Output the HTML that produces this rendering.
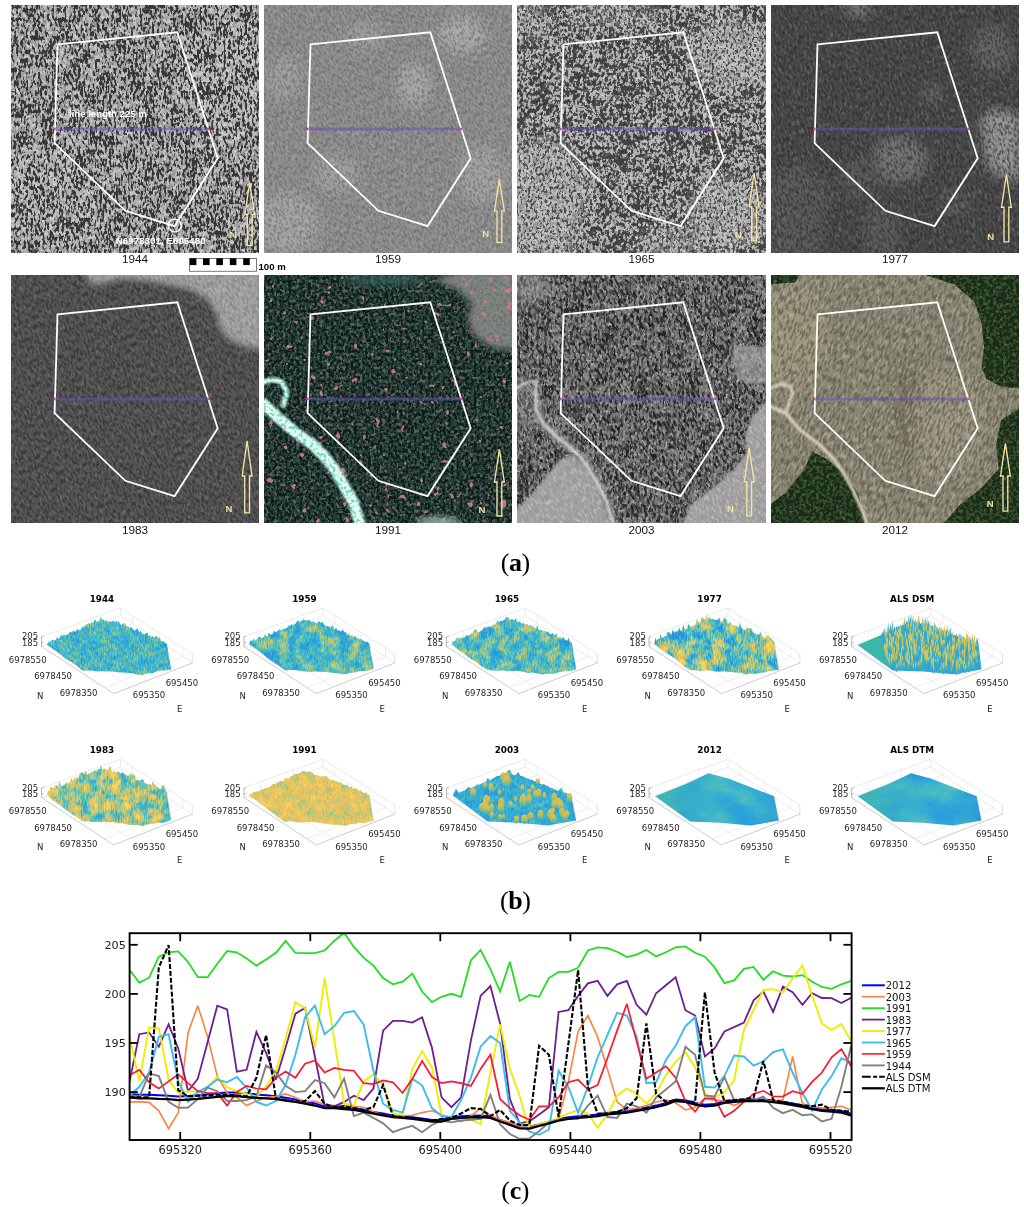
<!DOCTYPE html>
<html><head><meta charset="utf-8"><title>figure</title><style>
html,body{margin:0;padding:0;background:#fff}
body{width:1024px;height:1207px;overflow:hidden}
svg{display:block}
</style></head><body>
<svg width="1024" height="1207" viewBox="0 0 1024 1207">
<defs>
<filter id="blur3" x="-20%" y="-20%" width="140%" height="140%"><feGaussianBlur stdDeviation="3"/></filter>
<filter id="blur6" x="-30%" y="-30%" width="160%" height="160%"><feGaussianBlur stdDeviation="6"/></filter>
<filter id="blur10" x="-30%" y="-30%" width="160%" height="160%"><feGaussianBlur stdDeviation="10"/></filter>
<filter id="blur1" x="-20%" y="-20%" width="140%" height="140%"><feGaussianBlur stdDeviation="1"/></filter>
<filter id="m1944" x="0" y="0" width="1" height="1" color-interpolation-filters="sRGB">
<feTurbulence type="fractalNoise" baseFrequency="0.12 0.1" numOctaves="3" seed="2"/>
<feColorMatrix type="matrix" values="0 0 0 0 0.471 0 0 0 0 0.471 0 0 0 0 0.471 1 0 0 0 0"/>
<feComponentTransfer><feFuncA type="table" tableValues="0.450 0.450 0.450 0.450 0.450 0.450 0.450 0.450 0.450 0.450 0.450 0.450 0.450 0.450 0.450 0.450 0.405 0.349 0.292 0.236 0.180 0.124 0.067 0.011 0.000 0.000 0.000 0.000 0.000 0.000 0.000 0.000 0.000 0.000 0.000 0.000 0.000 0.000 0.000 0.000 0.000"/></feComponentTransfer><feGaussianBlur stdDeviation="0.8"/>
</filter>
<filter id="h1944" x="0" y="0" width="1" height="1" color-interpolation-filters="sRGB">
<feTurbulence type="fractalNoise" baseFrequency="0.42 0.22" numOctaves="2" seed="3" result="h0"/>
<feColorMatrix in="h0" type="matrix" values="1 0 0 0 0 1 0 0 0 0 1 0 0 0 0 0 0 0 0 1" result="h"/>
<feTurbulence type="fractalNoise" baseFrequency="0.07 0.06" numOctaves="2" seed="4" result="l0"/>
<feColorMatrix in="l0" type="matrix" values="1 0 0 0 0 1 0 0 0 0 1 0 0 0 0 0 0 0 0 1" result="l"/>
<feComposite in="h" in2="l" operator="arithmetic" k1="0" k2="0.75" k3="0.25" k4="0.000"/>
<feColorMatrix type="matrix" values="0 0 0 0 0.412 0 0 0 0 0.412 0 0 0 0 0.412 1 0 0 0 0"/>
<feComponentTransfer><feFuncA type="table" tableValues="0.500 0.500 0.500 0.500 0.500 0.500 0.500 0.500 0.500 0.500 0.500 0.500 0.500 0.500 0.500 0.500 0.500 0.500 0.500 0.406 0.250 0.094 0.000 0.000 0.000 0.000 0.000 0.000 0.000 0.000 0.000 0.000 0.000 0.000 0.000 0.000 0.000 0.000 0.000 0.000 0.000"/></feComponentTransfer><feGaussianBlur stdDeviation="0.7"/>
</filter>
<filter id="d1944" x="0" y="0" width="1" height="1" color-interpolation-filters="sRGB">
<feTurbulence type="fractalNoise" baseFrequency="0.42 0.22" numOctaves="2" seed="3" result="h0"/>
<feColorMatrix in="h0" type="matrix" values="1 0 0 0 0 1 0 0 0 0 1 0 0 0 0 0 0 0 0 1" result="h"/>
<feTurbulence type="fractalNoise" baseFrequency="0.07 0.06" numOctaves="2" seed="4" result="l0"/>
<feColorMatrix in="l0" type="matrix" values="1 0 0 0 0 1 0 0 0 0 1 0 0 0 0 0 0 0 0 1" result="l"/>
<feComposite in="h" in2="l" operator="arithmetic" k1="0" k2="0.75" k3="0.25" k4="0.000"/>
<feColorMatrix type="matrix" values="0 0 0 0 0.165 0 0 0 0 0.165 0 0 0 0 0.165 1 0 0 0 0"/>
<feComponentTransfer><feFuncA type="table" tableValues="0.880 0.880 0.880 0.880 0.880 0.880 0.880 0.880 0.880 0.880 0.880 0.880 0.880 0.880 0.880 0.880 0.880 0.880 0.629 0.314 0.000 0.000 0.000 0.000 0.000 0.000 0.000 0.000 0.000 0.000 0.000 0.000 0.000 0.000 0.000 0.000 0.000 0.000 0.000 0.000 0.000"/></feComponentTransfer><feGaussianBlur stdDeviation="0.55"/>
</filter>
<filter id="l1944" x="0" y="0" width="1" height="1" color-interpolation-filters="sRGB">
<feTurbulence type="fractalNoise" baseFrequency="0.3 0.25" numOctaves="3" seed="5"/>
<feColorMatrix type="matrix" values="0 0 0 0 0.831 0 0 0 0 0.831 0 0 0 0 0.831 1 0 0 0 0"/>
<feComponentTransfer><feFuncA type="table" tableValues="0.000 0.000 0.000 0.000 0.000 0.000 0.000 0.000 0.000 0.000 0.000 0.000 0.000 0.000 0.000 0.000 0.000 0.000 0.000 0.110 0.221 0.331 0.441 0.551 0.662 0.750 0.750 0.750 0.750 0.750 0.750 0.750 0.750 0.750 0.750 0.750 0.750 0.750 0.750 0.750 0.750"/></feComponentTransfer><feGaussianBlur stdDeviation="0.5"/>
</filter>
<clipPath id="cp0"><rect x="11" y="5" width="248" height="248"/></clipPath>
<filter id="d1959" x="0" y="0" width="1" height="1" color-interpolation-filters="sRGB">
<feTurbulence type="fractalNoise" baseFrequency="0.6 0.25" numOctaves="2" seed="5"/>
<feColorMatrix type="matrix" values="0 0 0 0 0.373 0 0 0 0 0.373 0 0 0 0 0.373 1 0 0 0 0"/>
<feComponentTransfer><feFuncA type="table" tableValues="0.550 0.550 0.550 0.550 0.550 0.550 0.550 0.550 0.550 0.550 0.550 0.550 0.550 0.550 0.550 0.550 0.471 0.373 0.275 0.177 0.079 0.000 0.000 0.000 0.000 0.000 0.000 0.000 0.000 0.000 0.000 0.000 0.000 0.000 0.000 0.000 0.000 0.000 0.000 0.000 0.000"/></feComponentTransfer><feGaussianBlur stdDeviation="0.5"/>
</filter>
<filter id="l1959" x="0" y="0" width="1" height="1" color-interpolation-filters="sRGB">
<feTurbulence type="fractalNoise" baseFrequency="0.5 0.22" numOctaves="2" seed="9"/>
<feColorMatrix type="matrix" values="0 0 0 0 0.686 0 0 0 0 0.686 0 0 0 0 0.686 1 0 0 0 0"/>
<feComponentTransfer><feFuncA type="table" tableValues="0.000 0.000 0.000 0.000 0.000 0.000 0.000 0.000 0.000 0.000 0.000 0.000 0.000 0.000 0.000 0.000 0.000 0.000 0.000 0.000 0.000 0.016 0.096 0.177 0.257 0.337 0.418 0.450 0.450 0.450 0.450 0.450 0.450 0.450 0.450 0.450 0.450 0.450 0.450 0.450 0.450"/></feComponentTransfer><feGaussianBlur stdDeviation="0.5"/>
</filter>
<clipPath id="cp1"><rect x="264" y="5" width="248" height="248"/></clipPath>
<filter id="d1965" x="0" y="0" width="1" height="1" color-interpolation-filters="sRGB">
<feTurbulence type="fractalNoise" baseFrequency="0.3 0.22" numOctaves="2" seed="11" result="h0"/>
<feColorMatrix in="h0" type="matrix" values="1 0 0 0 0 1 0 0 0 0 1 0 0 0 0 0 0 0 0 1" result="h"/>
<feTurbulence type="fractalNoise" baseFrequency="0.06 0.06" numOctaves="2" seed="12" result="l0"/>
<feColorMatrix in="l0" type="matrix" values="1 0 0 0 0 1 0 0 0 0 1 0 0 0 0 0 0 0 0 1" result="l"/>
<feComposite in="h" in2="l" operator="arithmetic" k1="0" k2="0.72" k3="0.28" k4="0.000"/>
<feColorMatrix type="matrix" values="0 0 0 0 0.188 0 0 0 0 0.188 0 0 0 0 0.188 1 0 0 0 0"/>
<feComponentTransfer><feFuncA type="table" tableValues="0.800 0.800 0.800 0.800 0.800 0.800 0.800 0.800 0.800 0.800 0.800 0.800 0.800 0.800 0.800 0.800 0.800 0.800 0.571 0.286 0.000 0.000 0.000 0.000 0.000 0.000 0.000 0.000 0.000 0.000 0.000 0.000 0.000 0.000 0.000 0.000 0.000 0.000 0.000 0.000 0.000"/></feComponentTransfer><feGaussianBlur stdDeviation="0.55"/>
</filter>
<filter id="h1965" x="0" y="0" width="1" height="1" color-interpolation-filters="sRGB">
<feTurbulence type="fractalNoise" baseFrequency="0.3 0.22" numOctaves="2" seed="11" result="h0"/>
<feColorMatrix in="h0" type="matrix" values="1 0 0 0 0 1 0 0 0 0 1 0 0 0 0 0 0 0 0 1" result="h"/>
<feTurbulence type="fractalNoise" baseFrequency="0.06 0.06" numOctaves="2" seed="12" result="l0"/>
<feColorMatrix in="l0" type="matrix" values="1 0 0 0 0 1 0 0 0 0 1 0 0 0 0 0 0 0 0 1" result="l"/>
<feComposite in="h" in2="l" operator="arithmetic" k1="0" k2="0.72" k3="0.28" k4="0.000"/>
<feColorMatrix type="matrix" values="0 0 0 0 0.392 0 0 0 0 0.392 0 0 0 0 0.392 1 0 0 0 0"/>
<feComponentTransfer><feFuncA type="table" tableValues="0.450 0.450 0.450 0.450 0.450 0.450 0.450 0.450 0.450 0.450 0.450 0.450 0.450 0.450 0.450 0.450 0.450 0.450 0.450 0.366 0.225 0.084 0.000 0.000 0.000 0.000 0.000 0.000 0.000 0.000 0.000 0.000 0.000 0.000 0.000 0.000 0.000 0.000 0.000 0.000 0.000"/></feComponentTransfer><feGaussianBlur stdDeviation="0.7"/>
</filter>
<filter id="l1965" x="0" y="0" width="1" height="1" color-interpolation-filters="sRGB">
<feTurbulence type="fractalNoise" baseFrequency="0.3 0.3" numOctaves="3" seed="13"/>
<feColorMatrix type="matrix" values="0 0 0 0 0.804 0 0 0 0 0.804 0 0 0 0 0.804 1 0 0 0 0"/>
<feComponentTransfer><feFuncA type="table" tableValues="0.000 0.000 0.000 0.000 0.000 0.000 0.000 0.000 0.000 0.000 0.000 0.000 0.000 0.000 0.000 0.000 0.000 0.000 0.000 0.100 0.200 0.300 0.400 0.500 0.600 0.700 0.800 0.800 0.800 0.800 0.800 0.800 0.800 0.800 0.800 0.800 0.800 0.800 0.800 0.800 0.800"/></feComponentTransfer><feGaussianBlur stdDeviation="0.5"/>
</filter>
<filter id="s1965" x="0" y="0" width="1" height="1" color-interpolation-filters="sRGB">
<feTurbulence type="fractalNoise" baseFrequency="0.42 0.3" numOctaves="2" seed="12"/>
<feColorMatrix type="matrix" values="0 0 0 0 0.216 0 0 0 0 0.216 0 0 0 0 0.216 1 0 0 0 0"/>
<feComponentTransfer><feFuncA type="table" tableValues="0.800 0.800 0.800 0.800 0.800 0.800 0.800 0.800 0.800 0.800 0.800 0.800 0.800 0.800 0.800 0.800 0.600 0.350 0.100 0.000 0.000 0.000 0.000 0.000 0.000 0.000 0.000 0.000 0.000 0.000 0.000 0.000 0.000 0.000 0.000 0.000 0.000 0.000 0.000 0.000 0.000"/></feComponentTransfer><feGaussianBlur stdDeviation="0.5"/>
</filter>
<clipPath id="cp2"><rect x="517" y="5" width="249" height="248"/></clipPath>
<mask id="dm1965"><rect x="517" y="5" width="249" height="248" fill="#fff"/><ellipse cx="731.0" cy="53.6" rx="41.3" ry="34.0" fill="#4a4a4a" filter="url(#blur6)"/><ellipse cx="546.2" cy="199.6" rx="38.9" ry="63.2" fill="#4a4a4a" filter="url(#blur6)"/><ellipse cx="728.6" cy="211.7" rx="41.3" ry="34.0" fill="#555" filter="url(#blur6)"/><ellipse cx="614.3" cy="14.7" rx="48.6" ry="12.2" fill="#888" filter="url(#blur6)"/><ellipse cx="531.6" cy="19.6" rx="19.5" ry="19.5" fill="#777" filter="url(#blur6)"/><ellipse cx="675.1" cy="243.3" rx="38.9" ry="14.6" fill="#777" filter="url(#blur6)"/></mask>
<filter id="d1977" x="0" y="0" width="1" height="1" color-interpolation-filters="sRGB">
<feTurbulence type="fractalNoise" baseFrequency="0.55 0.22" numOctaves="2" seed="17"/>
<feColorMatrix type="matrix" values="0 0 0 0 0.157 0 0 0 0 0.157 0 0 0 0 0.157 1 0 0 0 0"/>
<feComponentTransfer><feFuncA type="table" tableValues="0.600 0.600 0.600 0.600 0.600 0.600 0.600 0.600 0.600 0.600 0.600 0.600 0.600 0.600 0.600 0.600 0.514 0.407 0.300 0.193 0.086 0.000 0.000 0.000 0.000 0.000 0.000 0.000 0.000 0.000 0.000 0.000 0.000 0.000 0.000 0.000 0.000 0.000 0.000 0.000 0.000"/></feComponentTransfer><feGaussianBlur stdDeviation="0.5"/>
</filter>
<filter id="l1977" x="0" y="0" width="1" height="1" color-interpolation-filters="sRGB">
<feTurbulence type="fractalNoise" baseFrequency="0.45 0.2" numOctaves="2" seed="19"/>
<feColorMatrix type="matrix" values="0 0 0 0 0.490 0 0 0 0 0.490 0 0 0 0 0.490 1 0 0 0 0"/>
<feComponentTransfer><feFuncA type="table" tableValues="0.000 0.000 0.000 0.000 0.000 0.000 0.000 0.000 0.000 0.000 0.000 0.000 0.000 0.000 0.000 0.000 0.000 0.000 0.000 0.000 0.000 0.016 0.094 0.172 0.250 0.328 0.406 0.484 0.500 0.500 0.500 0.500 0.500 0.500 0.500 0.500 0.500 0.500 0.500 0.500 0.500"/></feComponentTransfer><feGaussianBlur stdDeviation="0.5"/>
</filter>
<clipPath id="cp3"><rect x="771" y="5" width="248" height="248"/></clipPath>
<filter id="d1983" x="0" y="0" width="1" height="1" color-interpolation-filters="sRGB">
<feTurbulence type="fractalNoise" baseFrequency="0.55 0.22" numOctaves="2" seed="23"/>
<feColorMatrix type="matrix" values="0 0 0 0 0.157 0 0 0 0 0.157 0 0 0 0 0.157 1 0 0 0 0"/>
<feComponentTransfer><feFuncA type="table" tableValues="0.600 0.600 0.600 0.600 0.600 0.600 0.600 0.600 0.600 0.600 0.600 0.600 0.600 0.600 0.600 0.600 0.514 0.407 0.300 0.193 0.086 0.000 0.000 0.000 0.000 0.000 0.000 0.000 0.000 0.000 0.000 0.000 0.000 0.000 0.000 0.000 0.000 0.000 0.000 0.000 0.000"/></feComponentTransfer><feGaussianBlur stdDeviation="0.5"/>
</filter>
<filter id="l1983" x="0" y="0" width="1" height="1" color-interpolation-filters="sRGB">
<feTurbulence type="fractalNoise" baseFrequency="0.45 0.2" numOctaves="2" seed="29"/>
<feColorMatrix type="matrix" values="0 0 0 0 0.490 0 0 0 0 0.490 0 0 0 0 0.490 1 0 0 0 0"/>
<feComponentTransfer><feFuncA type="table" tableValues="0.000 0.000 0.000 0.000 0.000 0.000 0.000 0.000 0.000 0.000 0.000 0.000 0.000 0.000 0.000 0.000 0.000 0.000 0.000 0.000 0.000 0.016 0.094 0.172 0.250 0.328 0.406 0.484 0.500 0.500 0.500 0.500 0.500 0.500 0.500 0.500 0.500 0.500 0.500 0.500 0.500"/></feComponentTransfer><feGaussianBlur stdDeviation="0.5"/>
</filter>
<filter id="lc1983" x="0" y="0" width="1" height="1" color-interpolation-filters="sRGB">
<feTurbulence type="fractalNoise" baseFrequency="0.5 0.2" numOctaves="2" seed="31"/>
<feColorMatrix type="matrix" values="0 0 0 0 0.431 0 0 0 0 0.431 0 0 0 0 0.431 1 0 0 0 0"/>
<feComponentTransfer><feFuncA type="table" tableValues="0.450 0.450 0.450 0.450 0.450 0.450 0.450 0.450 0.450 0.450 0.450 0.450 0.450 0.450 0.450 0.450 0.386 0.305 0.225 0.145 0.064 0.000 0.000 0.000 0.000 0.000 0.000 0.000 0.000 0.000 0.000 0.000 0.000 0.000 0.000 0.000 0.000 0.000 0.000 0.000 0.000"/></feComponentTransfer><feGaussianBlur stdDeviation="0.5"/>
</filter>
<filter id="ll1983" x="0" y="0" width="1" height="1" color-interpolation-filters="sRGB">
<feTurbulence type="fractalNoise" baseFrequency="0.5 0.2" numOctaves="2" seed="37"/>
<feColorMatrix type="matrix" values="0 0 0 0 0.745 0 0 0 0 0.745 0 0 0 0 0.745 1 0 0 0 0"/>
<feComponentTransfer><feFuncA type="table" tableValues="0.000 0.000 0.000 0.000 0.000 0.000 0.000 0.000 0.000 0.000 0.000 0.000 0.000 0.000 0.000 0.000 0.000 0.000 0.000 0.000 0.000 0.078 0.156 0.234 0.312 0.391 0.469 0.500 0.500 0.500 0.500 0.500 0.500 0.500 0.500 0.500 0.500 0.500 0.500 0.500 0.500"/></feComponentTransfer><feGaussianBlur stdDeviation="0.5"/>
</filter>
<clipPath id="cp4"><rect x="11" y="275" width="248" height="248"/></clipPath>
<mask id="lm1983"><polygon points="83.7,270.2 262.9,270.2 262.9,350.1 243.5,346.4 229.0,339.2 219.3,328.3 216.9,313.8 207.2,299.2 190.2,289.5 168.4,284.7 146.6,281.1 120.0,278.6 103.0,283.5 90.9,284.7" fill="#fff" filter="url(#blur3)"/></mask>
<filter id="c1991" x="0" y="0" width="1" height="1" color-interpolation-filters="sRGB">
<feTurbulence type="fractalNoise" baseFrequency="0.3 0.3" numOctaves="2" seed="31"/>
<feColorMatrix type="matrix" values="0 0 0 0 0.439 0 0 0 0 0.424 0 0 0 0 0.431 1 0 0 0 0"/>
<feComponentTransfer><feFuncA type="table" tableValues="0.000 0.000 0.000 0.000 0.000 0.000 0.000 0.000 0.000 0.000 0.000 0.000 0.000 0.000 0.000 0.000 0.000 0.000 0.000 0.000 0.000 0.156 0.313 0.469 0.625 0.750 0.750 0.750 0.750 0.750 0.750 0.750 0.750 0.750 0.750 0.750 0.750 0.750 0.750 0.750 0.750"/></feComponentTransfer><feGaussianBlur stdDeviation="0.5"/>
</filter>
<filter id="d1991" x="0" y="0" width="1" height="1" color-interpolation-filters="sRGB">
<feTurbulence type="fractalNoise" baseFrequency="0.35 0.3" numOctaves="2" seed="33"/>
<feColorMatrix type="matrix" values="0 0 0 0 0.031 0 0 0 0 0.086 0 0 0 0 0.071 1 0 0 0 0"/>
<feComponentTransfer><feFuncA type="table" tableValues="0.850 0.850 0.850 0.850 0.850 0.850 0.850 0.850 0.850 0.850 0.850 0.850 0.850 0.850 0.850 0.850 0.850 0.807 0.595 0.383 0.170 0.000 0.000 0.000 0.000 0.000 0.000 0.000 0.000 0.000 0.000 0.000 0.000 0.000 0.000 0.000 0.000 0.000 0.000 0.000 0.000"/></feComponentTransfer><feGaussianBlur stdDeviation="0.5"/>
</filter>
<filter id="p1991" x="0" y="0" width="1" height="1" color-interpolation-filters="sRGB">
<feTurbulence type="fractalNoise" baseFrequency="0.12 0.12" numOctaves="2" seed="41"/>
<feColorMatrix type="matrix" values="0 0 0 0 0.902 0 0 0 0 0.529 0 0 0 0 0.529 1 0 0 0 0"/>
<feComponentTransfer><feFuncA type="table" tableValues="0.000 0.000 0.000 0.000 0.000 0.000 0.000 0.000 0.000 0.000 0.000 0.000 0.000 0.000 0.000 0.000 0.000 0.000 0.000 0.000 0.000 0.000 0.000 0.000 0.000 0.000 0.000 0.000 0.000 0.000 0.343 0.800 0.800 0.800 0.800 0.800 0.800 0.800 0.800 0.800 0.800"/></feComponentTransfer><feGaussianBlur stdDeviation="0.5"/>
</filter>
<filter id="pp1991" x="0" y="0" width="1" height="1" color-interpolation-filters="sRGB">
<feTurbulence type="fractalNoise" baseFrequency="0.16 0.16" numOctaves="2" seed="43"/>
<feColorMatrix type="matrix" values="0 0 0 0 0.843 0 0 0 0 0.471 0 0 0 0 0.490 1 0 0 0 0"/>
<feComponentTransfer><feFuncA type="table" tableValues="0.000 0.000 0.000 0.000 0.000 0.000 0.000 0.000 0.000 0.000 0.000 0.000 0.000 0.000 0.000 0.000 0.000 0.000 0.000 0.000 0.000 0.000 0.000 0.000 0.000 0.000 0.142 0.496 0.850 0.850 0.850 0.850 0.850 0.850 0.850 0.850 0.850 0.850 0.850 0.850 0.850"/></feComponentTransfer><feGaussianBlur stdDeviation="0.5"/>
</filter>
<filter id="r1991" x="0" y="0" width="1" height="1" color-interpolation-filters="sRGB">
<feTurbulence type="fractalNoise" baseFrequency="0.3 0.3" numOctaves="2" seed="45"/>
<feColorMatrix type="matrix" values="0 0 0 0 0.922 0 0 0 0 1.000 0 0 0 0 0.973 1 0 0 0 0"/>
<feComponentTransfer><feFuncA type="table" tableValues="0.000 0.000 0.000 0.000 0.000 0.000 0.000 0.000 0.000 0.000 0.000 0.000 0.000 0.000 0.000 0.102 0.271 0.441 0.611 0.780 0.950 0.950 0.950 0.950 0.950 0.950 0.950 0.950 0.950 0.950 0.950 0.950 0.950 0.950 0.950 0.950 0.950 0.950 0.950 0.950 0.950"/></feComponentTransfer><feGaussianBlur stdDeviation="0.5"/>
</filter>
<clipPath id="cp5"><rect x="264" y="275" width="248" height="248"/></clipPath>
<mask id="um1991"><polygon points="465.0,270.2 515.9,270.2 515.9,350.1 494.1,347.7 474.7,335.5 467.4,318.6 472.3,304.1 457.8,289.5 433.5,279.8" fill="#fff" filter="url(#blur3)"/></mask>
<mask id="rm1991"><polyline points="261.6,402.1 278.5,417.9 295.5,432.4 312.4,444.5 324.5,456.6 334.2,468.8 343.9,485.7 353.6,502.7 360.9,526.9" fill="none" stroke="#fff" stroke-width="11" stroke-linejoin="round" filter="url(#blur1)"/><polyline points="261.6,382.8 271.3,379.6 281.0,381.6 287.0,391.3 284.6,400.9 282.2,407.0" fill="none" stroke="#fff" stroke-width="5" filter="url(#blur1)"/></mask>
<filter id="d2003" x="0" y="0" width="1" height="1" color-interpolation-filters="sRGB">
<feTurbulence type="fractalNoise" baseFrequency="0.38 0.22" numOctaves="2" seed="43" result="h0"/>
<feColorMatrix in="h0" type="matrix" values="1 0 0 0 0 1 0 0 0 0 1 0 0 0 0 0 0 0 0 1" result="h"/>
<feTurbulence type="fractalNoise" baseFrequency="0.06 0.06" numOctaves="2" seed="44" result="l0"/>
<feColorMatrix in="l0" type="matrix" values="1 0 0 0 0 1 0 0 0 0 1 0 0 0 0 0 0 0 0 1" result="l"/>
<feComposite in="h" in2="l" operator="arithmetic" k1="0" k2="0.72" k3="0.28" k4="0.000"/>
<feColorMatrix type="matrix" values="0 0 0 0 0.098 0 0 0 0 0.098 0 0 0 0 0.098 1 0 0 0 0"/>
<feComponentTransfer><feFuncA type="table" tableValues="0.930 0.930 0.930 0.930 0.930 0.930 0.930 0.930 0.930 0.930 0.930 0.930 0.930 0.930 0.930 0.930 0.930 0.930 0.930 0.756 0.465 0.174 0.000 0.000 0.000 0.000 0.000 0.000 0.000 0.000 0.000 0.000 0.000 0.000 0.000 0.000 0.000 0.000 0.000 0.000 0.000"/></feComponentTransfer><feGaussianBlur stdDeviation="0.5"/>
</filter>
<filter id="l2003" x="0" y="0" width="1" height="1" color-interpolation-filters="sRGB">
<feTurbulence type="fractalNoise" baseFrequency="0.35 0.3" numOctaves="3" seed="47"/>
<feColorMatrix type="matrix" values="0 0 0 0 0.765 0 0 0 0 0.765 0 0 0 0 0.765 1 0 0 0 0"/>
<feComponentTransfer><feFuncA type="table" tableValues="0.000 0.000 0.000 0.000 0.000 0.000 0.000 0.000 0.000 0.000 0.000 0.000 0.000 0.000 0.000 0.000 0.000 0.000 0.000 0.000 0.000 0.021 0.125 0.229 0.333 0.438 0.542 0.646 0.750 0.750 0.750 0.750 0.750 0.750 0.750 0.750 0.750 0.750 0.750 0.750 0.750"/></feComponentTransfer><feGaussianBlur stdDeviation="0.5"/>
</filter>
<filter id="t2003" x="0" y="0" width="1" height="1" color-interpolation-filters="sRGB">
<feTurbulence type="fractalNoise" baseFrequency="0.5 0.12" numOctaves="2" seed="48"/>
<feColorMatrix type="matrix" values="0 0 0 0 0.588 0 0 0 0 0.588 0 0 0 0 0.588 1 0 0 0 0"/>
<feComponentTransfer><feFuncA type="table" tableValues="0.500 0.500 0.500 0.500 0.500 0.500 0.500 0.500 0.500 0.500 0.500 0.500 0.500 0.500 0.500 0.500 0.500 0.438 0.375 0.313 0.250 0.187 0.125 0.063 0.000 0.000 0.000 0.000 0.000 0.000 0.000 0.000 0.000 0.000 0.000 0.000 0.000 0.000 0.000 0.000 0.000"/></feComponentTransfer><feGaussianBlur stdDeviation="0.5"/>
</filter>
<filter id="c2003" x="0" y="0" width="1" height="1" color-interpolation-filters="sRGB">
<feTurbulence type="fractalNoise" baseFrequency="0.6 0.15" numOctaves="2" seed="71"/>
<feColorMatrix type="matrix" values="0 0 0 0 0.549 0 0 0 0 0.549 0 0 0 0 0.549 1 0 0 0 0"/>
<feComponentTransfer><feFuncA type="table" tableValues="0.550 0.550 0.550 0.550 0.550 0.550 0.550 0.550 0.550 0.550 0.550 0.550 0.550 0.550 0.550 0.498 0.412 0.327 0.241 0.155 0.069 0.000 0.000 0.000 0.000 0.000 0.000 0.000 0.000 0.000 0.000 0.000 0.000 0.000 0.000 0.000 0.000 0.000 0.000 0.000 0.000"/></feComponentTransfer><feGaussianBlur stdDeviation="0.5"/>
</filter>
<filter id="cl2003" x="0" y="0" width="1" height="1" color-interpolation-filters="sRGB">
<feTurbulence type="fractalNoise" baseFrequency="0.5 0.2" numOctaves="2" seed="73"/>
<feColorMatrix type="matrix" values="0 0 0 0 0.843 0 0 0 0 0.843 0 0 0 0 0.843 1 0 0 0 0"/>
<feComponentTransfer><feFuncA type="table" tableValues="0.000 0.000 0.000 0.000 0.000 0.000 0.000 0.000 0.000 0.000 0.000 0.000 0.000 0.000 0.000 0.000 0.000 0.000 0.000 0.000 0.000 0.018 0.107 0.196 0.286 0.375 0.464 0.500 0.500 0.500 0.500 0.500 0.500 0.500 0.500 0.500 0.500 0.500 0.500 0.500 0.500"/></feComponentTransfer><feGaussianBlur stdDeviation="0.5"/>
</filter>
<clipPath id="cp6"><rect x="517" y="275" width="249" height="248"/></clipPath>
<mask id="fm2003"><rect x="517" y="275" width="249" height="248" fill="#fff"/><polygon points="514.0,526.0 514.0,511.8 534.6,491.3 550.7,470.8 560.9,459.1 572.7,456.2 582.9,462.0 593.2,473.7 602.0,491.3 610.7,526.0" fill="#000" filter="url(#blur1)"/><polygon points="733.2,346.0 769.0,346.0 769.0,382.8 746.0,384.4 734.8,373.2 732.0,358.8" fill="#505050" filter="url(#blur1)"/><polygon points="769.0,398.8 752.4,416.4 746.0,434.0 746.0,454.8 733.2,470.8 714.0,486.8 690.0,506.0 682.0,526.0 769.0,526.0" fill="#000" filter="url(#blur1)"/><polygon points="536.0,383.0 543.0,415.0 557.0,433.0 577.0,447.0 595.0,467.0 607.0,490.0 617.0,525.0 609.0,525.0 599.0,487.0 587.0,470.0 569.0,453.0 551.0,438.0 537.0,425.0 531.0,395.0" fill="#555" filter="url(#blur3)"/><polygon points="514.0,375.0 534.0,375.0 534.0,425.0 514.0,435.0" fill="#aaa" filter="url(#blur3)"/><ellipse cx="525" cy="283" rx="24" ry="24" fill="#999" filter="url(#blur6)"/></mask>
<filter id="d2012" x="0" y="0" width="1" height="1" color-interpolation-filters="sRGB">
<feTurbulence type="fractalNoise" baseFrequency="0.5 0.15" numOctaves="2" seed="53"/>
<feColorMatrix type="matrix" values="0 0 0 0 0.306 0 0 0 0 0.306 0 0 0 0 0.259 1 0 0 0 0"/>
<feComponentTransfer><feFuncA type="table" tableValues="0.600 0.600 0.600 0.600 0.600 0.600 0.600 0.600 0.600 0.600 0.600 0.600 0.600 0.600 0.600 0.600 0.514 0.407 0.300 0.193 0.086 0.000 0.000 0.000 0.000 0.000 0.000 0.000 0.000 0.000 0.000 0.000 0.000 0.000 0.000 0.000 0.000 0.000 0.000 0.000 0.000"/></feComponentTransfer><feGaussianBlur stdDeviation="0.5"/>
</filter>
<filter id="l2012" x="0" y="0" width="1" height="1" color-interpolation-filters="sRGB">
<feTurbulence type="fractalNoise" baseFrequency="0.45 0.15" numOctaves="2" seed="59"/>
<feColorMatrix type="matrix" values="0 0 0 0 0.725 0 0 0 0 0.706 0 0 0 0 0.627 1 0 0 0 0"/>
<feComponentTransfer><feFuncA type="table" tableValues="0.000 0.000 0.000 0.000 0.000 0.000 0.000 0.000 0.000 0.000 0.000 0.000 0.000 0.000 0.000 0.000 0.000 0.000 0.000 0.000 0.000 0.094 0.188 0.281 0.375 0.469 0.562 0.600 0.600 0.600 0.600 0.600 0.600 0.600 0.600 0.600 0.600 0.600 0.600 0.600 0.600"/></feComponentTransfer><feGaussianBlur stdDeviation="0.5"/>
</filter>
<filter id="g2012" x="0" y="0" width="1" height="1" color-interpolation-filters="sRGB">
<feTurbulence type="fractalNoise" baseFrequency="0.3 0.3" numOctaves="2" seed="61"/>
<feColorMatrix type="matrix" values="0 0 0 0 0.078 0 0 0 0 0.157 0 0 0 0 0.078 1 0 0 0 0"/>
<feComponentTransfer><feFuncA type="table" tableValues="0.900 0.900 0.900 0.900 0.900 0.900 0.900 0.900 0.900 0.900 0.900 0.900 0.900 0.900 0.900 0.900 0.900 0.900 0.900 0.765 0.540 0.315 0.090 0.000 0.000 0.000 0.000 0.000 0.000 0.000 0.000 0.000 0.000 0.000 0.000 0.000 0.000 0.000 0.000 0.000 0.000"/></feComponentTransfer><feGaussianBlur stdDeviation="0.5"/>
</filter>
<filter id="gl2012" x="0" y="0" width="1" height="1" color-interpolation-filters="sRGB">
<feTurbulence type="fractalNoise" baseFrequency="0.3 0.3" numOctaves="2" seed="67"/>
<feColorMatrix type="matrix" values="0 0 0 0 0.275 0 0 0 0 0.431 0 0 0 0 0.216 1 0 0 0 0"/>
<feComponentTransfer><feFuncA type="table" tableValues="0.000 0.000 0.000 0.000 0.000 0.000 0.000 0.000 0.000 0.000 0.000 0.000 0.000 0.000 0.000 0.000 0.000 0.000 0.000 0.000 0.000 0.000 0.000 0.000 0.200 0.450 0.700 0.800 0.800 0.800 0.800 0.800 0.800 0.800 0.800 0.800 0.800 0.800 0.800 0.800 0.800"/></feComponentTransfer><feGaussianBlur stdDeviation="0.5"/>
</filter>
<clipPath id="cp7"><rect x="771" y="275" width="248" height="248"/></clipPath>
<clipPath id="fo2012"><polygon points="916.3,270.2 1022.9,270.2 1022.9,388.8 1001.1,386.4 986.5,379.1 981.7,367.0 984.1,347.7 981.7,323.4 974.4,301.6 955.1,284.7 926.0,275.0"/><polygon points="1022.9,405.8 1001.1,420.3 996.2,444.5 998.7,468.8 981.7,488.1 959.9,505.1 940.5,526.9 1022.9,526.9"/><polygon points="766.2,526.9 766.2,507.5 785.5,493.0 804.9,468.8 812.2,451.8 826.7,459.1 843.7,473.6 858.2,493.0 865.5,526.9"/><polygon points="766.2,270.2 802.5,270.2 795.2,282.3 766.2,284.7"/></clipPath>
<linearGradient id="spk" x1="0" y1="0" x2="0" y2="1"><stop offset="0" stop-color="#f4cc50"/><stop offset="0.35" stop-color="#d8c858"/><stop offset="0.6" stop-color="#58b8a8"/><stop offset="1" stop-color="#2a9ed4"/></linearGradient>
<linearGradient id="blb" x1="0" y1="0" x2="0" y2="1"><stop offset="0" stop-color="#f0be48"/><stop offset="0.5" stop-color="#b8c060"/><stop offset="1" stop-color="#40b0b8"/></linearGradient>
<linearGradient id="tint" x1="0" y1="0" x2="1" y2="0"><stop offset="0.05" stop-color="#48bca0" stop-opacity="0.75"/><stop offset="0.4" stop-color="#40b4b0" stop-opacity="0.15"/><stop offset="0.7" stop-color="#2aa0d0" stop-opacity="0"/><stop offset="1" stop-color="#1f88d8" stop-opacity="0.4"/></linearGradient>
<filter id="pf0" x="0" y="0" width="1" height="1" color-interpolation-filters="sRGB">
<feTurbulence type="fractalNoise" baseFrequency="0.1 0.1" numOctaves="3" seed="3" result="a0"/>
<feColorMatrix in="a0" type="matrix" values="1 0 0 0 0 1 0 0 0 0 1 0 0 0 0 0 0 0 0 1" result="a"/>
<feTurbulence type="fractalNoise" baseFrequency="0.7 0.25" numOctaves="2" seed="6" result="b0"/>
<feColorMatrix in="b0" type="matrix" values="1 0 0 0 0 1 0 0 0 0 1 0 0 0 0 0 0 0 0 1" result="b"/>
<feComposite in="a" in2="b" operator="arithmetic" k1="0" k2="0.4" k3="0.6" k4="0.000"/>
<feComponentTransfer><feFuncR type="table" tableValues="0.160 0.160 0.160 0.160 0.160 0.160 0.160 0.160 0.160 0.161 0.167 0.173 0.178 0.194 0.213 0.233 0.258 0.311 0.364 0.418 0.486 0.565 0.644 0.722 0.781 0.840 0.899 0.935 0.947 0.958 0.969 0.970 0.970"/><feFuncG type="table" tableValues="0.580 0.580 0.580 0.580 0.580 0.580 0.580 0.580 0.580 0.585 0.605 0.624 0.644 0.664 0.683 0.703 0.722 0.736 0.750 0.764 0.772 0.774 0.777 0.780 0.774 0.769 0.763 0.771 0.793 0.816 0.838 0.840 0.840"/><feFuncB type="table" tableValues="0.860 0.860 0.860 0.860 0.860 0.860 0.860 0.860 0.860 0.859 0.856 0.854 0.851 0.840 0.826 0.812 0.794 0.755 0.716 0.676 0.630 0.580 0.529 0.479 0.448 0.417 0.386 0.369 0.366 0.363 0.360 0.360 0.360"/></feComponentTransfer>
</filter>
<clipPath id="sc0"><polygon points="47.8,642.9 49.1,641.5 50.5,641.6 51.8,640.2 53.1,639.6 54.4,640.4 55.8,639.9 57.1,636.9 58.4,638.6 59.7,638.1 61.1,634.3 62.4,636.4 63.7,634.2 65.0,635.4 66.4,634.2 67.7,635.0 69.0,633.1 70.3,631.4 71.7,632.5 73.0,631.0 74.3,630.8 75.6,631.9 77.0,629.3 78.3,629.6 79.6,629.9 81.0,629.5 82.3,626.3 83.6,627.5 84.9,625.8 86.3,624.3 87.6,624.6 88.9,622.8 90.3,624.6 91.6,622.3 92.9,623.2 94.3,620.2 95.6,619.9 96.9,622.0 98.2,621.3 99.6,620.6 100.9,616.8 102.3,619.8 103.6,619.4 105.0,620.9 106.3,620.6 107.7,621.4 109.1,621.8 110.4,621.4 111.8,621.8 113.1,620.5 114.5,622.1 115.9,621.0 117.2,621.9 118.6,621.3 119.9,623.6 121.3,625.4 122.7,623.4 124.1,623.3 125.4,624.2 126.8,626.5 128.2,626.4 129.6,628.6 130.9,626.8 132.3,628.6 133.7,630.0 135.1,630.8 136.5,628.8 137.8,628.5 139.2,632.4 140.6,630.8 142.0,632.9 143.3,634.0 144.7,634.3 146.0,633.1 147.4,633.0 148.7,636.2 150.1,635.4 151.5,637.2 152.8,636.0 154.2,637.9 155.5,636.1 156.9,636.0 158.3,639.0 159.6,637.0 161.0,640.6 162.3,641.5 163.7,640.8 165.0,642.6 166.9,643.7 171.2,669.3 166.5,670.4 161.7,670.5 157.0,671.2 152.3,673.2 147.5,673.2 142.8,675.0 137.8,674.4 132.8,673.2 127.8,672.8 122.7,672.5 117.7,672.2 112.7,671.6 107.7,671.4 102.7,671.3 97.7,671.6 92.6,670.8 87.6,670.5 82.6,670.7 76.8,665.8 71.0,661.7 65.2,658.5 59.4,653.6 53.6,649.4 46.8,644.5"/></clipPath>
<filter id="pf1" x="0" y="0" width="1" height="1" color-interpolation-filters="sRGB">
<feTurbulence type="fractalNoise" baseFrequency="0.1 0.08" numOctaves="3" seed="5" result="a0"/>
<feColorMatrix in="a0" type="matrix" values="1 0 0 0 0 1 0 0 0 0 1 0 0 0 0 0 0 0 0 1" result="a"/>
<feTurbulence type="fractalNoise" baseFrequency="0.7 0.25" numOctaves="2" seed="8" result="b0"/>
<feColorMatrix in="b0" type="matrix" values="1 0 0 0 0 1 0 0 0 0 1 0 0 0 0 0 0 0 0 1" result="b"/>
<feComposite in="a" in2="b" operator="arithmetic" k1="0" k2="0.6" k3="0.4" k4="0.000"/>
<feComponentTransfer><feFuncR type="table" tableValues="0.160 0.160 0.160 0.160 0.160 0.160 0.160 0.160 0.160 0.160 0.164 0.171 0.177 0.195 0.218 0.242 0.292 0.356 0.420 0.505 0.600 0.694 0.771 0.842 0.913 0.940 0.954 0.967 0.970 0.970 0.970 0.970 0.970"/><feFuncG type="table" tableValues="0.580 0.580 0.580 0.580 0.580 0.580 0.580 0.580 0.580 0.580 0.594 0.617 0.641 0.665 0.688 0.712 0.731 0.748 0.765 0.772 0.776 0.779 0.775 0.768 0.762 0.781 0.808 0.835 0.840 0.840 0.840 0.840 0.840"/><feFuncB type="table" tableValues="0.860 0.860 0.860 0.860 0.860 0.860 0.860 0.860 0.860 0.860 0.858 0.855 0.851 0.840 0.823 0.806 0.769 0.722 0.675 0.618 0.557 0.497 0.453 0.416 0.379 0.367 0.364 0.361 0.360 0.360 0.360 0.360 0.360"/></feComponentTransfer>
</filter>
<clipPath id="sc1"><polygon points="250.3,640.2 251.6,640.9 253.0,640.0 254.3,638.6 255.6,640.7 256.9,639.0 258.3,637.0 259.6,636.7 260.9,637.7 262.2,638.2 263.6,637.2 264.9,633.8 266.2,636.6 267.5,635.8 268.9,632.5 270.2,634.4 271.5,634.4 272.8,633.7 274.2,630.6 275.5,632.5 276.8,631.8 278.1,630.5 279.5,629.1 280.8,630.0 282.1,630.1 283.5,628.4 284.8,628.9 286.1,628.3 287.4,627.5 288.8,625.3 290.1,626.1 291.4,624.1 292.8,625.0 294.1,624.5 295.4,623.9 296.8,621.5 298.1,620.0 299.4,621.8 300.7,621.2 302.1,620.7 303.4,618.6 304.8,620.1 306.1,620.8 307.5,619.7 308.8,620.3 310.2,621.2 311.6,622.2 312.9,621.2 314.3,621.9 315.6,622.7 317.0,623.6 318.4,621.0 319.7,621.8 321.1,623.1 322.4,621.7 323.8,624.3 325.2,625.6 326.6,626.5 327.9,625.8 329.3,626.7 330.7,627.5 332.1,625.3 333.4,626.8 334.8,629.7 336.2,627.6 337.6,630.9 339.0,629.9 340.3,631.6 341.7,630.6 343.1,629.8 344.5,632.5 345.8,632.0 347.2,634.6 348.5,633.6 349.9,635.6 351.2,635.5 352.6,636.3 354.0,637.2 355.3,635.8 356.7,638.3 358.0,638.6 359.4,639.4 360.8,638.4 362.1,640.1 363.5,641.0 364.8,641.5 366.2,641.9 367.5,641.7 369.4,643.9 373.7,668.7 369.0,670.5 364.2,671.1 359.5,671.3 354.8,672.4 350.0,672.9 345.3,674.0 340.3,673.7 335.3,672.9 330.2,672.4 325.2,672.0 320.2,671.7 315.2,671.6 310.2,671.9 305.2,671.4 300.1,670.9 295.1,670.0 290.1,670.1 285.1,670.6 279.3,666.0 273.5,662.5 267.7,658.4 261.9,653.2 256.1,649.1 249.3,644.5"/></clipPath>
<filter id="pf2" x="0" y="0" width="1" height="1" color-interpolation-filters="sRGB">
<feTurbulence type="fractalNoise" baseFrequency="0.1 0.08" numOctaves="3" seed="7" result="a0"/>
<feColorMatrix in="a0" type="matrix" values="1 0 0 0 0 1 0 0 0 0 1 0 0 0 0 0 0 0 0 1" result="a"/>
<feTurbulence type="fractalNoise" baseFrequency="0.7 0.25" numOctaves="2" seed="10" result="b0"/>
<feColorMatrix in="b0" type="matrix" values="1 0 0 0 0 1 0 0 0 0 1 0 0 0 0 0 0 0 0 1" result="b"/>
<feComposite in="a" in2="b" operator="arithmetic" k1="0" k2="0.6" k3="0.4" k4="0.000"/>
<feComponentTransfer><feFuncR type="table" tableValues="0.160 0.160 0.160 0.160 0.160 0.160 0.160 0.160 0.160 0.160 0.163 0.171 0.178 0.199 0.226 0.255 0.326 0.397 0.482 0.587 0.692 0.778 0.857 0.931 0.946 0.961 0.970 0.970 0.970 0.970 0.970 0.970 0.970"/><feFuncG type="table" tableValues="0.580 0.580 0.580 0.580 0.580 0.580 0.580 0.580 0.580 0.580 0.591 0.617 0.643 0.669 0.696 0.721 0.740 0.759 0.772 0.775 0.779 0.774 0.767 0.762 0.792 0.822 0.840 0.840 0.840 0.840 0.840 0.840 0.840"/><feFuncB type="table" tableValues="0.860 0.860 0.860 0.860 0.860 0.860 0.860 0.860 0.860 0.860 0.858 0.855 0.851 0.836 0.818 0.796 0.744 0.692 0.633 0.565 0.498 0.450 0.408 0.370 0.366 0.362 0.360 0.360 0.360 0.360 0.360 0.360 0.360"/></feComponentTransfer>
</filter>
<clipPath id="sc2"><polygon points="452.8,640.6 454.1,642.0 455.5,639.9 456.8,638.0 458.1,637.5 459.4,638.8 460.8,637.7 462.1,638.3 463.4,637.2 464.7,637.7 466.1,635.3 467.4,635.2 468.7,635.8 470.0,635.0 471.4,632.8 472.7,633.8 474.0,630.2 475.3,629.5 476.7,630.0 478.0,632.4 479.3,631.9 480.6,631.0 482.0,630.3 483.3,628.2 484.6,626.8 486.0,627.7 487.3,626.7 488.6,626.4 489.9,627.1 491.3,625.4 492.6,625.7 493.9,624.5 495.3,624.6 496.6,622.2 497.9,619.9 499.3,622.7 500.6,620.7 501.9,621.5 503.2,620.3 504.6,620.1 505.9,616.5 507.3,617.7 508.6,616.9 510.0,620.5 511.3,618.9 512.7,619.3 514.1,620.7 515.4,618.6 516.8,620.8 518.1,622.5 519.5,621.0 520.9,622.6 522.2,623.7 523.6,622.7 524.9,624.6 526.3,624.2 527.7,624.2 529.1,626.1 530.4,624.8 531.8,627.1 533.2,625.9 534.6,627.7 536.0,628.7 537.3,625.1 538.7,629.8 540.1,630.3 541.5,629.8 542.8,631.2 544.2,630.8 545.6,631.6 547.0,631.6 548.3,632.3 549.7,633.7 551.0,634.4 552.4,633.1 553.7,634.9 555.1,635.1 556.5,633.2 557.8,637.3 559.2,637.5 560.5,637.0 561.9,638.9 563.3,637.0 564.6,639.3 566.0,640.1 567.3,640.8 568.7,637.6 570.0,642.1 571.9,642.4 576.2,669.7 571.5,670.8 566.7,671.3 562.0,671.6 557.3,672.7 552.5,674.1 547.8,673.6 542.8,674.4 537.8,673.6 532.8,672.4 527.7,673.1 522.7,671.7 517.7,670.8 512.7,671.0 507.7,671.2 502.6,670.2 497.6,670.9 492.6,670.5 487.6,670.1 481.8,666.6 476.0,662.1 470.2,658.4 464.4,654.1 458.6,649.9 451.8,644.4"/></clipPath>
<filter id="pf3" x="0" y="0" width="1" height="1" color-interpolation-filters="sRGB">
<feTurbulence type="fractalNoise" baseFrequency="0.08 0.07" numOctaves="3" seed="9" result="a0"/>
<feColorMatrix in="a0" type="matrix" values="1 0 0 0 0 1 0 0 0 0 1 0 0 0 0 0 0 0 0 1" result="a"/>
<feTurbulence type="fractalNoise" baseFrequency="0.7 0.2" numOctaves="2" seed="12" result="b0"/>
<feColorMatrix in="b0" type="matrix" values="1 0 0 0 0 1 0 0 0 0 1 0 0 0 0 0 0 0 0 1" result="b"/>
<feComposite in="a" in2="b" operator="arithmetic" k1="0" k2="0.6" k3="0.4" k4="0.000"/>
<feComponentTransfer><feFuncR type="table" tableValues="0.160 0.160 0.160 0.160 0.160 0.160 0.160 0.160 0.160 0.160 0.160 0.165 0.176 0.201 0.238 0.317 0.417 0.553 0.700 0.816 0.926 0.950 0.970 0.970 0.970 0.970 0.970 0.970 0.970 0.970 0.970 0.970 0.970"/><feFuncG type="table" tableValues="0.580 0.580 0.580 0.580 0.580 0.580 0.580 0.580 0.580 0.580 0.580 0.598 0.635 0.671 0.708 0.738 0.764 0.774 0.779 0.771 0.760 0.800 0.840 0.840 0.840 0.840 0.840 0.840 0.840 0.840 0.840 0.840 0.840"/><feFuncB type="table" tableValues="0.860 0.860 0.860 0.860 0.860 0.860 0.860 0.860 0.860 0.860 0.860 0.857 0.852 0.835 0.808 0.750 0.677 0.587 0.493 0.430 0.372 0.365 0.360 0.360 0.360 0.360 0.360 0.360 0.360 0.360 0.360 0.360 0.360"/></feComponentTransfer>
</filter>
<clipPath id="sc3"><polygon points="655.4,636.9 656.7,641.0 658.1,638.8 659.4,638.7 660.7,634.3 662.0,638.1 663.4,637.3 664.7,636.0 666.0,636.5 667.3,632.1 668.7,631.9 670.0,632.8 671.3,635.2 672.6,629.2 674.0,632.4 675.3,631.6 676.6,631.4 677.9,631.0 679.3,627.1 680.6,631.0 681.9,630.8 683.2,624.8 684.6,629.5 685.9,628.9 687.2,627.6 688.6,623.5 689.9,626.6 691.2,626.8 692.5,625.8 693.9,625.2 695.2,624.9 696.5,619.8 697.9,620.6 699.2,622.9 700.5,622.0 701.9,616.4 703.2,618.4 704.5,619.4 705.8,618.0 707.2,613.8 708.5,618.3 709.9,616.7 711.2,619.3 712.6,618.4 713.9,619.7 715.3,619.8 716.7,619.9 718.0,620.1 719.4,617.0 720.7,621.1 722.1,622.2 723.5,618.6 724.8,618.2 726.2,619.3 727.5,623.2 728.9,623.3 730.3,621.2 731.7,625.0 733.0,625.6 734.4,624.7 735.8,626.4 737.2,626.0 738.6,627.6 739.9,623.1 741.3,627.4 742.7,628.7 744.1,629.4 745.4,630.0 746.8,627.5 748.2,627.9 749.6,628.5 750.9,627.7 752.3,631.0 753.6,632.8 755.0,633.2 756.3,634.6 757.7,634.5 759.1,634.4 760.4,632.1 761.8,634.9 763.1,637.3 764.5,636.3 765.9,637.8 767.2,635.3 768.6,635.5 769.9,638.0 771.3,638.1 772.6,640.1 774.5,642.4 778.8,669.9 774.1,670.6 769.3,671.1 764.6,672.5 759.9,673.1 755.1,673.8 750.4,673.7 745.4,674.5 740.4,672.8 735.4,672.5 730.3,671.9 725.3,671.5 720.3,671.8 715.3,671.4 710.3,670.6 705.2,670.5 700.2,671.1 695.2,670.3 690.2,670.0 684.4,666.6 678.6,661.6 672.8,657.1 667.0,653.6 661.2,649.7 654.4,644.0"/></clipPath>
<filter id="pf4" x="0" y="0" width="1" height="1" color-interpolation-filters="sRGB">
<feTurbulence type="fractalNoise" baseFrequency="0.1 0.1" numOctaves="3" seed="11" result="a0"/>
<feColorMatrix in="a0" type="matrix" values="1 0 0 0 0 1 0 0 0 0 1 0 0 0 0 0 0 0 0 1" result="a"/>
<feTurbulence type="fractalNoise" baseFrequency="0.7 0.25" numOctaves="2" seed="14" result="b0"/>
<feColorMatrix in="b0" type="matrix" values="1 0 0 0 0 1 0 0 0 0 1 0 0 0 0 0 0 0 0 1" result="b"/>
<feComposite in="a" in2="b" operator="arithmetic" k1="0" k2="0.5" k3="0.5" k4="0.000"/>
<feComponentTransfer><feFuncR type="table" tableValues="0.160 0.160 0.160 0.160 0.160 0.160 0.162 0.164 0.166 0.168 0.171 0.173 0.175 0.177 0.179 0.186 0.194 0.202 0.210 0.218 0.226 0.233 0.241 0.249 0.269 0.290 0.312 0.333 0.354 0.376 0.397 0.419 0.440"/><feFuncG type="table" tableValues="0.580 0.580 0.580 0.580 0.580 0.580 0.585 0.593 0.601 0.609 0.617 0.625 0.633 0.640 0.648 0.656 0.664 0.672 0.680 0.688 0.696 0.703 0.711 0.719 0.725 0.731 0.736 0.742 0.747 0.753 0.759 0.764 0.770"/><feFuncB type="table" tableValues="0.860 0.860 0.860 0.860 0.860 0.860 0.859 0.858 0.857 0.856 0.855 0.854 0.853 0.851 0.850 0.846 0.840 0.834 0.829 0.823 0.818 0.812 0.806 0.801 0.786 0.770 0.755 0.739 0.723 0.707 0.692 0.676 0.660"/></feComponentTransfer>
</filter>
<clipPath id="sc4"><polygon points="858.0,645.1 881.2,635.3 882.2,631.1 882.8,634.5 884.3,627.5 884.9,633.6 886.3,632.1 886.9,632.7 888.4,622.4 889.0,631.7 890.5,622.9 891.1,630.8 892.5,620.4 893.1,629.9 894.6,626.1 895.2,629.0 896.7,625.8 897.2,628.0 898.7,626.1 899.3,627.1 900.8,624.0 901.4,626.2 902.8,624.6 903.4,625.3 904.9,617.6 905.5,624.4 907.0,619.7 907.6,623.4 909.0,614.7 909.6,622.5 911.1,614.3 911.7,621.6 912.6,618.3 913.2,622.0 914.0,620.4 914.6,622.4 915.5,619.1 916.1,622.8 916.9,622.4 917.5,623.1 918.4,617.2 919.0,623.5 919.8,621.7 920.4,623.9 921.3,622.5 921.9,624.3 922.8,616.2 923.4,624.7 924.2,620.6 924.8,625.1 925.7,616.4 926.3,625.5 927.1,616.5 927.7,625.8 928.6,619.8 929.2,626.2 930.0,623.9 930.6,626.6 931.5,625.2 932.1,627.0 932.9,624.8 933.5,627.5 934.3,620.9 934.9,628.1 935.6,623.5 936.2,628.6 937.0,626.0 937.6,629.1 938.4,629.0 939.0,629.7 939.8,626.6 940.4,630.2 941.2,626.7 941.8,630.8 942.5,630.2 943.1,631.3 943.9,629.1 944.5,631.8 945.3,629.2 945.9,632.4 946.7,628.6 947.3,632.9 948.0,628.5 948.6,633.4 949.4,628.4 950.0,634.0 950.8,626.4 951.4,634.5 952.6,632.1 953.2,635.2 954.5,634.6 955.1,635.9 956.3,633.4 956.9,636.7 958.2,634.9 958.8,637.4 960.0,632.4 960.6,638.1 961.9,634.0 962.5,638.8 963.7,636.2 964.3,639.5 965.5,638.9 966.1,640.3 967.4,633.7 968.0,641.0 969.2,635.6 969.8,641.7 971.1,636.3 971.7,642.4 972.9,636.3 973.5,643.2 974.8,635.7 975.4,643.9 977.2,637.5 978.7,644.5 981.4,669.4 953.0,674.3 922.9,671.5 892.8,670.4"/></clipPath>
<filter id="pf5" x="0" y="0" width="1" height="1" color-interpolation-filters="sRGB">
<feTurbulence type="fractalNoise" baseFrequency="0.1 0.09" numOctaves="3" seed="13" result="a0"/>
<feColorMatrix in="a0" type="matrix" values="1 0 0 0 0 1 0 0 0 0 1 0 0 0 0 0 0 0 0 1" result="a"/>
<feTurbulence type="fractalNoise" baseFrequency="0.7 0.2" numOctaves="2" seed="16" result="b0"/>
<feColorMatrix in="b0" type="matrix" values="1 0 0 0 0 1 0 0 0 0 1 0 0 0 0 0 0 0 0 1" result="b"/>
<feComposite in="a" in2="b" operator="arithmetic" k1="0" k2="0.6" k3="0.4" k4="0.000"/>
<feComponentTransfer><feFuncR type="table" tableValues="0.160 0.160 0.160 0.160 0.160 0.160 0.160 0.160 0.165 0.174 0.189 0.219 0.250 0.331 0.413 0.521 0.642 0.752 0.842 0.931 0.948 0.965 0.970 0.970 0.970 0.970 0.970 0.970 0.970 0.970 0.970 0.970 0.970"/><feFuncG type="table" tableValues="0.580 0.580 0.580 0.580 0.580 0.580 0.580 0.580 0.599 0.629 0.659 0.689 0.720 0.741 0.763 0.773 0.777 0.777 0.768 0.761 0.796 0.830 0.840 0.840 0.840 0.840 0.840 0.840 0.840 0.840 0.840 0.840 0.840"/><feFuncB type="table" tableValues="0.860 0.860 0.860 0.860 0.860 0.860 0.860 0.860 0.857 0.853 0.843 0.822 0.800 0.740 0.680 0.608 0.530 0.463 0.416 0.370 0.366 0.361 0.360 0.360 0.360 0.360 0.360 0.360 0.360 0.360 0.360 0.360 0.360"/></feComponentTransfer>
</filter>
<clipPath id="sc5"><polygon points="47.8,790.9 49.1,791.1 50.5,786.2 51.8,788.0 53.1,788.1 54.4,786.4 55.8,784.5 57.1,785.4 58.4,787.4 59.7,781.5 61.1,786.4 62.4,785.8 63.7,785.2 65.0,783.9 66.4,781.8 67.7,783.7 69.0,783.1 70.3,781.5 71.7,778.0 73.0,781.6 74.3,776.5 75.6,780.2 77.0,775.7 78.3,779.2 79.6,774.1 81.0,772.8 82.3,772.3 83.6,774.6 84.9,771.3 86.3,772.3 87.6,775.1 88.9,773.1 90.3,773.0 91.6,772.4 92.9,771.2 94.3,770.6 95.6,770.5 96.9,770.6 98.2,769.0 99.6,768.9 100.9,764.7 102.3,769.2 103.6,769.4 105.0,768.2 106.3,770.2 107.7,770.1 109.1,768.2 110.4,766.0 111.8,770.9 113.1,772.0 114.5,771.2 115.9,772.0 117.2,772.5 118.6,771.3 119.9,773.0 121.3,773.5 122.7,772.1 124.1,773.8 125.4,774.0 126.8,775.7 128.2,775.6 129.6,775.2 130.9,772.8 132.3,774.9 133.7,774.2 135.1,775.8 136.5,780.1 137.8,780.0 139.2,780.8 140.6,780.6 142.0,778.9 143.3,780.0 144.7,783.3 146.0,783.8 147.4,783.8 148.7,784.9 150.1,783.7 151.5,785.7 152.8,781.0 154.2,784.6 155.5,784.4 156.9,787.0 158.3,787.4 159.6,789.0 161.0,788.8 162.3,784.9 163.7,785.6 165.0,788.3 166.9,792.2 171.2,820.1 166.5,822.2 161.7,822.8 157.0,822.8 152.3,824.0 147.5,824.4 142.8,826.1 137.8,824.7 132.8,825.1 127.8,824.7 122.7,823.2 117.7,823.5 112.7,822.0 107.7,822.3 102.7,821.9 97.7,822.0 92.6,822.1 87.6,821.3 82.6,821.6 76.8,817.2 71.0,813.5 65.2,809.2 59.4,804.4 53.6,801.1 46.8,795.0"/></clipPath>
<filter id="pf6" x="0" y="0" width="1" height="1" color-interpolation-filters="sRGB">
<feTurbulence type="fractalNoise" baseFrequency="0.12 0.1" numOctaves="3" seed="15" result="a0"/>
<feColorMatrix in="a0" type="matrix" values="1 0 0 0 0 1 0 0 0 0 1 0 0 0 0 0 0 0 0 1" result="a"/>
<feTurbulence type="fractalNoise" baseFrequency="0.7 0.25" numOctaves="2" seed="18" result="b0"/>
<feColorMatrix in="b0" type="matrix" values="1 0 0 0 0 1 0 0 0 0 1 0 0 0 0 0 0 0 0 1" result="b"/>
<feComposite in="a" in2="b" operator="arithmetic" k1="0" k2="0.5" k3="0.5" k4="0.000"/>
<feComponentTransfer><feFuncR type="table" tableValues="0.236 0.249 0.283 0.319 0.355 0.390 0.426 0.472 0.524 0.577 0.629 0.681 0.731 0.770 0.809 0.849 0.888 0.927 0.937 0.945 0.952 0.960 0.967 0.970 0.970 0.970 0.970 0.970 0.970 0.970 0.970 0.970 0.970"/><feFuncG type="table" tableValues="0.706 0.719 0.729 0.738 0.748 0.757 0.766 0.771 0.773 0.775 0.777 0.779 0.779 0.775 0.771 0.768 0.764 0.760 0.774 0.789 0.804 0.819 0.834 0.840 0.840 0.840 0.840 0.840 0.840 0.840 0.840 0.840 0.840"/><feFuncB type="table" tableValues="0.810 0.801 0.775 0.749 0.723 0.697 0.670 0.640 0.606 0.572 0.538 0.505 0.474 0.454 0.433 0.413 0.392 0.371 0.368 0.366 0.364 0.363 0.361 0.360 0.360 0.360 0.360 0.360 0.360 0.360 0.360 0.360 0.360"/></feComponentTransfer>
</filter>
<clipPath id="sc6"><polygon points="250.3,793.2 251.6,794.0 253.0,792.4 254.3,791.3 255.6,792.5 256.9,790.9 258.3,791.4 259.6,791.0 260.9,790.3 262.2,788.8 263.6,789.4 264.9,788.0 266.2,788.1 267.5,787.8 268.9,786.9 270.2,786.5 271.5,785.8 272.8,784.1 274.2,783.4 275.5,784.5 276.8,782.1 278.1,782.8 279.5,781.1 280.8,781.1 282.1,781.3 283.5,781.1 284.8,778.8 286.1,777.9 287.4,778.5 288.8,778.7 290.1,776.7 291.4,776.2 292.8,775.2 294.1,774.2 295.4,773.6 296.8,773.8 298.1,774.0 299.4,773.1 300.7,772.5 302.1,771.2 303.4,771.0 304.8,770.7 306.1,772.0 307.5,772.1 308.8,771.3 310.2,772.3 311.6,772.1 312.9,773.3 314.3,774.6 315.6,774.7 317.0,775.2 318.4,775.6 319.7,776.1 321.1,776.5 322.4,776.4 323.8,775.9 325.2,776.2 326.6,776.3 327.9,778.1 329.3,779.3 330.7,779.8 332.1,780.4 333.4,779.4 334.8,781.3 336.2,780.9 337.6,782.1 339.0,782.4 340.3,782.1 341.7,783.3 343.1,784.7 344.5,784.4 345.8,785.5 347.2,784.3 348.5,786.7 349.9,787.2 351.2,786.1 352.6,788.1 354.0,788.9 355.3,788.2 356.7,788.2 358.0,790.0 359.4,791.0 360.8,790.0 362.1,791.9 363.5,792.5 364.8,793.2 366.2,792.1 367.5,794.2 369.4,795.3 373.7,820.4 369.0,821.7 364.2,823.0 359.5,822.6 354.8,824.0 350.0,824.3 345.3,826.0 340.3,825.0 335.3,824.8 330.2,824.6 325.2,823.7 320.2,823.1 315.2,822.0 310.2,822.0 305.2,822.6 300.1,822.5 295.1,822.1 290.1,821.1 285.1,822.0 279.3,817.9 273.5,813.7 267.7,809.3 261.9,805.0 256.1,800.3 249.3,795.9"/></clipPath>
<filter id="pf7" x="0" y="0" width="1" height="1" color-interpolation-filters="sRGB">
<feTurbulence type="fractalNoise" baseFrequency="0.1 0.1" numOctaves="3" seed="17" result="a0"/>
<feColorMatrix in="a0" type="matrix" values="1 0 0 0 0 1 0 0 0 0 1 0 0 0 0 0 0 0 0 1" result="a"/>
<feTurbulence type="fractalNoise" baseFrequency="0.7 0.25" numOctaves="2" seed="20" result="b0"/>
<feColorMatrix in="b0" type="matrix" values="1 0 0 0 0 1 0 0 0 0 1 0 0 0 0 0 0 0 0 1" result="b"/>
<feComposite in="a" in2="b" operator="arithmetic" k1="0" k2="0.4" k3="0.6" k4="0.000"/>
<feComponentTransfer><feFuncR type="table" tableValues="0.160 0.160 0.160 0.160 0.160 0.160 0.160 0.160 0.160 0.160 0.162 0.166 0.171 0.175 0.180 0.195 0.211 0.227 0.242 0.272 0.315 0.357 0.400 0.444 0.507 0.570 0.633 0.696 0.749 0.797 0.844 0.891 0.932"/><feFuncG type="table" tableValues="0.580 0.580 0.580 0.580 0.580 0.580 0.580 0.580 0.580 0.580 0.586 0.602 0.618 0.634 0.649 0.665 0.681 0.697 0.712 0.726 0.737 0.748 0.760 0.770 0.772 0.775 0.777 0.779 0.777 0.773 0.768 0.764 0.763"/><feFuncB type="table" tableValues="0.860 0.860 0.860 0.860 0.860 0.860 0.860 0.860 0.860 0.860 0.859 0.857 0.855 0.852 0.850 0.839 0.828 0.817 0.805 0.784 0.752 0.721 0.689 0.657 0.617 0.576 0.536 0.495 0.465 0.440 0.415 0.390 0.370"/></feComponentTransfer>
</filter>
<clipPath id="sc7"><polygon points="452.8,795.4 455.9,788.6 458.9,792.7 461.9,791.4 465.0,790.5 468.1,787.0 471.1,788.1 474.1,786.7 477.2,784.2 480.2,784.5 483.3,782.5 485.6,782.3 487.8,777.7 490.1,780.4 492.3,778.8 494.6,777.4 496.9,776.1 499.1,775.9 501.4,774.0 503.6,774.4 505.9,772.7 507.9,770.4 510.0,769.7 512.0,774.2 514.1,775.0 516.1,774.7 518.1,772.1 520.2,775.6 522.2,776.2 524.3,776.9 526.3,778.3 528.2,778.5 530.2,779.8 532.1,779.7 534.0,781.3 536.0,781.2 537.9,782.7 539.8,783.4 541.7,784.6 543.7,784.1 545.6,785.2 548.2,786.3 550.8,787.9 553.3,788.6 555.9,790.1 558.5,790.7 561.1,787.5 563.7,792.4 566.2,792.8 568.8,795.2 571.4,796.3 576.2,820.6 547.8,825.5 517.7,822.7 487.6,821.6"/></clipPath>
<filter id="pf8" x="0" y="0" width="1" height="1" color-interpolation-filters="sRGB">
<feTurbulence type="fractalNoise" baseFrequency="0.03 0.05" numOctaves="3" seed="19" result="a0"/>
<feColorMatrix in="a0" type="matrix" values="1 0 0 0 0 1 0 0 0 0 1 0 0 0 0 0 0 0 0 1" result="a"/>
<feTurbulence type="fractalNoise" baseFrequency="0.5 0.3" numOctaves="2" seed="22" result="b0"/>
<feColorMatrix in="b0" type="matrix" values="1 0 0 0 0 1 0 0 0 0 1 0 0 0 0 0 0 0 0 1" result="b"/>
<feComposite in="a" in2="b" operator="arithmetic" k1="0" k2="0.8" k3="0.2" k4="-0.000"/>
<feComponentTransfer><feFuncR type="table" tableValues="0.160 0.160 0.160 0.160 0.160 0.160 0.163 0.165 0.168 0.170 0.173 0.176 0.178 0.183 0.192 0.202 0.211 0.220 0.229 0.238 0.248 0.268 0.293 0.318 0.343 0.368 0.393 0.418 0.444 0.481 0.518 0.554 0.591"/><feFuncG type="table" tableValues="0.580 0.580 0.580 0.580 0.580 0.580 0.589 0.598 0.607 0.616 0.626 0.635 0.644 0.653 0.662 0.672 0.681 0.690 0.699 0.708 0.718 0.725 0.731 0.738 0.744 0.751 0.758 0.764 0.770 0.771 0.773 0.774 0.775"/><feFuncB type="table" tableValues="0.860 0.860 0.860 0.860 0.860 0.860 0.859 0.857 0.856 0.855 0.853 0.852 0.851 0.848 0.841 0.835 0.828 0.821 0.815 0.808 0.802 0.787 0.768 0.750 0.731 0.713 0.695 0.676 0.657 0.634 0.610 0.586 0.563"/></feComponentTransfer>
</filter>
<clipPath id="sc8"><polygon points="655.4,796.3 685.9,784.0 708.5,773.3 728.9,778.7 748.2,786.2 774.0,796.3 778.8,820.6 750.4,825.5 720.3,822.7 690.2,821.6"/></clipPath>
<filter id="pf9" x="0" y="0" width="1" height="1" color-interpolation-filters="sRGB">
<feTurbulence type="fractalNoise" baseFrequency="0.03 0.05" numOctaves="3" seed="21" result="a0"/>
<feColorMatrix in="a0" type="matrix" values="1 0 0 0 0 1 0 0 0 0 1 0 0 0 0 0 0 0 0 1" result="a"/>
<feTurbulence type="fractalNoise" baseFrequency="0.5 0.3" numOctaves="2" seed="24" result="b0"/>
<feColorMatrix in="b0" type="matrix" values="1 0 0 0 0 1 0 0 0 0 1 0 0 0 0 0 0 0 0 1" result="b"/>
<feComposite in="a" in2="b" operator="arithmetic" k1="0" k2="0.8" k3="0.2" k4="-0.000"/>
<feComponentTransfer><feFuncR type="table" tableValues="0.160 0.160 0.160 0.160 0.160 0.160 0.163 0.165 0.168 0.170 0.173 0.176 0.178 0.183 0.192 0.202 0.211 0.220 0.229 0.238 0.248 0.268 0.293 0.318 0.343 0.368 0.393 0.418 0.444 0.481 0.518 0.554 0.591"/><feFuncG type="table" tableValues="0.580 0.580 0.580 0.580 0.580 0.580 0.589 0.598 0.607 0.616 0.626 0.635 0.644 0.653 0.662 0.672 0.681 0.690 0.699 0.708 0.718 0.725 0.731 0.738 0.744 0.751 0.758 0.764 0.770 0.771 0.773 0.774 0.775"/><feFuncB type="table" tableValues="0.860 0.860 0.860 0.860 0.860 0.860 0.859 0.857 0.856 0.855 0.853 0.852 0.851 0.848 0.841 0.835 0.828 0.821 0.815 0.808 0.802 0.787 0.768 0.750 0.731 0.713 0.695 0.676 0.657 0.634 0.610 0.586 0.563"/></feComponentTransfer>
</filter>
<clipPath id="sc9"><polygon points="858.0,796.3 888.5,784.0 911.1,773.3 931.5,778.7 950.8,786.2 976.6,796.3 981.4,820.6 953.0,825.5 922.9,822.7 892.8,821.6"/></clipPath>
<clipPath id="chclip"><rect x="129.6" y="933.2" width="722.0" height="206.79999999999995"/></clipPath>
</defs>
<rect width="1024" height="1207" fill="#fff"/>
<g clip-path="url(#cp0)"><rect x="9" y="3" width="252" height="252" fill="#acacac"/><rect x="9" y="3" width="252" height="252" filter="url(#m1944)"/><ellipse cx="229.0" cy="77.7" rx="48.4" ry="60.5" fill="#c4c4c4" fill-opacity="0.5" filter="url(#blur6)"/><ellipse cx="47.3" cy="198.8" rx="48.4" ry="48.4" fill="#c0c0c0" fill-opacity="0.4" filter="url(#blur6)"/><rect x="9" y="3" width="252" height="252" filter="url(#l1944)"/><rect x="9" y="3" width="252" height="252" filter="url(#h1944)"/><rect x="9" y="3" width="252" height="252" filter="url(#d1944)"/><polygon points="57.5,44.3 177.3,32.3 217.7,158.3 174.6,226.1 125.4,210.8 54.6,143.1" fill="none" stroke="#fff" stroke-width="1.8" stroke-linejoin="miter"/><line x1="53.6" y1="129" x2="208.6" y2="129" stroke="#6c50b8" stroke-opacity="0.55" stroke-width="2.8"/><circle cx="54" cy="129" r="1.2" fill="#e03060" fill-opacity="0.8"/><circle cx="208.4" cy="129" r="1.2" fill="#e03060" fill-opacity="0.8"/><polygon points="249.7,182.9 254.6,214.5 252.1,214.5 252.1,245.5 247.3,245.5 247.3,214.5 244.8,214.5" fill="none" stroke="#f4e4a4" stroke-width="1.35" stroke-linejoin="miter"/><text x="233.1" y="238.0" font-family="Liberation Sans,Arial,sans-serif" font-size="9.5" font-weight="bold" fill="#efe2a2" text-anchor="middle">N</text><text x="107.9" y="116.8" font-family="Liberation Sans,Arial,sans-serif" font-size="9.6" font-weight="bold" fill="#fff" text-anchor="middle">line length 225 m</text><circle cx="174.7" cy="225.6" r="6.4" fill="none" stroke="#fff" stroke-width="1.3"/><text x="160.7" y="244.3" font-family="Liberation Sans,Arial,sans-serif" font-size="9.8" font-weight="bold" fill="#fff" text-anchor="middle">N6978301, E695480</text></g>
<g clip-path="url(#cp1)"><rect x="262" y="3" width="252" height="252" fill="#8e8e8e"/><ellipse cx="414.2" cy="84.9" rx="17.0" ry="21.8" fill="#bcbcbc" fill-opacity="0.6" filter="url(#blur6)"/><ellipse cx="462.6" cy="34.1" rx="24.2" ry="19.4" fill="#bcbcbc" fill-opacity="0.6" filter="url(#blur6)"/><ellipse cx="288.2" cy="223.0" rx="31.5" ry="31.5" fill="#bcbcbc" fill-opacity="0.5" filter="url(#blur6)"/><ellipse cx="482.0" cy="174.5" rx="24.2" ry="29.1" fill="#bcbcbc" fill-opacity="0.45" filter="url(#blur6)"/><ellipse cx="336.7" cy="174.5" rx="24.2" ry="19.4" fill="#bcbcbc" fill-opacity="0.4" filter="url(#blur6)"/><ellipse cx="365.7" cy="36.5" rx="19.4" ry="14.5" fill="#bcbcbc" fill-opacity="0.35" filter="url(#blur6)"/><ellipse cx="283.4" cy="77.7" rx="19.4" ry="24.2" fill="#bcbcbc" fill-opacity="0.35" filter="url(#blur6)"/><g transform="rotate(-25 388.0 129.0)"><rect x="204" y="-55" width="368" height="368" filter="url(#l1959)"/></g><g transform="rotate(-25 388.0 129.0)"><rect x="204" y="-55" width="368" height="368" filter="url(#d1959)"/></g><polygon points="310.5,44.3 430.3,32.3 470.7,158.3 427.6,226.1 378.4,210.8 307.6,143.1" fill="none" stroke="#fff" stroke-width="1.8" stroke-linejoin="miter"/><line x1="306.6" y1="129" x2="461.6" y2="129" stroke="#6c50b8" stroke-opacity="0.55" stroke-width="2.8"/><circle cx="307" cy="129" r="1.2" fill="#e03060" fill-opacity="0.8"/><circle cx="461.4" cy="129" r="1.2" fill="#e03060" fill-opacity="0.8"/><polygon points="499.4,179.4 504.3,210.9 501.8,210.9 501.8,242.3 497.0,242.3 497.0,210.9 494.5,210.9" fill="none" stroke="#f4e4a4" stroke-width="1.35" stroke-linejoin="miter"/><text x="485.6" y="236.5" font-family="Liberation Sans,Arial,sans-serif" font-size="9.5" font-weight="bold" fill="#efe2a2" text-anchor="middle">N</text></g>
<g clip-path="url(#cp2)"><rect x="515" y="3" width="253" height="252" fill="#acacac"/><ellipse cx="731.0" cy="53.6" rx="41.3" ry="34.0" fill="#c0c0c0" fill-opacity="0.6" filter="url(#blur6)"/><ellipse cx="546.2" cy="199.6" rx="38.9" ry="63.2" fill="#bdbdbd" fill-opacity="0.6" filter="url(#blur6)"/><ellipse cx="728.6" cy="211.7" rx="41.3" ry="34.0" fill="#bcbcbc" fill-opacity="0.6" filter="url(#blur6)"/><rect x="515" y="3" width="253" height="252" filter="url(#l1965)"/><rect x="515" y="3" width="253" height="252" filter="url(#s1965)"/><g mask="url(#dm1965)"><rect x="515" y="3" width="253" height="252" filter="url(#h1965)"/><rect x="515" y="3" width="253" height="252" filter="url(#d1965)"/></g><polygon points="563.5,44.3 683.3,32.3 723.7,158.3 680.6,226.1 631.4,210.8 560.6,143.1" fill="none" stroke="#fff" stroke-width="1.8" stroke-linejoin="miter"/><line x1="559.6" y1="129" x2="714.6" y2="129" stroke="#6c50b8" stroke-opacity="0.55" stroke-width="2.8"/><circle cx="560" cy="129" r="1.2" fill="#e03060" fill-opacity="0.8"/><circle cx="714.4" cy="129" r="1.2" fill="#e03060" fill-opacity="0.8"/><polygon points="754.1,172.8 759.0,206.8 756.5,206.8 756.5,240.4 751.7,240.4 751.7,206.8 749.2,206.8" fill="none" stroke="#f4e4a4" stroke-width="1.35" stroke-linejoin="miter"/><text x="738.3" y="238.20000000000002" font-family="Liberation Sans,Arial,sans-serif" font-size="9.5" font-weight="bold" fill="#efe2a2" text-anchor="middle">N</text></g>
<g clip-path="url(#cp3)"><rect x="769" y="3" width="252" height="252" fill="#484848"/><polygon points="984.1,111.6 998.7,109.1 1020.5,114.0 1020.5,181.8 1010.8,179.4 1002.3,174.5 993.8,174.5 986.5,162.4 982.9,150.3 984.1,138.2 980.5,126.1" fill="#a4a4a4" fill-opacity="0.9" filter="url(#blur6)"/><polygon points="877.6,140.6 894.5,135.8 906.6,134.6 918.7,143.0 928.4,155.2 926.0,169.7 916.3,179.4 899.4,183.0 884.8,184.2 875.1,172.1 872.7,160.0 875.1,150.3" fill="#828282" fill-opacity="0.75" filter="url(#blur6)"/><polygon points="843.7,160.0 867.9,160.0 877.6,179.4 872.7,198.8 850.9,198.8 838.8,179.4" fill="#6a6a6a" fill-opacity="0.5" filter="url(#blur6)"/><polygon points="972.0,31.6 984.1,28.0 1001.1,25.6 1009.6,41.3 1013.2,57.1 1003.5,68.0 1001.1,77.7 986.5,70.4 976.9,63.1 972.0,51.0" fill="#747474" fill-opacity="0.6" filter="url(#blur6)"/><polygon points="768.6,179.4 785.5,169.7 807.3,163.6 821.9,179.4 831.5,198.8 824.3,223.0 819.4,254.5 768.6,254.5" fill="#686868" fill-opacity="0.5" filter="url(#blur6)"/><polygon points="863.0,213.3 877.6,206.0 896.9,210.9 901.8,235.1 896.9,254.5 863.0,254.5" fill="#6c6c6c" fill-opacity="0.5" filter="url(#blur6)"/><polygon points="843.7,2.6 872.7,2.6 870.3,11.1 858.2,15.9 848.5,13.5" fill="#a0a0a0" fill-opacity="0.75" filter="url(#blur6)"/><polygon points="922.4,84.9 932.1,82.5 940.5,88.6 941.7,99.5 932.1,104.3 923.6,100.7" fill="#7a7a7a" fill-opacity="0.6" filter="url(#blur6)"/><polygon points="940.5,191.5 955.1,186.6 967.2,196.3 969.6,213.3 955.1,218.1 941.7,210.9" fill="#686868" fill-opacity="0.5" filter="url(#blur6)"/><g transform="rotate(-15 895.0 129.0)"><rect x="711" y="-55" width="368" height="368" filter="url(#l1977)"/></g><g transform="rotate(-15 895.0 129.0)"><rect x="711" y="-55" width="368" height="368" filter="url(#d1977)"/></g><polygon points="817.5,44.3 937.3,32.3 977.7,158.3 934.6,226.1 885.4,210.8 814.6,143.1" fill="none" stroke="#fff" stroke-width="1.8" stroke-linejoin="miter"/><line x1="813.6" y1="129" x2="968.6" y2="129" stroke="#6c50b8" stroke-opacity="0.55" stroke-width="2.8"/><circle cx="814" cy="129" r="1.2" fill="#e03060" fill-opacity="0.8"/><circle cx="968.4" cy="129" r="1.2" fill="#e03060" fill-opacity="0.8"/><polygon points="1006.4,174.5 1011.3,207.2 1008.8,207.2 1008.8,241.9 1004.0,241.9 1004.0,207.2 1001.5,207.2" fill="none" stroke="#f4e4a4" stroke-width="1.35" stroke-linejoin="miter"/><text x="990.7" y="239.70000000000002" font-family="Liberation Sans,Arial,sans-serif" font-size="9.5" font-weight="bold" fill="#efe2a2" text-anchor="middle">N</text></g>
<g clip-path="url(#cp4)"><rect x="9" y="273" width="252" height="252" fill="#545454"/><g transform="rotate(-20 135.0 399.0)"><rect x="-49" y="215" width="368" height="368" filter="url(#l1983)"/></g><g transform="rotate(-20 135.0 399.0)"><rect x="-49" y="215" width="368" height="368" filter="url(#d1983)"/></g><g mask="url(#lm1983)"><rect x="9" y="273" width="252" height="252" fill="#a0a0a0"/><g transform="rotate(-20 135.0 399.0)"><rect x="-49" y="215" width="368" height="368" filter="url(#ll1983)"/></g><g transform="rotate(-20 135.0 399.0)"><rect x="-49" y="215" width="368" height="368" filter="url(#lc1983)"/></g></g><polygon points="57.5,314.3 177.3,302.3 217.7,428.3 174.6,496.1 125.4,480.8 54.6,413.1" fill="none" stroke="#fff" stroke-width="1.8" stroke-linejoin="miter"/><line x1="53.6" y1="399" x2="208.6" y2="399" stroke="#6c50b8" stroke-opacity="0.55" stroke-width="2.8"/><circle cx="54" cy="399" r="1.2" fill="#e03060" fill-opacity="0.8"/><circle cx="208.4" cy="399" r="1.2" fill="#e03060" fill-opacity="0.8"/><polygon points="247.1,440.9 252.0,476.0 249.5,476.0 249.5,512.8 244.7,512.8 244.7,476.0 242.2,476.0" fill="none" stroke="#f4e4a4" stroke-width="1.35" stroke-linejoin="miter"/><text x="229" y="512.1" font-family="Liberation Sans,Arial,sans-serif" font-size="9.5" font-weight="bold" fill="#efe2a2" text-anchor="middle">N</text></g>
<g clip-path="url(#cp5)"><rect x="262" y="273" width="252" height="252" fill="#23403a"/><rect x="262" y="273" width="252" height="252" filter="url(#c1991)"/><rect x="262" y="273" width="252" height="252" filter="url(#d1991)"/><rect x="262" y="273" width="252" height="252" filter="url(#p1991)"/><g mask="url(#um1991)"><rect x="262" y="273" width="252" height="252" fill="#7c8680"/><rect x="262" y="273" width="252" height="252" filter="url(#c1991)"/><rect x="262" y="273" width="252" height="252" filter="url(#pp1991)"/></g><g mask="url(#rm1991)"><rect x="262" y="273" width="252" height="252" fill="#6cdcc0"/><rect x="262" y="273" width="252" height="252" filter="url(#r1991)"/></g><ellipse cx="438.4" cy="522.0" rx="21.8" ry="5.3" fill="#a8c8b8" fill-opacity="0.8" filter="url(#blur3)"/><ellipse cx="385.1" cy="279.8" rx="43.6" ry="6.1" fill="#3c6a60" fill-opacity="0.6" filter="url(#blur3)"/><polygon points="310.5,314.3 430.3,302.3 470.7,428.3 427.6,496.1 378.4,480.8 307.6,413.1" fill="none" stroke="#fff" stroke-width="1.8" stroke-linejoin="miter"/><line x1="306.6" y1="399" x2="461.6" y2="399" stroke="#6c50b8" stroke-opacity="0.55" stroke-width="2.8"/><circle cx="307" cy="399" r="1.2" fill="#e03060" fill-opacity="0.8"/><circle cx="461.4" cy="399" r="1.2" fill="#e03060" fill-opacity="0.8"/><polygon points="499.4,449.4 504.3,482.0 501.8,482.0 501.8,516.0 497.0,516.0 497.0,482.0 494.5,482.0" fill="none" stroke="#f4e4a4" stroke-width="1.35" stroke-linejoin="miter"/><text x="482" y="513.4" font-family="Liberation Sans,Arial,sans-serif" font-size="9.5" font-weight="bold" fill="#efe2a2" text-anchor="middle">N</text></g>
<g clip-path="url(#cp6)"><rect x="515" y="273" width="253" height="252" fill="#a2a2a2"/><g transform="rotate(-30 641.5 399.0)"><rect x="457" y="215" width="369" height="368" filter="url(#cl2003)"/></g><g transform="rotate(-30 641.5 399.0)"><rect x="457" y="215" width="369" height="368" filter="url(#c2003)"/></g><g mask="url(#fm2003)"><rect x="515" y="273" width="253" height="252" fill="#6c6c6c"/><rect x="515" y="273" width="253" height="252" filter="url(#l2003)"/><rect x="515" y="273" width="253" height="252" filter="url(#d2003)"/><g transform="rotate(-30 641.5 399.0)"><rect x="457" y="215" width="369" height="368" filter="url(#t2003)"/></g></g><polyline points="536.0,380.0 536.0,409.3 543.4,424.0 555.1,435.7 568.3,445.9 580.0,456.2 590.2,470.8 599.0,485.5 606.4,501.6 613.7,525.0" fill="none" stroke="#dedede" stroke-width="2.4" stroke-linejoin="round" filter="url(#blur1)"/><polyline points="515,389 521,385 526,383 536,381" fill="none" stroke="#d0d0d0" stroke-width="2" filter="url(#blur1)"/><polygon points="563.5,314.3 683.3,302.3 723.7,428.3 680.6,496.1 631.4,480.8 560.6,413.1" fill="none" stroke="#fff" stroke-width="1.8" stroke-linejoin="miter"/><line x1="559.6" y1="399" x2="714.6" y2="399" stroke="#6c50b8" stroke-opacity="0.55" stroke-width="2.8"/><circle cx="560" cy="399" r="1.2" fill="#e03060" fill-opacity="0.8"/><circle cx="714.4" cy="399" r="1.2" fill="#e03060" fill-opacity="0.8"/><polygon points="749.2,448.2 754.1,481.7 751.6,481.7 751.6,515.8 746.8,515.8 746.8,481.7 744.3,481.7" fill="none" stroke="#f4e4a4" stroke-width="1.35" stroke-linejoin="miter"/><text x="730.5" y="512.4" font-family="Liberation Sans,Arial,sans-serif" font-size="9.5" font-weight="bold" fill="#efe2a2" text-anchor="middle">N</text></g>
<g clip-path="url(#cp7)"><rect x="769" y="273" width="252" height="252" fill="#8a8672"/><ellipse cx="790.4" cy="335.5" rx="36.3" ry="53.3" fill="#a89e84" fill-opacity="0.6" filter="url(#blur6)"/><ellipse cx="945.4" cy="425.2" rx="38.8" ry="53.3" fill="#a8a28e" fill-opacity="0.5" filter="url(#blur6)"/><ellipse cx="906.6" cy="410.6" rx="12.1" ry="58.1" fill="#5e5a4a" fill-opacity="0.4" filter="url(#blur6)"/><g transform="rotate(20 895.0 399.0)"><rect x="711" y="215" width="368" height="368" filter="url(#l2012)"/></g><g transform="rotate(20 895.0 399.0)"><rect x="711" y="215" width="368" height="368" filter="url(#d2012)"/></g><g clip-path="url(#fo2012)"><rect x="771" y="275" width="248" height="248" fill="#34472c"/><rect x="769" y="273" width="252" height="252" filter="url(#gl2012)"/><rect x="769" y="273" width="252" height="252" filter="url(#g2012)"/></g><polyline points="768.6,405.8 785.5,413.0 800.1,430.0 819.4,444.5 834.0,459.1 843.7,473.6 853.3,490.5 863.0,512.3 867.9,526.9" fill="none" stroke="#ddd2b8" stroke-opacity="1.0" stroke-width="3.2" stroke-linejoin="round" stroke-linecap="round" filter="url(#blur1)"/><polyline points="768.6,388.8 780.7,384.0 790.4,386.4 792.8,393.7 788.0,405.8 785.5,413.0" fill="none" stroke="#ddd2b8" stroke-opacity="1.0" stroke-width="2.8" stroke-linejoin="round" stroke-linecap="round" filter="url(#blur1)"/><polygon points="817.5,314.3 937.3,302.3 977.7,428.3 934.6,496.1 885.4,480.8 814.6,413.1" fill="none" stroke="#fff" stroke-width="1.8" stroke-linejoin="miter"/><line x1="813.6" y1="399" x2="968.6" y2="399" stroke="#6c50b8" stroke-opacity="0.55" stroke-width="2.8"/><circle cx="814" cy="399" r="1.2" fill="#e03060" fill-opacity="0.8"/><circle cx="968.4" cy="399" r="1.2" fill="#e03060" fill-opacity="0.8"/><polygon points="1005.4,443.3 1010.3,476.0 1007.8,476.0 1007.8,511.1 1003.0,511.1 1003.0,476.0 1000.5,476.0" fill="none" stroke="#f4e4a4" stroke-width="1.35" stroke-linejoin="miter"/><text x="990.2" y="507.29999999999995" font-family="Liberation Sans,Arial,sans-serif" font-size="9.5" font-weight="bold" fill="#efe2a2" text-anchor="middle">N</text></g>
<text x="135.0" y="263.3" font-family="Liberation Sans,Arial,sans-serif" font-size="11.7" fill="#111" text-anchor="middle">1944</text>
<text x="388.0" y="263.3" font-family="Liberation Sans,Arial,sans-serif" font-size="11.7" fill="#111" text-anchor="middle">1959</text>
<text x="641.5" y="263.3" font-family="Liberation Sans,Arial,sans-serif" font-size="11.7" fill="#111" text-anchor="middle">1965</text>
<text x="895.0" y="263.3" font-family="Liberation Sans,Arial,sans-serif" font-size="11.7" fill="#111" text-anchor="middle">1977</text>
<text x="135.0" y="533.5" font-family="Liberation Sans,Arial,sans-serif" font-size="11.7" fill="#111" text-anchor="middle">1983</text>
<text x="388.0" y="533.5" font-family="Liberation Sans,Arial,sans-serif" font-size="11.7" fill="#111" text-anchor="middle">1991</text>
<text x="641.5" y="533.5" font-family="Liberation Sans,Arial,sans-serif" font-size="11.7" fill="#111" text-anchor="middle">2003</text>
<text x="895.0" y="533.5" font-family="Liberation Sans,Arial,sans-serif" font-size="11.7" fill="#111" text-anchor="middle">2012</text>
<rect x="189.5" y="258.5" width="67" height="12.8" fill="#fff" stroke="#777" stroke-width="1"/>
<rect x="189.8" y="258.3" width="6.6" height="6.8" fill="#000"/>
<rect x="203" y="258.3" width="6.6" height="6.8" fill="#000"/>
<rect x="216.3" y="258.3" width="6.6" height="6.8" fill="#000"/>
<rect x="229.8" y="258.3" width="6.6" height="6.8" fill="#000"/>
<rect x="243.2" y="258.3" width="6.6" height="6.8" fill="#000"/>
<text x="258.5" y="270" font-family="Liberation Sans,Arial,sans-serif" font-size="9.6" font-weight="bold" fill="#000">100 m</text>
<text x="515.2" y="571.4" font-family="Liberation Serif,Times New Roman,serif" font-size="26" letter-spacing="-0.4" fill="#000" text-anchor="middle">(<tspan font-weight="bold">a</tspan>)</text>
<text x="515.2" y="909.4" font-family="Liberation Serif,Times New Roman,serif" font-size="26" letter-spacing="-0.4" fill="#000" text-anchor="middle">(<tspan font-weight="bold">b</tspan>)</text>
<text x="515.2" y="1198.5" font-family="Liberation Serif,Times New Roman,serif" font-size="26" letter-spacing="-0.4" fill="#000" text-anchor="middle">(<tspan font-weight="bold">c</tspan>)</text>
<text x="102" y="601.6" font-family="DejaVu Sans,Liberation Sans,sans-serif" font-size="8.8" font-weight="bold" fill="#000" text-anchor="middle">1944</text><line x1="41.5" y1="636.7" x2="120.4" y2="608.1" stroke="#dcdcdc" stroke-width="0.6"/><line x1="120.4" y1="608.1" x2="192.2" y2="653.8" stroke="#dcdcdc" stroke-width="0.6"/><line x1="41.5" y1="646.5" x2="120.4" y2="615.7" stroke="#dcdcdc" stroke-width="0.6"/><line x1="120.4" y1="615.7" x2="192.4" y2="662.9" stroke="#dcdcdc" stroke-width="0.6"/><line x1="120.4" y1="608.1" x2="120.4" y2="615.7" stroke="#dcdcdc" stroke-width="0.6"/><line x1="192.2" y1="653.8" x2="192.4" y2="662.9" stroke="#cfcfcf" stroke-width="0.6"/><line x1="130.3" y1="687.2" x2="58.0" y2="640.0" stroke="#e4e4e4" stroke-width="0.6"/><line x1="58.0" y1="640.0" x2="58.0" y2="630.2" stroke="#e4e4e4" stroke-width="0.6"/><line x1="163.3" y1="674.3" x2="91.0" y2="627.1" stroke="#e4e4e4" stroke-width="0.6"/><line x1="91.0" y1="627.1" x2="91.0" y2="617.3" stroke="#e4e4e4" stroke-width="0.6"/><line x1="53.8" y1="654.5" x2="132.4" y2="623.7" stroke="#e4e4e4" stroke-width="0.6"/><line x1="132.4" y1="623.7" x2="132.4" y2="614.6" stroke="#e4e4e4" stroke-width="0.6"/><line x1="79.1" y1="671.0" x2="157.7" y2="640.2" stroke="#e4e4e4" stroke-width="0.6"/><line x1="157.7" y1="640.2" x2="157.7" y2="631.1" stroke="#e4e4e4" stroke-width="0.6"/><line x1="104.4" y1="687.6" x2="183.0" y2="656.8" stroke="#e4e4e4" stroke-width="0.6"/><line x1="183.0" y1="656.8" x2="183.0" y2="647.7" stroke="#e4e4e4" stroke-width="0.6"/><line x1="41.5" y1="646.5" x2="113.8" y2="693.7" stroke="#b8b8b8" stroke-width="0.7"/><line x1="113.8" y1="693.7" x2="192.4" y2="662.9" stroke="#b8b8b8" stroke-width="0.7"/><line x1="41.5" y1="636.7" x2="41.5" y2="646.5" stroke="#999" stroke-width="0.7"/><line x1="41.5" y1="637.2" x2="44.0" y2="636.2" stroke="#999" stroke-width="0.6"/><line x1="41.5" y1="643.0" x2="44.0" y2="642.0" stroke="#999" stroke-width="0.6"/><g clip-path="url(#sc0)"><rect x="40" y="603.5" width="135" height="75" filter="url(#pf0)"/></g><text x="38.2" y="639.3" font-family="DejaVu Sans,Liberation Sans,sans-serif" font-size="8.5" fill="#262626" text-anchor="end">205</text><text x="38.2" y="646.0" font-family="DejaVu Sans,Liberation Sans,sans-serif" font-size="8.5" fill="#262626" text-anchor="end">185</text><text x="46.6" y="662.6" font-family="DejaVu Sans,Liberation Sans,sans-serif" font-size="8.5" fill="#262626" text-anchor="end">6978550</text><text x="72.0" y="679.3" font-family="DejaVu Sans,Liberation Sans,sans-serif" font-size="8.5" fill="#262626" text-anchor="end">6978450</text><text x="97.5" y="696.1" font-family="DejaVu Sans,Liberation Sans,sans-serif" font-size="8.5" fill="#262626" text-anchor="end">6978350</text><text x="40.1" y="699.2" font-family="DejaVu Sans,Liberation Sans,sans-serif" font-size="8.5" fill="#262626" text-anchor="middle">N</text><text x="132.8" y="698.4" font-family="DejaVu Sans,Liberation Sans,sans-serif" font-size="8.5" fill="#262626" text-anchor="start">695350</text><text x="165.7" y="685.9" font-family="DejaVu Sans,Liberation Sans,sans-serif" font-size="8.5" fill="#262626" text-anchor="start">695450</text><text x="179.7" y="711.5" font-family="DejaVu Sans,Liberation Sans,sans-serif" font-size="8.5" fill="#262626" text-anchor="middle">E</text>
<text x="304.5" y="601.6" font-family="DejaVu Sans,Liberation Sans,sans-serif" font-size="8.8" font-weight="bold" fill="#000" text-anchor="middle">1959</text><line x1="244.0" y1="636.7" x2="322.9" y2="608.1" stroke="#dcdcdc" stroke-width="0.6"/><line x1="322.9" y1="608.1" x2="394.7" y2="653.8" stroke="#dcdcdc" stroke-width="0.6"/><line x1="244.0" y1="646.5" x2="322.9" y2="615.7" stroke="#dcdcdc" stroke-width="0.6"/><line x1="322.9" y1="615.7" x2="394.9" y2="662.9" stroke="#dcdcdc" stroke-width="0.6"/><line x1="322.9" y1="608.1" x2="322.9" y2="615.7" stroke="#dcdcdc" stroke-width="0.6"/><line x1="394.7" y1="653.8" x2="394.9" y2="662.9" stroke="#cfcfcf" stroke-width="0.6"/><line x1="332.8" y1="687.2" x2="260.5" y2="640.0" stroke="#e4e4e4" stroke-width="0.6"/><line x1="260.5" y1="640.0" x2="260.5" y2="630.2" stroke="#e4e4e4" stroke-width="0.6"/><line x1="365.8" y1="674.3" x2="293.5" y2="627.1" stroke="#e4e4e4" stroke-width="0.6"/><line x1="293.5" y1="627.1" x2="293.5" y2="617.3" stroke="#e4e4e4" stroke-width="0.6"/><line x1="256.3" y1="654.5" x2="334.9" y2="623.7" stroke="#e4e4e4" stroke-width="0.6"/><line x1="334.9" y1="623.7" x2="334.9" y2="614.6" stroke="#e4e4e4" stroke-width="0.6"/><line x1="281.6" y1="671.0" x2="360.2" y2="640.2" stroke="#e4e4e4" stroke-width="0.6"/><line x1="360.2" y1="640.2" x2="360.2" y2="631.1" stroke="#e4e4e4" stroke-width="0.6"/><line x1="306.9" y1="687.6" x2="385.5" y2="656.8" stroke="#e4e4e4" stroke-width="0.6"/><line x1="385.5" y1="656.8" x2="385.5" y2="647.7" stroke="#e4e4e4" stroke-width="0.6"/><line x1="244.0" y1="646.5" x2="316.3" y2="693.7" stroke="#b8b8b8" stroke-width="0.7"/><line x1="316.3" y1="693.7" x2="394.9" y2="662.9" stroke="#b8b8b8" stroke-width="0.7"/><line x1="244.0" y1="636.7" x2="244.0" y2="646.5" stroke="#999" stroke-width="0.7"/><line x1="244.0" y1="637.2" x2="246.5" y2="636.2" stroke="#999" stroke-width="0.6"/><line x1="244.0" y1="643.0" x2="246.5" y2="642.0" stroke="#999" stroke-width="0.6"/><g clip-path="url(#sc1)"><rect x="242.5" y="603.5" width="135" height="75" filter="url(#pf1)"/></g><text x="240.7" y="639.3" font-family="DejaVu Sans,Liberation Sans,sans-serif" font-size="8.5" fill="#262626" text-anchor="end">205</text><text x="240.7" y="646.0" font-family="DejaVu Sans,Liberation Sans,sans-serif" font-size="8.5" fill="#262626" text-anchor="end">185</text><text x="249.1" y="662.6" font-family="DejaVu Sans,Liberation Sans,sans-serif" font-size="8.5" fill="#262626" text-anchor="end">6978550</text><text x="274.5" y="679.3" font-family="DejaVu Sans,Liberation Sans,sans-serif" font-size="8.5" fill="#262626" text-anchor="end">6978450</text><text x="300.0" y="696.1" font-family="DejaVu Sans,Liberation Sans,sans-serif" font-size="8.5" fill="#262626" text-anchor="end">6978350</text><text x="242.6" y="699.2" font-family="DejaVu Sans,Liberation Sans,sans-serif" font-size="8.5" fill="#262626" text-anchor="middle">N</text><text x="335.3" y="698.4" font-family="DejaVu Sans,Liberation Sans,sans-serif" font-size="8.5" fill="#262626" text-anchor="start">695350</text><text x="368.2" y="685.9" font-family="DejaVu Sans,Liberation Sans,sans-serif" font-size="8.5" fill="#262626" text-anchor="start">695450</text><text x="382.2" y="711.5" font-family="DejaVu Sans,Liberation Sans,sans-serif" font-size="8.5" fill="#262626" text-anchor="middle">E</text>
<text x="507" y="601.6" font-family="DejaVu Sans,Liberation Sans,sans-serif" font-size="8.8" font-weight="bold" fill="#000" text-anchor="middle">1965</text><line x1="446.5" y1="636.7" x2="525.4" y2="608.1" stroke="#dcdcdc" stroke-width="0.6"/><line x1="525.4" y1="608.1" x2="597.2" y2="653.8" stroke="#dcdcdc" stroke-width="0.6"/><line x1="446.5" y1="646.5" x2="525.4" y2="615.7" stroke="#dcdcdc" stroke-width="0.6"/><line x1="525.4" y1="615.7" x2="597.4" y2="662.9" stroke="#dcdcdc" stroke-width="0.6"/><line x1="525.4" y1="608.1" x2="525.4" y2="615.7" stroke="#dcdcdc" stroke-width="0.6"/><line x1="597.2" y1="653.8" x2="597.4" y2="662.9" stroke="#cfcfcf" stroke-width="0.6"/><line x1="535.3" y1="687.2" x2="463.0" y2="640.0" stroke="#e4e4e4" stroke-width="0.6"/><line x1="463.0" y1="640.0" x2="463.0" y2="630.2" stroke="#e4e4e4" stroke-width="0.6"/><line x1="568.3" y1="674.3" x2="496.0" y2="627.1" stroke="#e4e4e4" stroke-width="0.6"/><line x1="496.0" y1="627.1" x2="496.0" y2="617.3" stroke="#e4e4e4" stroke-width="0.6"/><line x1="458.8" y1="654.5" x2="537.4" y2="623.7" stroke="#e4e4e4" stroke-width="0.6"/><line x1="537.4" y1="623.7" x2="537.4" y2="614.6" stroke="#e4e4e4" stroke-width="0.6"/><line x1="484.1" y1="671.0" x2="562.7" y2="640.2" stroke="#e4e4e4" stroke-width="0.6"/><line x1="562.7" y1="640.2" x2="562.7" y2="631.1" stroke="#e4e4e4" stroke-width="0.6"/><line x1="509.4" y1="687.6" x2="588.0" y2="656.8" stroke="#e4e4e4" stroke-width="0.6"/><line x1="588.0" y1="656.8" x2="588.0" y2="647.7" stroke="#e4e4e4" stroke-width="0.6"/><line x1="446.5" y1="646.5" x2="518.8" y2="693.7" stroke="#b8b8b8" stroke-width="0.7"/><line x1="518.8" y1="693.7" x2="597.4" y2="662.9" stroke="#b8b8b8" stroke-width="0.7"/><line x1="446.5" y1="636.7" x2="446.5" y2="646.5" stroke="#999" stroke-width="0.7"/><line x1="446.5" y1="637.2" x2="449.0" y2="636.2" stroke="#999" stroke-width="0.6"/><line x1="446.5" y1="643.0" x2="449.0" y2="642.0" stroke="#999" stroke-width="0.6"/><g clip-path="url(#sc2)"><rect x="445" y="603.5" width="135" height="75" filter="url(#pf2)"/></g><text x="443.2" y="639.3" font-family="DejaVu Sans,Liberation Sans,sans-serif" font-size="8.5" fill="#262626" text-anchor="end">205</text><text x="443.2" y="646.0" font-family="DejaVu Sans,Liberation Sans,sans-serif" font-size="8.5" fill="#262626" text-anchor="end">185</text><text x="451.6" y="662.6" font-family="DejaVu Sans,Liberation Sans,sans-serif" font-size="8.5" fill="#262626" text-anchor="end">6978550</text><text x="477.0" y="679.3" font-family="DejaVu Sans,Liberation Sans,sans-serif" font-size="8.5" fill="#262626" text-anchor="end">6978450</text><text x="502.5" y="696.1" font-family="DejaVu Sans,Liberation Sans,sans-serif" font-size="8.5" fill="#262626" text-anchor="end">6978350</text><text x="445.1" y="699.2" font-family="DejaVu Sans,Liberation Sans,sans-serif" font-size="8.5" fill="#262626" text-anchor="middle">N</text><text x="537.8" y="698.4" font-family="DejaVu Sans,Liberation Sans,sans-serif" font-size="8.5" fill="#262626" text-anchor="start">695350</text><text x="570.7" y="685.9" font-family="DejaVu Sans,Liberation Sans,sans-serif" font-size="8.5" fill="#262626" text-anchor="start">695450</text><text x="584.7" y="711.5" font-family="DejaVu Sans,Liberation Sans,sans-serif" font-size="8.5" fill="#262626" text-anchor="middle">E</text>
<text x="709.6" y="601.6" font-family="DejaVu Sans,Liberation Sans,sans-serif" font-size="8.8" font-weight="bold" fill="#000" text-anchor="middle">1977</text><line x1="649.1" y1="636.7" x2="728.0" y2="608.1" stroke="#dcdcdc" stroke-width="0.6"/><line x1="728.0" y1="608.1" x2="799.8" y2="653.8" stroke="#dcdcdc" stroke-width="0.6"/><line x1="649.1" y1="646.5" x2="728.0" y2="615.7" stroke="#dcdcdc" stroke-width="0.6"/><line x1="728.0" y1="615.7" x2="800.0" y2="662.9" stroke="#dcdcdc" stroke-width="0.6"/><line x1="728.0" y1="608.1" x2="728.0" y2="615.7" stroke="#dcdcdc" stroke-width="0.6"/><line x1="799.8" y1="653.8" x2="800.0" y2="662.9" stroke="#cfcfcf" stroke-width="0.6"/><line x1="737.9" y1="687.2" x2="665.6" y2="640.0" stroke="#e4e4e4" stroke-width="0.6"/><line x1="665.6" y1="640.0" x2="665.6" y2="630.2" stroke="#e4e4e4" stroke-width="0.6"/><line x1="770.9" y1="674.3" x2="698.6" y2="627.1" stroke="#e4e4e4" stroke-width="0.6"/><line x1="698.6" y1="627.1" x2="698.6" y2="617.3" stroke="#e4e4e4" stroke-width="0.6"/><line x1="661.4" y1="654.5" x2="740.0" y2="623.7" stroke="#e4e4e4" stroke-width="0.6"/><line x1="740.0" y1="623.7" x2="740.0" y2="614.6" stroke="#e4e4e4" stroke-width="0.6"/><line x1="686.7" y1="671.0" x2="765.3" y2="640.2" stroke="#e4e4e4" stroke-width="0.6"/><line x1="765.3" y1="640.2" x2="765.3" y2="631.1" stroke="#e4e4e4" stroke-width="0.6"/><line x1="712.0" y1="687.6" x2="790.6" y2="656.8" stroke="#e4e4e4" stroke-width="0.6"/><line x1="790.6" y1="656.8" x2="790.6" y2="647.7" stroke="#e4e4e4" stroke-width="0.6"/><line x1="649.1" y1="646.5" x2="721.4" y2="693.7" stroke="#b8b8b8" stroke-width="0.7"/><line x1="721.4" y1="693.7" x2="800.0" y2="662.9" stroke="#b8b8b8" stroke-width="0.7"/><line x1="649.1" y1="636.7" x2="649.1" y2="646.5" stroke="#999" stroke-width="0.7"/><line x1="649.1" y1="637.2" x2="651.6" y2="636.2" stroke="#999" stroke-width="0.6"/><line x1="649.1" y1="643.0" x2="651.6" y2="642.0" stroke="#999" stroke-width="0.6"/><g clip-path="url(#sc3)"><rect x="647.6" y="603.5" width="135" height="75" filter="url(#pf3)"/></g><text x="645.8" y="639.3" font-family="DejaVu Sans,Liberation Sans,sans-serif" font-size="8.5" fill="#262626" text-anchor="end">205</text><text x="645.8" y="646.0" font-family="DejaVu Sans,Liberation Sans,sans-serif" font-size="8.5" fill="#262626" text-anchor="end">185</text><text x="654.2" y="662.6" font-family="DejaVu Sans,Liberation Sans,sans-serif" font-size="8.5" fill="#262626" text-anchor="end">6978550</text><text x="679.6" y="679.3" font-family="DejaVu Sans,Liberation Sans,sans-serif" font-size="8.5" fill="#262626" text-anchor="end">6978450</text><text x="705.1" y="696.1" font-family="DejaVu Sans,Liberation Sans,sans-serif" font-size="8.5" fill="#262626" text-anchor="end">6978350</text><text x="647.7" y="699.2" font-family="DejaVu Sans,Liberation Sans,sans-serif" font-size="8.5" fill="#262626" text-anchor="middle">N</text><text x="740.4" y="698.4" font-family="DejaVu Sans,Liberation Sans,sans-serif" font-size="8.5" fill="#262626" text-anchor="start">695350</text><text x="773.3" y="685.9" font-family="DejaVu Sans,Liberation Sans,sans-serif" font-size="8.5" fill="#262626" text-anchor="start">695450</text><text x="787.3" y="711.5" font-family="DejaVu Sans,Liberation Sans,sans-serif" font-size="8.5" fill="#262626" text-anchor="middle">E</text>
<text x="912.2" y="601.6" font-family="DejaVu Sans,Liberation Sans,sans-serif" font-size="8.8" font-weight="bold" fill="#000" text-anchor="middle">ALS DSM</text><line x1="851.7" y1="636.7" x2="930.6" y2="608.1" stroke="#dcdcdc" stroke-width="0.6"/><line x1="930.6" y1="608.1" x2="1002.4" y2="653.8" stroke="#dcdcdc" stroke-width="0.6"/><line x1="851.7" y1="646.5" x2="930.6" y2="615.7" stroke="#dcdcdc" stroke-width="0.6"/><line x1="930.6" y1="615.7" x2="1002.6" y2="662.9" stroke="#dcdcdc" stroke-width="0.6"/><line x1="930.6" y1="608.1" x2="930.6" y2="615.7" stroke="#dcdcdc" stroke-width="0.6"/><line x1="1002.4" y1="653.8" x2="1002.6" y2="662.9" stroke="#cfcfcf" stroke-width="0.6"/><line x1="940.5" y1="687.2" x2="868.2" y2="640.0" stroke="#e4e4e4" stroke-width="0.6"/><line x1="868.2" y1="640.0" x2="868.2" y2="630.2" stroke="#e4e4e4" stroke-width="0.6"/><line x1="973.5" y1="674.3" x2="901.2" y2="627.1" stroke="#e4e4e4" stroke-width="0.6"/><line x1="901.2" y1="627.1" x2="901.2" y2="617.3" stroke="#e4e4e4" stroke-width="0.6"/><line x1="864.0" y1="654.5" x2="942.6" y2="623.7" stroke="#e4e4e4" stroke-width="0.6"/><line x1="942.6" y1="623.7" x2="942.6" y2="614.6" stroke="#e4e4e4" stroke-width="0.6"/><line x1="889.3" y1="671.0" x2="967.9" y2="640.2" stroke="#e4e4e4" stroke-width="0.6"/><line x1="967.9" y1="640.2" x2="967.9" y2="631.1" stroke="#e4e4e4" stroke-width="0.6"/><line x1="914.6" y1="687.6" x2="993.2" y2="656.8" stroke="#e4e4e4" stroke-width="0.6"/><line x1="993.2" y1="656.8" x2="993.2" y2="647.7" stroke="#e4e4e4" stroke-width="0.6"/><line x1="851.7" y1="646.5" x2="924.0" y2="693.7" stroke="#b8b8b8" stroke-width="0.7"/><line x1="924.0" y1="693.7" x2="1002.6" y2="662.9" stroke="#b8b8b8" stroke-width="0.7"/><line x1="851.7" y1="636.7" x2="851.7" y2="646.5" stroke="#999" stroke-width="0.7"/><line x1="851.7" y1="637.2" x2="854.2" y2="636.2" stroke="#999" stroke-width="0.6"/><line x1="851.7" y1="643.0" x2="854.2" y2="642.0" stroke="#999" stroke-width="0.6"/><g clip-path="url(#sc4)"><rect x="850.2" y="603.5" width="135" height="75" filter="url(#pf4)"/></g><polygon points="914.7,627.9 915.5,621.2 916.1,621.2 916.9,627.9" fill="url(#spk)"/><polygon points="910.2,628.0 911.0,620.3 911.6,620.3 912.4,628.0" fill="url(#spk)"/><polygon points="912.0,628.3 912.8,615.7 913.4,615.7 914.2,628.3" fill="url(#spk)"/><polygon points="917.8,628.3 918.6,615.6 919.2,615.6 920.0,628.3" fill="url(#spk)"/><polygon points="903.1,629.2 903.9,619.5 904.5,619.5 905.3,629.2" fill="url(#spk)"/><polygon points="917.3,629.4 918.1,616.7 918.7,616.7 919.5,629.4" fill="url(#spk)"/><polygon points="910.3,630.4 911.1,619.5 911.7,619.5 912.5,630.4" fill="url(#spk)"/><polygon points="905.9,630.5 906.7,624.0 907.3,624.0 908.1,630.5" fill="url(#spk)"/><polygon points="923.8,631.6 924.6,618.9 925.2,618.9 926.0,631.6" fill="url(#spk)"/><polygon points="933.0,631.7 933.8,625.6 934.4,625.6 935.2,631.7" fill="url(#spk)"/><polygon points="909.4,631.9 910.2,625.5 910.8,625.5 911.6,631.9" fill="url(#spk)"/><polygon points="910.3,631.9 911.1,620.0 911.7,620.0 912.5,631.9" fill="url(#spk)"/><polygon points="921.8,632.5 922.6,619.5 923.2,619.5 924.0,632.5" fill="url(#spk)"/><polygon points="910.2,632.5 911.0,620.9 911.6,620.9 912.4,632.5" fill="url(#spk)"/><polygon points="907.5,632.8 908.3,620.9 908.9,620.9 909.7,632.8" fill="url(#spk)"/><polygon points="899.0,632.8 899.8,625.1 900.4,625.1 901.2,632.8" fill="url(#spk)"/><polygon points="922.8,633.2 923.6,624.7 924.2,624.7 925.0,633.2" fill="url(#spk)"/><polygon points="928.6,633.4 929.4,621.0 930.0,621.0 930.8,633.4" fill="url(#spk)"/><polygon points="925.4,633.5 926.2,625.0 926.8,625.0 927.6,633.5" fill="url(#spk)"/><polygon points="937.1,633.7 937.9,627.6 938.5,627.6 939.3,633.7" fill="url(#spk)"/><polygon points="925.0,633.9 925.8,626.3 926.4,626.3 927.2,633.9" fill="url(#spk)"/><polygon points="934.9,634.2 935.7,628.2 936.3,628.2 937.1,634.2" fill="url(#spk)"/><polygon points="891.9,634.2 892.7,626.4 893.3,626.4 894.1,634.2" fill="url(#spk)"/><polygon points="923.3,634.3 924.1,627.1 924.7,627.1 925.5,634.3" fill="url(#spk)"/><polygon points="934.6,634.9 935.4,626.8 936.0,626.8 936.8,634.9" fill="url(#spk)"/><polygon points="897.1,635.1 897.9,629.0 898.5,629.0 899.3,635.1" fill="url(#spk)"/><polygon points="916.0,635.2 916.8,621.6 917.4,621.6 918.2,635.2" fill="url(#spk)"/><polygon points="917.5,635.2 918.3,629.4 918.9,629.4 919.7,635.2" fill="url(#spk)"/><polygon points="940.0,635.3 940.8,627.3 941.4,627.3 942.2,635.3" fill="url(#spk)"/><polygon points="929.0,635.5 929.8,622.4 930.4,622.4 931.2,635.5" fill="url(#spk)"/><polygon points="932.5,635.7 933.3,625.8 933.9,625.8 934.7,635.7" fill="url(#spk)"/><polygon points="938.6,636.0 939.4,626.6 940.0,626.6 940.8,636.0" fill="url(#spk)"/><polygon points="929.6,636.2 930.4,624.8 931.0,624.8 931.8,636.2" fill="url(#spk)"/><polygon points="912.4,636.3 913.2,622.7 913.8,622.7 914.6,636.3" fill="url(#spk)"/><polygon points="894.8,636.8 895.6,629.1 896.2,629.1 897.0,636.8" fill="url(#spk)"/><polygon points="899.6,637.1 900.4,627.1 901.0,627.1 901.8,637.1" fill="url(#spk)"/><polygon points="943.1,637.1 943.9,627.9 944.5,627.9 945.3,637.1" fill="url(#spk)"/><polygon points="934.4,637.3 935.2,631.3 935.8,631.3 936.6,637.3" fill="url(#spk)"/><polygon points="930.6,637.4 931.4,628.4 932.0,628.4 932.8,637.4" fill="url(#spk)"/><polygon points="893.7,637.8 894.5,631.9 895.1,631.9 895.9,637.8" fill="url(#spk)"/><polygon points="918.0,637.8 918.8,628.4 919.4,628.4 920.2,637.8" fill="url(#spk)"/><polygon points="946.3,637.9 947.1,625.7 947.7,625.7 948.5,637.9" fill="url(#spk)"/><polygon points="914.2,638.0 915.0,626.0 915.6,626.0 916.4,638.0" fill="url(#spk)"/><polygon points="888.9,638.6 889.7,632.7 890.3,632.7 891.1,638.6" fill="url(#spk)"/><polygon points="947.8,638.7 948.6,630.1 949.2,630.1 950.0,638.7" fill="url(#spk)"/><polygon points="930.9,638.8 931.7,631.2 932.3,631.2 933.1,638.8" fill="url(#spk)"/><polygon points="909.1,638.8 909.9,628.6 910.5,628.6 911.3,638.8" fill="url(#spk)"/><polygon points="943.4,638.8 944.2,626.2 944.8,626.2 945.6,638.8" fill="url(#spk)"/><polygon points="884.0,638.9 884.8,628.2 885.4,628.2 886.2,638.9" fill="url(#spk)"/><polygon points="946.5,638.9 947.3,632.3 947.9,632.3 948.7,638.9" fill="url(#spk)"/><polygon points="920.2,639.1 921.0,633.7 921.6,633.7 922.4,639.1" fill="url(#spk)"/><polygon points="899.5,639.1 900.3,632.7 900.9,632.7 901.7,639.1" fill="url(#spk)"/><polygon points="926.5,639.2 927.3,630.7 927.9,630.7 928.7,639.2" fill="url(#spk)"/><polygon points="894.8,639.4 895.6,633.0 896.2,633.0 897.0,639.4" fill="url(#spk)"/><polygon points="919.6,639.5 920.4,633.6 921.0,633.6 921.8,639.5" fill="url(#spk)"/><polygon points="885.8,639.5 886.6,632.1 887.2,632.1 888.0,639.5" fill="url(#spk)"/><polygon points="951.7,639.6 952.5,633.1 953.1,633.1 953.9,639.6" fill="url(#spk)"/><polygon points="941.0,639.7 941.8,628.2 942.4,628.2 943.2,639.7" fill="url(#spk)"/><polygon points="886.8,639.7 887.6,625.9 888.2,625.9 889.0,639.7" fill="url(#spk)"/><polygon points="938.8,640.0 939.6,629.3 940.2,629.3 941.0,640.0" fill="url(#spk)"/><polygon points="909.9,640.1 910.7,633.2 911.3,633.2 912.1,640.1" fill="url(#spk)"/><polygon points="900.8,640.2 901.6,633.8 902.2,633.8 903.0,640.2" fill="url(#spk)"/><polygon points="928.8,640.7 929.6,626.7 930.2,626.7 931.0,640.7" fill="url(#spk)"/><polygon points="894.4,640.8 895.2,628.2 895.8,628.2 896.6,640.8" fill="url(#spk)"/><polygon points="915.8,641.1 916.6,631.7 917.2,631.7 918.0,641.1" fill="url(#spk)"/><polygon points="911.7,641.1 912.5,630.0 913.1,630.0 913.9,641.1" fill="url(#spk)"/><polygon points="898.4,641.7 899.2,628.1 899.8,628.1 900.6,641.7" fill="url(#spk)"/><polygon points="928.1,641.7 928.9,630.4 929.5,630.4 930.3,641.7" fill="url(#spk)"/><polygon points="944.1,641.8 944.9,631.2 945.5,631.2 946.3,641.8" fill="url(#spk)"/><polygon points="943.5,641.8 944.3,631.7 944.9,631.7 945.7,641.8" fill="url(#spk)"/><polygon points="933.9,642.2 934.7,634.0 935.3,634.0 936.1,642.2" fill="url(#spk)"/><polygon points="936.0,642.2 936.8,633.2 937.4,633.2 938.2,642.2" fill="url(#spk)"/><polygon points="897.2,642.2 898.0,633.4 898.6,633.4 899.4,642.2" fill="url(#spk)"/><polygon points="922.3,642.2 923.1,631.4 923.7,631.4 924.5,642.2" fill="url(#spk)"/><polygon points="899.0,642.5 899.8,631.4 900.4,631.4 901.2,642.5" fill="url(#spk)"/><polygon points="884.7,642.5 885.5,637.2 886.1,637.2 886.9,642.5" fill="url(#spk)"/><polygon points="884.2,642.6 885.0,630.3 885.6,630.3 886.4,642.6" fill="url(#spk)"/><polygon points="896.3,642.6 897.1,631.7 897.7,631.7 898.5,642.6" fill="url(#spk)"/><polygon points="920.3,642.6 921.1,632.7 921.7,632.7 922.5,642.6" fill="url(#spk)"/><polygon points="927.9,642.7 928.7,629.3 929.3,629.3 930.1,642.7" fill="url(#spk)"/><polygon points="908.2,643.1 909.0,633.9 909.6,633.9 910.4,643.1" fill="url(#spk)"/><polygon points="922.0,643.3 922.8,635.6 923.4,635.6 924.2,643.3" fill="url(#spk)"/><polygon points="892.2,643.4 893.0,636.5 893.6,636.5 894.4,643.4" fill="url(#spk)"/><polygon points="957.6,643.5 958.4,635.7 959.0,635.7 959.8,643.5" fill="url(#spk)"/><polygon points="916.4,643.5 917.2,633.3 917.8,633.3 918.6,643.5" fill="url(#spk)"/><polygon points="937.0,643.6 937.8,633.9 938.4,633.9 939.2,643.6" fill="url(#spk)"/><polygon points="926.5,643.7 927.3,635.3 927.9,635.3 928.7,643.7" fill="url(#spk)"/><polygon points="958.1,643.7 958.9,633.4 959.5,633.4 960.3,643.7" fill="url(#spk)"/><polygon points="904.4,643.9 905.2,631.6 905.8,631.6 906.6,643.9" fill="url(#spk)"/><polygon points="943.4,643.9 944.2,630.9 944.8,630.9 945.6,643.9" fill="url(#spk)"/><polygon points="920.0,644.2 920.8,630.3 921.4,630.3 922.2,644.2" fill="url(#spk)"/><polygon points="963.7,644.3 964.5,637.0 965.1,637.0 965.9,644.3" fill="url(#spk)"/><polygon points="932.0,644.3 932.8,631.5 933.4,631.5 934.2,644.3" fill="url(#spk)"/><polygon points="927.2,644.4 928.0,636.9 928.6,636.9 929.4,644.4" fill="url(#spk)"/><polygon points="907.7,644.4 908.5,635.1 909.1,635.1 909.9,644.4" fill="url(#spk)"/><polygon points="920.3,644.8 921.1,639.2 921.7,639.2 922.5,644.8" fill="url(#spk)"/><polygon points="889.2,645.3 890.0,634.1 890.6,634.1 891.4,645.3" fill="url(#spk)"/><polygon points="911.9,645.3 912.7,634.5 913.3,634.5 914.1,645.3" fill="url(#spk)"/><polygon points="908.0,645.4 908.8,633.8 909.4,633.8 910.2,645.4" fill="url(#spk)"/><polygon points="965.5,645.5 966.3,632.6 966.9,632.6 967.7,645.5" fill="url(#spk)"/><polygon points="912.0,645.6 912.8,639.3 913.4,639.3 914.2,645.6" fill="url(#spk)"/><polygon points="942.4,645.6 943.2,639.8 943.8,639.8 944.6,645.6" fill="url(#spk)"/><polygon points="957.5,645.6 958.3,635.4 958.9,635.4 959.7,645.6" fill="url(#spk)"/><polygon points="960.5,645.6 961.3,635.8 961.9,635.8 962.7,645.6" fill="url(#spk)"/><polygon points="963.4,645.8 964.2,638.4 964.8,638.4 965.6,645.8" fill="url(#spk)"/><polygon points="885.8,645.8 886.6,637.7 887.2,637.7 888.0,645.8" fill="url(#spk)"/><polygon points="957.8,646.0 958.6,637.4 959.2,637.4 960.0,646.0" fill="url(#spk)"/><polygon points="939.9,646.0 940.7,634.5 941.3,634.5 942.1,646.0" fill="url(#spk)"/><polygon points="951.3,646.2 952.1,636.8 952.7,636.8 953.5,646.2" fill="url(#spk)"/><polygon points="962.7,646.3 963.5,638.6 964.1,638.6 964.9,646.3" fill="url(#spk)"/><polygon points="927.2,646.4 928.0,639.7 928.6,639.7 929.4,646.4" fill="url(#spk)"/><polygon points="911.2,646.5 912.0,641.0 912.6,641.0 913.4,646.5" fill="url(#spk)"/><polygon points="897.3,646.7 898.1,636.3 898.7,636.3 899.5,646.7" fill="url(#spk)"/><polygon points="943.5,646.7 944.3,639.6 944.9,639.6 945.7,646.7" fill="url(#spk)"/><polygon points="952.8,646.8 953.6,638.0 954.2,638.0 955.0,646.8" fill="url(#spk)"/><polygon points="936.0,646.8 936.8,640.2 937.4,640.2 938.2,646.8" fill="url(#spk)"/><polygon points="891.9,647.0 892.7,636.4 893.3,636.4 894.1,647.0" fill="url(#spk)"/><polygon points="909.9,647.1 910.7,633.8 911.3,633.8 912.1,647.1" fill="url(#spk)"/><polygon points="910.5,647.1 911.3,636.9 911.9,636.9 912.7,647.1" fill="url(#spk)"/><polygon points="901.0,647.3 901.8,638.0 902.4,638.0 903.2,647.3" fill="url(#spk)"/><polygon points="922.8,647.3 923.6,640.5 924.2,640.5 925.0,647.3" fill="url(#spk)"/><polygon points="920.4,647.4 921.2,639.3 921.8,639.3 922.6,647.4" fill="url(#spk)"/><polygon points="921.2,647.4 922.0,636.3 922.6,636.3 923.4,647.4" fill="url(#spk)"/><polygon points="892.3,647.5 893.1,636.8 893.7,636.8 894.5,647.5" fill="url(#spk)"/><polygon points="885.6,647.7 886.4,637.7 887.0,637.7 887.8,647.7" fill="url(#spk)"/><polygon points="966.9,647.7 967.7,635.7 968.3,635.7 969.1,647.7" fill="url(#spk)"/><polygon points="957.7,647.8 958.5,638.8 959.1,638.8 959.9,647.8" fill="url(#spk)"/><polygon points="909.6,647.8 910.4,635.2 911.0,635.2 911.8,647.8" fill="url(#spk)"/><polygon points="971.7,648.0 972.5,634.6 973.1,634.6 973.9,648.0" fill="url(#spk)"/><polygon points="888.5,648.0 889.3,641.2 889.9,641.2 890.7,648.0" fill="url(#spk)"/><polygon points="965.3,648.0 966.1,636.5 966.7,636.5 967.5,648.0" fill="url(#spk)"/><polygon points="930.6,648.1 931.4,639.2 932.0,639.2 932.8,648.1" fill="url(#spk)"/><polygon points="935.7,648.1 936.5,634.3 937.1,634.3 937.9,648.1" fill="url(#spk)"/><polygon points="921.0,648.2 921.8,642.8 922.4,642.8 923.2,648.2" fill="url(#spk)"/><polygon points="894.3,648.3 895.1,640.5 895.7,640.5 896.5,648.3" fill="url(#spk)"/><polygon points="915.1,648.3 915.9,638.2 916.5,638.2 917.3,648.3" fill="url(#spk)"/><polygon points="973.2,648.4 974.0,635.2 974.6,635.2 975.4,648.4" fill="url(#spk)"/><polygon points="973.6,648.6 974.4,641.7 975.0,641.7 975.8,648.6" fill="url(#spk)"/><polygon points="975.1,648.7 975.9,642.4 976.5,642.4 977.3,648.7" fill="url(#spk)"/><polygon points="953.5,648.8 954.3,636.2 954.9,636.2 955.7,648.8" fill="url(#spk)"/><polygon points="905.2,648.8 906.0,640.5 906.6,640.5 907.4,648.8" fill="url(#spk)"/><polygon points="925.6,649.2 926.4,644.1 927.0,644.1 927.8,649.2" fill="url(#spk)"/><polygon points="940.8,649.3 941.6,640.1 942.2,640.1 943.0,649.3" fill="url(#spk)"/><polygon points="895.0,649.3 895.8,637.9 896.4,637.9 897.2,649.3" fill="url(#spk)"/><polygon points="970.5,649.4 971.3,638.0 971.9,638.0 972.7,649.4" fill="url(#spk)"/><polygon points="932.0,649.5 932.8,638.2 933.4,638.2 934.2,649.5" fill="url(#spk)"/><polygon points="901.7,649.5 902.5,636.3 903.1,636.3 903.9,649.5" fill="url(#spk)"/><polygon points="905.7,649.6 906.5,638.6 907.1,638.6 907.9,649.6" fill="url(#spk)"/><polygon points="961.3,649.6 962.1,638.3 962.7,638.3 963.5,649.6" fill="url(#spk)"/><polygon points="890.8,649.9 891.6,636.2 892.2,636.2 893.0,649.9" fill="url(#spk)"/><polygon points="886.2,649.9 887.0,637.5 887.6,637.5 888.4,649.9" fill="url(#spk)"/><polygon points="946.7,649.9 947.5,643.0 948.1,643.0 948.9,649.9" fill="url(#spk)"/><polygon points="905.3,650.0 906.1,644.4 906.7,644.4 907.5,650.0" fill="url(#spk)"/><polygon points="940.2,650.0 941.0,638.6 941.6,638.6 942.4,650.0" fill="url(#spk)"/><polygon points="967.6,650.0 968.4,640.3 969.0,640.3 969.8,650.0" fill="url(#spk)"/><polygon points="948.6,650.0 949.4,640.8 950.0,640.8 950.8,650.0" fill="url(#spk)"/><polygon points="968.3,650.0 969.1,637.5 969.7,637.5 970.5,650.0" fill="url(#spk)"/><polygon points="885.6,650.2 886.4,643.7 887.0,643.7 887.8,650.2" fill="url(#spk)"/><polygon points="964.9,650.4 965.7,641.4 966.3,641.4 967.1,650.4" fill="url(#spk)"/><polygon points="923.7,650.6 924.5,644.3 925.1,644.3 925.9,650.6" fill="url(#spk)"/><polygon points="908.5,650.6 909.3,640.2 909.9,640.2 910.7,650.6" fill="url(#spk)"/><polygon points="941.6,650.6 942.4,640.6 943.0,640.6 943.8,650.6" fill="url(#spk)"/><polygon points="920.5,650.7 921.3,643.9 921.9,643.9 922.7,650.7" fill="url(#spk)"/><polygon points="958.9,650.8 959.7,638.9 960.3,638.9 961.1,650.8" fill="url(#spk)"/><polygon points="913.9,650.8 914.7,643.6 915.3,643.6 916.1,650.8" fill="url(#spk)"/><polygon points="963.7,650.9 964.5,645.4 965.1,645.4 965.9,650.9" fill="url(#spk)"/><polygon points="936.9,650.9 937.7,643.3 938.3,643.3 939.1,650.9" fill="url(#spk)"/><polygon points="913.1,651.0 913.9,639.1 914.5,639.1 915.3,651.0" fill="url(#spk)"/><polygon points="905.6,651.1 906.4,639.1 907.0,639.1 907.8,651.1" fill="url(#spk)"/><polygon points="968.1,651.3 968.9,642.8 969.5,642.8 970.3,651.3" fill="url(#spk)"/><polygon points="931.5,651.4 932.3,639.9 932.9,639.9 933.7,651.4" fill="url(#spk)"/><polygon points="910.1,651.5 910.9,644.5 911.5,644.5 912.3,651.5" fill="url(#spk)"/><polygon points="929.8,651.7 930.6,644.5 931.2,644.5 932.0,651.7" fill="url(#spk)"/><polygon points="913.7,651.7 914.5,644.9 915.1,644.9 915.9,651.7" fill="url(#spk)"/><polygon points="888.2,651.9 889.0,640.3 889.6,640.3 890.4,651.9" fill="url(#spk)"/><polygon points="886.4,652.0 887.2,641.8 887.8,641.8 888.6,652.0" fill="url(#spk)"/><polygon points="889.9,652.1 890.7,640.5 891.3,640.5 892.1,652.1" fill="url(#spk)"/><polygon points="895.8,652.1 896.6,641.9 897.2,641.9 898.0,652.1" fill="url(#spk)"/><polygon points="891.6,652.3 892.4,644.6 893.0,644.6 893.8,652.3" fill="url(#spk)"/><polygon points="897.6,652.5 898.4,641.4 899.0,641.4 899.8,652.5" fill="url(#spk)"/><polygon points="934.2,652.6 935.0,640.9 935.6,640.9 936.4,652.6" fill="url(#spk)"/><polygon points="902.5,652.6 903.3,646.1 903.9,646.1 904.7,652.6" fill="url(#spk)"/><polygon points="906.5,652.7 907.3,643.7 907.9,643.7 908.7,652.7" fill="url(#spk)"/><polygon points="955.5,652.7 956.3,643.1 956.9,643.1 957.7,652.7" fill="url(#spk)"/><polygon points="973.4,652.8 974.2,641.1 974.8,641.1 975.6,652.8" fill="url(#spk)"/><polygon points="956.8,652.9 957.6,639.1 958.2,639.1 959.0,652.9" fill="url(#spk)"/><polygon points="918.4,653.0 919.2,645.6 919.8,645.6 920.6,653.0" fill="url(#spk)"/><polygon points="964.0,653.0 964.8,647.6 965.4,647.6 966.2,653.0" fill="url(#spk)"/><polygon points="892.6,653.1 893.4,647.4 894.0,647.4 894.8,653.1" fill="url(#spk)"/><polygon points="969.2,653.1 970.0,647.0 970.6,647.0 971.4,653.1" fill="url(#spk)"/><polygon points="971.9,653.2 972.7,640.0 973.3,640.0 974.1,653.2" fill="url(#spk)"/><polygon points="947.4,653.5 948.2,646.7 948.8,646.7 949.6,653.5" fill="url(#spk)"/><polygon points="949.8,653.5 950.6,646.0 951.2,646.0 952.0,653.5" fill="url(#spk)"/><polygon points="915.7,653.6 916.5,644.6 917.1,644.6 917.9,653.6" fill="url(#spk)"/><polygon points="883.4,653.7 884.2,644.1 884.8,644.1 885.6,653.7" fill="url(#spk)"/><polygon points="890.4,653.7 891.2,642.0 891.8,642.0 892.6,653.7" fill="url(#spk)"/><polygon points="951.9,653.8 952.7,642.7 953.3,642.7 954.1,653.8" fill="url(#spk)"/><polygon points="933.4,653.9 934.2,647.5 934.8,647.5 935.6,653.9" fill="url(#spk)"/><polygon points="953.8,654.0 954.6,646.2 955.2,646.2 956.0,654.0" fill="url(#spk)"/><polygon points="953.0,654.0 953.8,643.2 954.4,643.2 955.2,654.0" fill="url(#spk)"/><polygon points="971.5,654.1 972.3,646.1 972.9,646.1 973.7,654.1" fill="url(#spk)"/><polygon points="901.4,654.3 902.2,642.3 902.8,642.3 903.6,654.3" fill="url(#spk)"/><polygon points="885.3,654.3 886.1,645.0 886.7,645.0 887.5,654.3" fill="url(#spk)"/><polygon points="910.2,654.3 911.0,646.6 911.6,646.6 912.4,654.3" fill="url(#spk)"/><polygon points="921.6,654.4 922.4,648.3 923.0,648.3 923.8,654.4" fill="url(#spk)"/><polygon points="885.4,654.4 886.2,649.2 886.8,649.2 887.6,654.4" fill="url(#spk)"/><polygon points="896.7,654.5 897.5,644.1 898.1,644.1 898.9,654.5" fill="url(#spk)"/><polygon points="946.8,654.6 947.6,645.8 948.2,645.8 949.0,654.6" fill="url(#spk)"/><polygon points="958.1,654.7 958.9,645.0 959.5,645.0 960.3,654.7" fill="url(#spk)"/><polygon points="952.2,654.8 953.0,645.4 953.6,645.4 954.4,654.8" fill="url(#spk)"/><polygon points="963.6,654.8 964.4,641.1 965.0,641.1 965.8,654.8" fill="url(#spk)"/><polygon points="907.3,655.0 908.1,646.6 908.7,646.6 909.5,655.0" fill="url(#spk)"/><polygon points="937.2,655.3 938.0,645.4 938.6,645.4 939.4,655.3" fill="url(#spk)"/><polygon points="884.0,655.3 884.8,643.1 885.4,643.1 886.2,655.3" fill="url(#spk)"/><polygon points="927.1,655.7 927.9,646.0 928.5,646.0 929.3,655.7" fill="url(#spk)"/><polygon points="913.6,655.8 914.4,642.3 915.0,642.3 915.8,655.8" fill="url(#spk)"/><polygon points="946.6,655.9 947.4,648.2 948.0,648.2 948.8,655.9" fill="url(#spk)"/><polygon points="933.1,655.9 933.9,646.7 934.5,646.7 935.3,655.9" fill="url(#spk)"/><polygon points="922.2,656.0 923.0,645.9 923.6,645.9 924.4,656.0" fill="url(#spk)"/><polygon points="973.0,656.1 973.8,646.6 974.4,646.6 975.2,656.1" fill="url(#spk)"/><polygon points="897.2,656.3 898.0,647.0 898.6,647.0 899.4,656.3" fill="url(#spk)"/><polygon points="926.5,656.4 927.3,650.0 927.9,650.0 928.7,656.4" fill="url(#spk)"/><polygon points="946.3,656.4 947.1,644.1 947.7,644.1 948.5,656.4" fill="url(#spk)"/><polygon points="944.0,656.5 944.8,646.8 945.4,646.8 946.2,656.5" fill="url(#spk)"/><polygon points="967.7,656.8 968.5,643.3 969.1,643.3 969.9,656.8" fill="url(#spk)"/><polygon points="906.1,656.8 906.9,649.8 907.5,649.8 908.3,656.8" fill="url(#spk)"/><polygon points="916.0,657.0 916.8,650.6 917.4,650.6 918.2,657.0" fill="url(#spk)"/><polygon points="929.5,657.3 930.3,644.9 930.9,644.9 931.7,657.3" fill="url(#spk)"/><polygon points="895.7,657.3 896.5,652.0 897.1,652.0 897.9,657.3" fill="url(#spk)"/><polygon points="891.6,657.4 892.4,649.5 893.0,649.5 893.8,657.4" fill="url(#spk)"/><polygon points="920.6,657.8 921.4,646.7 922.0,646.7 922.8,657.8" fill="url(#spk)"/><polygon points="914.2,657.8 915.0,650.0 915.6,650.0 916.4,657.8" fill="url(#spk)"/><polygon points="924.6,657.9 925.4,650.5 926.0,650.5 926.8,657.9" fill="url(#spk)"/><polygon points="958.8,658.2 959.6,651.3 960.2,651.3 961.0,658.2" fill="url(#spk)"/><polygon points="893.2,658.2 894.0,646.9 894.6,646.9 895.4,658.2" fill="url(#spk)"/><polygon points="935.8,658.3 936.6,647.9 937.2,647.9 938.0,658.3" fill="url(#spk)"/><polygon points="912.9,658.3 913.7,644.5 914.3,644.5 915.1,658.3" fill="url(#spk)"/><polygon points="898.4,658.3 899.2,653.0 899.8,653.0 900.6,658.3" fill="url(#spk)"/><polygon points="907.7,658.4 908.5,651.5 909.1,651.5 909.9,658.4" fill="url(#spk)"/><polygon points="952.0,658.4 952.8,646.8 953.4,646.8 954.2,658.4" fill="url(#spk)"/><polygon points="972.5,658.4 973.3,650.8 973.9,650.8 974.7,658.4" fill="url(#spk)"/><polygon points="884.0,658.5 884.8,644.6 885.4,644.6 886.2,658.5" fill="url(#spk)"/><polygon points="946.8,658.5 947.6,652.7 948.2,652.7 949.0,658.5" fill="url(#spk)"/><polygon points="944.7,658.5 945.5,650.3 946.1,650.3 946.9,658.5" fill="url(#spk)"/><polygon points="890.8,658.6 891.6,653.4 892.2,653.4 893.0,658.6" fill="url(#spk)"/><polygon points="921.5,658.7 922.3,648.5 922.9,648.5 923.7,658.7" fill="url(#spk)"/><polygon points="937.5,658.7 938.3,651.7 938.9,651.7 939.7,658.7" fill="url(#spk)"/><polygon points="934.4,658.7 935.2,652.8 935.8,652.8 936.6,658.7" fill="url(#spk)"/><polygon points="961.3,658.7 962.1,649.5 962.7,649.5 963.5,658.7" fill="url(#spk)"/><polygon points="951.4,658.8 952.2,645.1 952.8,645.1 953.6,658.8" fill="url(#spk)"/><polygon points="923.9,658.8 924.7,650.5 925.3,650.5 926.1,658.8" fill="url(#spk)"/><polygon points="967.6,658.9 968.4,645.5 969.0,645.5 969.8,658.9" fill="url(#spk)"/><polygon points="930.0,658.9 930.8,649.0 931.4,649.0 932.2,658.9" fill="url(#spk)"/><polygon points="935.8,658.9 936.6,645.7 937.2,645.7 938.0,658.9" fill="url(#spk)"/><polygon points="929.6,659.0 930.4,653.0 931.0,653.0 931.8,659.0" fill="url(#spk)"/><polygon points="895.6,659.0 896.4,649.3 897.0,649.3 897.8,659.0" fill="url(#spk)"/><polygon points="900.4,659.0 901.2,646.9 901.8,646.9 902.6,659.0" fill="url(#spk)"/><polygon points="963.4,659.1 964.2,648.4 964.8,648.4 965.6,659.1" fill="url(#spk)"/><polygon points="910.7,659.2 911.5,645.9 912.1,645.9 912.9,659.2" fill="url(#spk)"/><polygon points="970.9,659.3 971.7,651.9 972.3,651.9 973.1,659.3" fill="url(#spk)"/><polygon points="886.4,659.3 887.2,652.2 887.8,652.2 888.6,659.3" fill="url(#spk)"/><polygon points="885.9,659.4 886.7,648.9 887.3,648.9 888.1,659.4" fill="url(#spk)"/><polygon points="929.3,659.4 930.1,646.6 930.7,646.6 931.5,659.4" fill="url(#spk)"/><polygon points="942.9,659.4 943.7,650.2 944.3,650.2 945.1,659.4" fill="url(#spk)"/><polygon points="930.5,659.7 931.3,652.4 931.9,652.4 932.7,659.7" fill="url(#spk)"/><polygon points="925.6,659.8 926.4,650.9 927.0,650.9 927.8,659.8" fill="url(#spk)"/><polygon points="914.0,659.9 914.8,648.9 915.4,648.9 916.2,659.9" fill="url(#spk)"/><polygon points="925.6,660.1 926.4,648.3 927.0,648.3 927.8,660.1" fill="url(#spk)"/><polygon points="914.0,660.2 914.8,648.5 915.4,648.5 916.2,660.2" fill="url(#spk)"/><polygon points="945.0,660.2 945.8,652.7 946.4,652.7 947.2,660.2" fill="url(#spk)"/><polygon points="961.8,660.4 962.6,648.9 963.2,648.9 964.0,660.4" fill="url(#spk)"/><polygon points="963.2,660.4 964.0,649.8 964.6,649.8 965.4,660.4" fill="url(#spk)"/><polygon points="945.7,660.5 946.5,652.5 947.1,652.5 947.9,660.5" fill="url(#spk)"/><polygon points="894.8,660.5 895.6,653.2 896.2,653.2 897.0,660.5" fill="url(#spk)"/><polygon points="951.4,660.5 952.2,650.3 952.8,650.3 953.6,660.5" fill="url(#spk)"/><polygon points="974.5,661.0 975.3,651.0 975.9,651.0 976.7,661.0" fill="url(#spk)"/><polygon points="923.1,661.2 923.9,647.6 924.5,647.6 925.3,661.2" fill="url(#spk)"/><polygon points="885.1,661.5 885.9,650.7 886.5,650.7 887.3,661.5" fill="url(#spk)"/><polygon points="928.9,661.9 929.7,655.8 930.3,655.8 931.1,661.9" fill="url(#spk)"/><polygon points="974.4,661.9 975.2,649.6 975.8,649.6 976.6,661.9" fill="url(#spk)"/><polygon points="973.5,662.0 974.3,653.9 974.9,653.9 975.7,662.0" fill="url(#spk)"/><polygon points="938.9,662.0 939.7,650.3 940.3,650.3 941.1,662.0" fill="url(#spk)"/><polygon points="942.0,662.3 942.8,652.7 943.4,652.7 944.2,662.3" fill="url(#spk)"/><polygon points="975.8,662.3 976.6,650.2 977.2,650.2 978.0,662.3" fill="url(#spk)"/><polygon points="906.1,662.4 906.9,652.4 907.5,652.4 908.3,662.4" fill="url(#spk)"/><polygon points="929.5,662.5 930.3,655.6 930.9,655.6 931.7,662.5" fill="url(#spk)"/><polygon points="972.7,662.5 973.5,650.6 974.1,650.6 974.9,662.5" fill="url(#spk)"/><polygon points="951.3,662.5 952.1,648.9 952.7,648.9 953.5,662.5" fill="url(#spk)"/><polygon points="893.6,662.6 894.4,656.1 895.0,656.1 895.8,662.6" fill="url(#spk)"/><polygon points="924.8,662.6 925.6,652.5 926.2,652.5 927.0,662.6" fill="url(#spk)"/><polygon points="892.8,662.6 893.6,652.0 894.2,652.0 895.0,662.6" fill="url(#spk)"/><polygon points="953.1,662.7 953.9,651.4 954.5,651.4 955.3,662.7" fill="url(#spk)"/><polygon points="946.9,662.8 947.7,655.8 948.3,655.8 949.1,662.8" fill="url(#spk)"/><polygon points="971.9,662.8 972.7,652.0 973.3,652.0 974.1,662.8" fill="url(#spk)"/><polygon points="895.4,663.0 896.2,655.4 896.8,655.4 897.6,663.0" fill="url(#spk)"/><polygon points="929.8,663.1 930.6,650.9 931.2,650.9 932.0,663.1" fill="url(#spk)"/><polygon points="938.8,663.1 939.6,651.8 940.2,651.8 941.0,663.1" fill="url(#spk)"/><polygon points="887.4,663.1 888.2,657.9 888.8,657.9 889.6,663.1" fill="url(#spk)"/><polygon points="924.3,663.2 925.1,650.3 925.7,650.3 926.5,663.2" fill="url(#spk)"/><polygon points="905.9,663.2 906.7,653.3 907.3,653.3 908.1,663.2" fill="url(#spk)"/><polygon points="904.9,663.3 905.7,653.2 906.3,653.2 907.1,663.3" fill="url(#spk)"/><polygon points="905.6,663.5 906.4,657.3 907.0,657.3 907.8,663.5" fill="url(#spk)"/><polygon points="969.6,663.6 970.4,654.5 971.0,654.5 971.8,663.6" fill="url(#spk)"/><polygon points="908.5,663.6 909.3,655.2 909.9,655.2 910.7,663.6" fill="url(#spk)"/><polygon points="927.5,663.7 928.3,657.2 928.9,657.2 929.7,663.7" fill="url(#spk)"/><polygon points="934.2,663.7 935.0,658.7 935.6,658.7 936.4,663.7" fill="url(#spk)"/><polygon points="886.1,663.8 886.9,655.2 887.5,655.2 888.3,663.8" fill="url(#spk)"/><polygon points="893.5,663.9 894.3,658.1 894.9,658.1 895.7,663.9" fill="url(#spk)"/><polygon points="926.2,663.9 927.0,652.2 927.6,652.2 928.4,663.9" fill="url(#spk)"/><polygon points="891.6,664.0 892.4,654.7 893.0,654.7 893.8,664.0" fill="url(#spk)"/><polygon points="948.9,664.0 949.7,651.5 950.3,651.5 951.1,664.0" fill="url(#spk)"/><polygon points="890.8,664.1 891.6,654.0 892.2,654.0 893.0,664.1" fill="url(#spk)"/><polygon points="920.2,664.2 921.0,655.3 921.6,655.3 922.4,664.2" fill="url(#spk)"/><polygon points="949.9,664.3 950.7,653.6 951.3,653.6 952.1,664.3" fill="url(#spk)"/><polygon points="976.0,664.4 976.8,659.2 977.4,659.2 978.2,664.4" fill="url(#spk)"/><polygon points="901.3,664.6 902.1,656.0 902.7,656.0 903.5,664.6" fill="url(#spk)"/><polygon points="910.6,664.7 911.4,652.1 912.0,652.1 912.8,664.7" fill="url(#spk)"/><polygon points="963.5,664.8 964.3,654.6 964.9,654.6 965.7,664.8" fill="url(#spk)"/><polygon points="958.5,664.8 959.3,656.0 959.9,656.0 960.7,664.8" fill="url(#spk)"/><polygon points="968.1,665.2 968.9,651.9 969.5,651.9 970.3,665.2" fill="url(#spk)"/><polygon points="920.6,665.3 921.4,653.8 922.0,653.8 922.8,665.3" fill="url(#spk)"/><polygon points="949.7,665.3 950.5,656.7 951.1,656.7 951.9,665.3" fill="url(#spk)"/><polygon points="888.5,665.4 889.3,652.7 889.9,652.7 890.7,665.4" fill="url(#spk)"/><polygon points="959.2,665.5 960.0,657.6 960.6,657.6 961.4,665.5" fill="url(#spk)"/><polygon points="925.4,665.6 926.2,654.8 926.8,654.8 927.6,665.6" fill="url(#spk)"/><polygon points="924.1,665.6 924.9,653.0 925.5,653.0 926.3,665.6" fill="url(#spk)"/><polygon points="899.8,665.8 900.6,652.6 901.2,652.6 902.0,665.8" fill="url(#spk)"/><polygon points="908.3,666.1 909.1,660.9 909.7,660.9 910.5,666.1" fill="url(#spk)"/><polygon points="906.4,666.3 907.2,657.7 907.8,657.7 908.6,666.3" fill="url(#spk)"/><polygon points="945.1,666.3 945.9,660.3 946.5,660.3 947.3,666.3" fill="url(#spk)"/><polygon points="970.5,666.3 971.3,657.2 971.9,657.2 972.7,666.3" fill="url(#spk)"/><polygon points="944.5,666.4 945.3,656.5 945.9,656.5 946.7,666.4" fill="url(#spk)"/><polygon points="952.2,666.4 953.0,658.9 953.6,658.9 954.4,666.4" fill="url(#spk)"/><polygon points="899.5,666.4 900.3,656.3 900.9,656.3 901.7,666.4" fill="url(#spk)"/><polygon points="926.0,666.6 926.8,654.2 927.4,654.2 928.2,666.6" fill="url(#spk)"/><polygon points="936.6,666.6 937.4,656.4 938.0,656.4 938.8,666.6" fill="url(#spk)"/><polygon points="888.1,666.7 888.9,659.9 889.5,659.9 890.3,666.7" fill="url(#spk)"/><polygon points="961.9,666.9 962.7,659.5 963.3,659.5 964.1,666.9" fill="url(#spk)"/><polygon points="944.9,666.9 945.7,657.5 946.3,657.5 947.1,666.9" fill="url(#spk)"/><polygon points="963.3,666.9 964.1,660.7 964.7,660.7 965.5,666.9" fill="url(#spk)"/><polygon points="932.3,667.0 933.1,656.9 933.7,656.9 934.5,667.0" fill="url(#spk)"/><polygon points="890.5,667.2 891.3,657.9 891.9,657.9 892.7,667.2" fill="url(#spk)"/><polygon points="945.3,667.2 946.1,655.7 946.7,655.7 947.5,667.2" fill="url(#spk)"/><polygon points="910.5,667.4 911.3,662.1 911.9,662.1 912.7,667.4" fill="url(#spk)"/><polygon points="955.2,667.7 956.0,659.7 956.6,659.7 957.4,667.7" fill="url(#spk)"/><polygon points="931.7,667.8 932.5,659.3 933.1,659.3 933.9,667.8" fill="url(#spk)"/><polygon points="911.3,668.0 912.1,655.5 912.7,655.5 913.5,668.0" fill="url(#spk)"/><polygon points="967.7,668.1 968.5,661.8 969.1,661.8 969.9,668.1" fill="url(#spk)"/><polygon points="931.9,668.3 932.7,662.3 933.3,662.3 934.1,668.3" fill="url(#spk)"/><polygon points="907.5,668.4 908.3,659.2 908.9,659.2 909.7,668.4" fill="url(#spk)"/><polygon points="920.5,668.6 921.3,656.0 921.9,656.0 922.7,668.6" fill="url(#spk)"/><polygon points="898.0,669.0 898.8,660.6 899.4,660.6 900.2,669.0" fill="url(#spk)"/><polygon points="919.0,669.1 919.8,658.9 920.4,658.9 921.2,669.1" fill="url(#spk)"/><polygon points="951.2,669.1 952.0,660.9 952.6,660.9 953.4,669.1" fill="url(#spk)"/><polygon points="902.8,669.4 903.6,662.1 904.2,662.1 905.0,669.4" fill="url(#spk)"/><polygon points="900.1,669.6 900.9,660.9 901.5,660.9 902.3,669.6" fill="url(#spk)"/><polygon points="971.9,670.0 972.7,661.2 973.3,661.2 974.1,670.0" fill="url(#spk)"/><polygon points="917.4,670.0 918.2,661.4 918.8,661.4 919.6,670.0" fill="url(#spk)"/><polygon points="940.7,670.5 941.5,663.0 942.1,663.0 942.9,670.5" fill="url(#spk)"/><polygon points="944.0,670.6 944.8,661.4 945.4,661.4 946.2,670.6" fill="url(#spk)"/><polygon points="912.2,670.8 913.0,663.6 913.6,663.6 914.4,670.8" fill="url(#spk)"/><polygon points="960.0,670.9 960.8,657.4 961.4,657.4 962.2,670.9" fill="url(#spk)"/><polygon points="930.6,670.9 931.4,658.0 932.0,658.0 932.8,670.9" fill="url(#spk)"/><polygon points="914.5,671.0 915.3,662.6 915.9,662.6 916.7,671.0" fill="url(#spk)"/><polygon points="907.5,671.0 908.3,658.9 908.9,658.9 909.7,671.0" fill="url(#spk)"/><polygon points="964.9,671.1 965.7,664.2 966.3,664.2 967.1,671.1" fill="url(#spk)"/><polygon points="895.7,671.4 896.5,663.0 897.1,663.0 897.9,671.4" fill="url(#spk)"/><polygon points="968.0,671.7 968.8,658.9 969.4,658.9 970.2,671.7" fill="url(#spk)"/><polygon points="945.4,672.0 946.2,660.1 946.8,660.1 947.6,672.0" fill="url(#spk)"/><polygon points="957.0,672.2 957.8,658.3 958.4,658.3 959.2,672.2" fill="url(#spk)"/><polygon points="962.4,672.2 963.2,661.7 963.8,661.7 964.6,672.2" fill="url(#spk)"/><polygon points="939.1,672.4 939.9,667.1 940.5,667.1 941.3,672.4" fill="url(#spk)"/><polygon points="956.0,672.7 956.8,662.0 957.4,662.0 958.2,672.7" fill="url(#spk)"/><polygon points="964.2,672.8 965.0,665.1 965.6,665.1 966.4,672.8" fill="url(#spk)"/><polygon points="932.4,672.8 933.2,664.7 933.8,664.7 934.6,672.8" fill="url(#spk)"/><polygon points="950.5,673.5 951.3,667.4 951.9,667.4 952.7,673.5" fill="url(#spk)"/><polygon points="951.3,673.6 952.1,660.0 952.7,660.0 953.5,673.6" fill="url(#spk)"/><polygon points="958.4,673.9 959.2,663.9 959.8,663.9 960.6,673.9" fill="url(#spk)"/><polygon points="942.2,674.1 943.0,661.9 943.6,661.9 944.4,674.1" fill="url(#spk)"/><polygon points="955.5,674.7 956.3,664.6 956.9,664.6 957.7,674.7" fill="url(#spk)"/><polygon points="858.0,645.1 881.2,635.3 884.2,658.5 892.8,670.4" fill="#3cb8a8"/><text x="848.4" y="639.3" font-family="DejaVu Sans,Liberation Sans,sans-serif" font-size="8.5" fill="#262626" text-anchor="end">205</text><text x="848.4" y="646.0" font-family="DejaVu Sans,Liberation Sans,sans-serif" font-size="8.5" fill="#262626" text-anchor="end">185</text><text x="856.8" y="662.6" font-family="DejaVu Sans,Liberation Sans,sans-serif" font-size="8.5" fill="#262626" text-anchor="end">6978550</text><text x="882.2" y="679.3" font-family="DejaVu Sans,Liberation Sans,sans-serif" font-size="8.5" fill="#262626" text-anchor="end">6978450</text><text x="907.7" y="696.1" font-family="DejaVu Sans,Liberation Sans,sans-serif" font-size="8.5" fill="#262626" text-anchor="end">6978350</text><text x="850.3" y="699.2" font-family="DejaVu Sans,Liberation Sans,sans-serif" font-size="8.5" fill="#262626" text-anchor="middle">N</text><text x="943.0" y="698.4" font-family="DejaVu Sans,Liberation Sans,sans-serif" font-size="8.5" fill="#262626" text-anchor="start">695350</text><text x="975.9" y="685.9" font-family="DejaVu Sans,Liberation Sans,sans-serif" font-size="8.5" fill="#262626" text-anchor="start">695450</text><text x="989.9" y="711.5" font-family="DejaVu Sans,Liberation Sans,sans-serif" font-size="8.5" fill="#262626" text-anchor="middle">E</text>
<text x="102" y="752.8000000000001" font-family="DejaVu Sans,Liberation Sans,sans-serif" font-size="8.8" font-weight="bold" fill="#000" text-anchor="middle">1983</text><line x1="41.5" y1="787.9" x2="120.4" y2="759.3" stroke="#dcdcdc" stroke-width="0.6"/><line x1="120.4" y1="759.3" x2="192.2" y2="805.0" stroke="#dcdcdc" stroke-width="0.6"/><line x1="41.5" y1="797.7" x2="120.4" y2="766.9" stroke="#dcdcdc" stroke-width="0.6"/><line x1="120.4" y1="766.9" x2="192.4" y2="814.1" stroke="#dcdcdc" stroke-width="0.6"/><line x1="120.4" y1="759.3" x2="120.4" y2="766.9" stroke="#dcdcdc" stroke-width="0.6"/><line x1="192.2" y1="805.0" x2="192.4" y2="814.1" stroke="#cfcfcf" stroke-width="0.6"/><line x1="130.3" y1="838.4" x2="58.0" y2="791.2" stroke="#e4e4e4" stroke-width="0.6"/><line x1="58.0" y1="791.2" x2="58.0" y2="781.4" stroke="#e4e4e4" stroke-width="0.6"/><line x1="163.3" y1="825.5" x2="91.0" y2="778.3" stroke="#e4e4e4" stroke-width="0.6"/><line x1="91.0" y1="778.3" x2="91.0" y2="768.5" stroke="#e4e4e4" stroke-width="0.6"/><line x1="53.8" y1="805.7" x2="132.4" y2="774.9" stroke="#e4e4e4" stroke-width="0.6"/><line x1="132.4" y1="774.9" x2="132.4" y2="765.8" stroke="#e4e4e4" stroke-width="0.6"/><line x1="79.1" y1="822.2" x2="157.7" y2="791.4" stroke="#e4e4e4" stroke-width="0.6"/><line x1="157.7" y1="791.4" x2="157.7" y2="782.3" stroke="#e4e4e4" stroke-width="0.6"/><line x1="104.4" y1="838.8" x2="183.0" y2="808.0" stroke="#e4e4e4" stroke-width="0.6"/><line x1="183.0" y1="808.0" x2="183.0" y2="798.9" stroke="#e4e4e4" stroke-width="0.6"/><line x1="41.5" y1="797.7" x2="113.8" y2="844.9" stroke="#b8b8b8" stroke-width="0.7"/><line x1="113.8" y1="844.9" x2="192.4" y2="814.1" stroke="#b8b8b8" stroke-width="0.7"/><line x1="41.5" y1="787.9" x2="41.5" y2="797.7" stroke="#999" stroke-width="0.7"/><line x1="41.5" y1="788.4" x2="44.0" y2="787.4" stroke="#999" stroke-width="0.6"/><line x1="41.5" y1="794.2" x2="44.0" y2="793.2" stroke="#999" stroke-width="0.6"/><g clip-path="url(#sc5)"><rect x="40" y="754.7" width="135" height="75" filter="url(#pf5)"/></g><text x="38.2" y="790.5" font-family="DejaVu Sans,Liberation Sans,sans-serif" font-size="8.5" fill="#262626" text-anchor="end">205</text><text x="38.2" y="797.2" font-family="DejaVu Sans,Liberation Sans,sans-serif" font-size="8.5" fill="#262626" text-anchor="end">185</text><text x="46.6" y="813.8" font-family="DejaVu Sans,Liberation Sans,sans-serif" font-size="8.5" fill="#262626" text-anchor="end">6978550</text><text x="72.0" y="830.5" font-family="DejaVu Sans,Liberation Sans,sans-serif" font-size="8.5" fill="#262626" text-anchor="end">6978450</text><text x="97.5" y="847.3" font-family="DejaVu Sans,Liberation Sans,sans-serif" font-size="8.5" fill="#262626" text-anchor="end">6978350</text><text x="40.1" y="850.4" font-family="DejaVu Sans,Liberation Sans,sans-serif" font-size="8.5" fill="#262626" text-anchor="middle">N</text><text x="132.8" y="849.6" font-family="DejaVu Sans,Liberation Sans,sans-serif" font-size="8.5" fill="#262626" text-anchor="start">695350</text><text x="165.7" y="837.1" font-family="DejaVu Sans,Liberation Sans,sans-serif" font-size="8.5" fill="#262626" text-anchor="start">695450</text><text x="179.7" y="862.7" font-family="DejaVu Sans,Liberation Sans,sans-serif" font-size="8.5" fill="#262626" text-anchor="middle">E</text>
<text x="304.5" y="752.8000000000001" font-family="DejaVu Sans,Liberation Sans,sans-serif" font-size="8.8" font-weight="bold" fill="#000" text-anchor="middle">1991</text><line x1="244.0" y1="787.9" x2="322.9" y2="759.3" stroke="#dcdcdc" stroke-width="0.6"/><line x1="322.9" y1="759.3" x2="394.7" y2="805.0" stroke="#dcdcdc" stroke-width="0.6"/><line x1="244.0" y1="797.7" x2="322.9" y2="766.9" stroke="#dcdcdc" stroke-width="0.6"/><line x1="322.9" y1="766.9" x2="394.9" y2="814.1" stroke="#dcdcdc" stroke-width="0.6"/><line x1="322.9" y1="759.3" x2="322.9" y2="766.9" stroke="#dcdcdc" stroke-width="0.6"/><line x1="394.7" y1="805.0" x2="394.9" y2="814.1" stroke="#cfcfcf" stroke-width="0.6"/><line x1="332.8" y1="838.4" x2="260.5" y2="791.2" stroke="#e4e4e4" stroke-width="0.6"/><line x1="260.5" y1="791.2" x2="260.5" y2="781.4" stroke="#e4e4e4" stroke-width="0.6"/><line x1="365.8" y1="825.5" x2="293.5" y2="778.3" stroke="#e4e4e4" stroke-width="0.6"/><line x1="293.5" y1="778.3" x2="293.5" y2="768.5" stroke="#e4e4e4" stroke-width="0.6"/><line x1="256.3" y1="805.7" x2="334.9" y2="774.9" stroke="#e4e4e4" stroke-width="0.6"/><line x1="334.9" y1="774.9" x2="334.9" y2="765.8" stroke="#e4e4e4" stroke-width="0.6"/><line x1="281.6" y1="822.2" x2="360.2" y2="791.4" stroke="#e4e4e4" stroke-width="0.6"/><line x1="360.2" y1="791.4" x2="360.2" y2="782.3" stroke="#e4e4e4" stroke-width="0.6"/><line x1="306.9" y1="838.8" x2="385.5" y2="808.0" stroke="#e4e4e4" stroke-width="0.6"/><line x1="385.5" y1="808.0" x2="385.5" y2="798.9" stroke="#e4e4e4" stroke-width="0.6"/><line x1="244.0" y1="797.7" x2="316.3" y2="844.9" stroke="#b8b8b8" stroke-width="0.7"/><line x1="316.3" y1="844.9" x2="394.9" y2="814.1" stroke="#b8b8b8" stroke-width="0.7"/><line x1="244.0" y1="787.9" x2="244.0" y2="797.7" stroke="#999" stroke-width="0.7"/><line x1="244.0" y1="788.4" x2="246.5" y2="787.4" stroke="#999" stroke-width="0.6"/><line x1="244.0" y1="794.2" x2="246.5" y2="793.2" stroke="#999" stroke-width="0.6"/><g clip-path="url(#sc6)"><rect x="242.5" y="754.7" width="135" height="75" filter="url(#pf6)"/></g><text x="240.7" y="790.5" font-family="DejaVu Sans,Liberation Sans,sans-serif" font-size="8.5" fill="#262626" text-anchor="end">205</text><text x="240.7" y="797.2" font-family="DejaVu Sans,Liberation Sans,sans-serif" font-size="8.5" fill="#262626" text-anchor="end">185</text><text x="249.1" y="813.8" font-family="DejaVu Sans,Liberation Sans,sans-serif" font-size="8.5" fill="#262626" text-anchor="end">6978550</text><text x="274.5" y="830.5" font-family="DejaVu Sans,Liberation Sans,sans-serif" font-size="8.5" fill="#262626" text-anchor="end">6978450</text><text x="300.0" y="847.3" font-family="DejaVu Sans,Liberation Sans,sans-serif" font-size="8.5" fill="#262626" text-anchor="end">6978350</text><text x="242.6" y="850.4" font-family="DejaVu Sans,Liberation Sans,sans-serif" font-size="8.5" fill="#262626" text-anchor="middle">N</text><text x="335.3" y="849.6" font-family="DejaVu Sans,Liberation Sans,sans-serif" font-size="8.5" fill="#262626" text-anchor="start">695350</text><text x="368.2" y="837.1" font-family="DejaVu Sans,Liberation Sans,sans-serif" font-size="8.5" fill="#262626" text-anchor="start">695450</text><text x="382.2" y="862.7" font-family="DejaVu Sans,Liberation Sans,sans-serif" font-size="8.5" fill="#262626" text-anchor="middle">E</text>
<text x="507" y="752.8000000000001" font-family="DejaVu Sans,Liberation Sans,sans-serif" font-size="8.8" font-weight="bold" fill="#000" text-anchor="middle">2003</text><line x1="446.5" y1="787.9" x2="525.4" y2="759.3" stroke="#dcdcdc" stroke-width="0.6"/><line x1="525.4" y1="759.3" x2="597.2" y2="805.0" stroke="#dcdcdc" stroke-width="0.6"/><line x1="446.5" y1="797.7" x2="525.4" y2="766.9" stroke="#dcdcdc" stroke-width="0.6"/><line x1="525.4" y1="766.9" x2="597.4" y2="814.1" stroke="#dcdcdc" stroke-width="0.6"/><line x1="525.4" y1="759.3" x2="525.4" y2="766.9" stroke="#dcdcdc" stroke-width="0.6"/><line x1="597.2" y1="805.0" x2="597.4" y2="814.1" stroke="#cfcfcf" stroke-width="0.6"/><line x1="535.3" y1="838.4" x2="463.0" y2="791.2" stroke="#e4e4e4" stroke-width="0.6"/><line x1="463.0" y1="791.2" x2="463.0" y2="781.4" stroke="#e4e4e4" stroke-width="0.6"/><line x1="568.3" y1="825.5" x2="496.0" y2="778.3" stroke="#e4e4e4" stroke-width="0.6"/><line x1="496.0" y1="778.3" x2="496.0" y2="768.5" stroke="#e4e4e4" stroke-width="0.6"/><line x1="458.8" y1="805.7" x2="537.4" y2="774.9" stroke="#e4e4e4" stroke-width="0.6"/><line x1="537.4" y1="774.9" x2="537.4" y2="765.8" stroke="#e4e4e4" stroke-width="0.6"/><line x1="484.1" y1="822.2" x2="562.7" y2="791.4" stroke="#e4e4e4" stroke-width="0.6"/><line x1="562.7" y1="791.4" x2="562.7" y2="782.3" stroke="#e4e4e4" stroke-width="0.6"/><line x1="509.4" y1="838.8" x2="588.0" y2="808.0" stroke="#e4e4e4" stroke-width="0.6"/><line x1="588.0" y1="808.0" x2="588.0" y2="798.9" stroke="#e4e4e4" stroke-width="0.6"/><line x1="446.5" y1="797.7" x2="518.8" y2="844.9" stroke="#b8b8b8" stroke-width="0.7"/><line x1="518.8" y1="844.9" x2="597.4" y2="814.1" stroke="#b8b8b8" stroke-width="0.7"/><line x1="446.5" y1="787.9" x2="446.5" y2="797.7" stroke="#999" stroke-width="0.7"/><line x1="446.5" y1="788.4" x2="449.0" y2="787.4" stroke="#999" stroke-width="0.6"/><line x1="446.5" y1="794.2" x2="449.0" y2="793.2" stroke="#999" stroke-width="0.6"/><g clip-path="url(#sc7)"><rect x="445" y="754.7" width="135" height="75" filter="url(#pf7)"/></g><ellipse cx="507.4" cy="774.4" rx="1.8" ry="3.0" fill="url(#blb)" fill-opacity="0.95"/><ellipse cx="503.4" cy="777.5" rx="3.0" ry="5.5" fill="url(#blb)" fill-opacity="0.95"/><ellipse cx="537.9" cy="781.5" rx="2.2" ry="3.2" fill="url(#blb)" fill-opacity="0.95"/><ellipse cx="507.8" cy="780.6" rx="3.1" ry="5.9" fill="url(#blb)" fill-opacity="0.95"/><ellipse cx="505.4" cy="781.6" rx="2.8" ry="4.8" fill="url(#blb)" fill-opacity="0.95"/><ellipse cx="485.1" cy="785.1" rx="1.8" ry="2.9" fill="url(#blb)" fill-opacity="0.95"/><ellipse cx="532.6" cy="788.0" rx="2.1" ry="3.6" fill="url(#blb)" fill-opacity="0.95"/><ellipse cx="522.3" cy="788.0" rx="2.1" ry="3.7" fill="url(#blb)" fill-opacity="0.95"/><ellipse cx="491.0" cy="787.6" rx="2.4" ry="4.8" fill="url(#blb)" fill-opacity="0.95"/><ellipse cx="529.0" cy="791.7" rx="2.1" ry="2.9" fill="url(#blb)" fill-opacity="0.95"/><ellipse cx="499.6" cy="792.5" rx="1.9" ry="2.8" fill="url(#blb)" fill-opacity="0.95"/><ellipse cx="473.0" cy="792.5" rx="2.8" ry="4.9" fill="url(#blb)" fill-opacity="0.95"/><ellipse cx="538.7" cy="793.5" rx="2.6" ry="4.9" fill="url(#blb)" fill-opacity="0.95"/><ellipse cx="536.0" cy="794.4" rx="2.9" ry="4.3" fill="url(#blb)" fill-opacity="0.95"/><ellipse cx="544.4" cy="795.8" rx="1.9" ry="3.7" fill="url(#blb)" fill-opacity="0.95"/><ellipse cx="569.5" cy="797.8" rx="2.9" ry="4.8" fill="url(#blb)" fill-opacity="0.95"/><ellipse cx="554.2" cy="797.7" rx="2.9" ry="5.2" fill="url(#blb)" fill-opacity="0.95"/><ellipse cx="515.6" cy="799.2" rx="1.8" ry="2.9" fill="url(#blb)" fill-opacity="0.95"/><ellipse cx="529.1" cy="799.3" rx="3.0" ry="5.7" fill="url(#blb)" fill-opacity="0.95"/><ellipse cx="487.8" cy="800.3" rx="2.8" ry="4.5" fill="url(#blb)" fill-opacity="0.95"/><ellipse cx="486.2" cy="800.3" rx="3.2" ry="5.5" fill="url(#blb)" fill-opacity="0.95"/><ellipse cx="523.1" cy="800.4" rx="3.4" ry="6.7" fill="url(#blb)" fill-opacity="0.95"/><ellipse cx="501.2" cy="802.7" rx="3.2" ry="4.9" fill="url(#blb)" fill-opacity="0.95"/><ellipse cx="558.4" cy="802.8" rx="3.3" ry="5.2" fill="url(#blb)" fill-opacity="0.95"/><ellipse cx="510.4" cy="804.1" rx="2.0" ry="3.4" fill="url(#blb)" fill-opacity="0.95"/><ellipse cx="554.4" cy="804.2" rx="2.8" ry="4.4" fill="url(#blb)" fill-opacity="0.95"/><ellipse cx="560.5" cy="805.2" rx="3.4" ry="4.8" fill="url(#blb)" fill-opacity="0.95"/><ellipse cx="485.2" cy="805.1" rx="3.1" ry="5.7" fill="url(#blb)" fill-opacity="0.95"/><ellipse cx="481.9" cy="807.7" rx="3.0" ry="5.0" fill="url(#blb)" fill-opacity="0.95"/><ellipse cx="500.7" cy="807.8" rx="3.2" ry="5.1" fill="url(#blb)" fill-opacity="0.95"/><ellipse cx="491.4" cy="808.1" rx="2.5" ry="4.7" fill="url(#blb)" fill-opacity="0.95"/><ellipse cx="487.0" cy="809.2" rx="3.2" ry="4.5" fill="url(#blb)" fill-opacity="0.95"/><ellipse cx="486.0" cy="808.8" rx="2.7" ry="5.2" fill="url(#blb)" fill-opacity="0.95"/><ellipse cx="553.0" cy="810.8" rx="2.2" ry="3.2" fill="url(#blb)" fill-opacity="0.95"/><ellipse cx="562.1" cy="812.7" rx="2.7" ry="5.1" fill="url(#blb)" fill-opacity="0.95"/><ellipse cx="567.4" cy="814.0" rx="2.0" ry="3.7" fill="url(#blb)" fill-opacity="0.95"/><ellipse cx="491.7" cy="815.1" rx="1.9" ry="3.7" fill="url(#blb)" fill-opacity="0.95"/><ellipse cx="549.1" cy="815.8" rx="1.8" ry="2.6" fill="url(#blb)" fill-opacity="0.95"/><ellipse cx="540.5" cy="814.8" rx="3.1" ry="5.1" fill="url(#blb)" fill-opacity="0.95"/><ellipse cx="503.5" cy="816.6" rx="1.7" ry="2.7" fill="url(#blb)" fill-opacity="0.95"/><ellipse cx="550.6" cy="814.7" rx="3.2" ry="6.1" fill="url(#blb)" fill-opacity="0.95"/><ellipse cx="500.0" cy="817.0" rx="2.2" ry="3.1" fill="url(#blb)" fill-opacity="0.95"/><ellipse cx="530.5" cy="816.5" rx="2.8" ry="4.2" fill="url(#blb)" fill-opacity="0.95"/><ellipse cx="564.8" cy="816.1" rx="2.9" ry="4.9" fill="url(#blb)" fill-opacity="0.95"/><ellipse cx="553.2" cy="818.6" rx="3.2" ry="4.6" fill="url(#blb)" fill-opacity="0.95"/><ellipse cx="524.7" cy="819.0" rx="3.2" ry="4.6" fill="url(#blb)" fill-opacity="0.95"/><ellipse cx="523.9" cy="819.2" rx="2.7" ry="4.4" fill="url(#blb)" fill-opacity="0.95"/><ellipse cx="516.4" cy="819.6" rx="2.6" ry="4.0" fill="url(#blb)" fill-opacity="0.95"/><text x="443.2" y="790.5" font-family="DejaVu Sans,Liberation Sans,sans-serif" font-size="8.5" fill="#262626" text-anchor="end">205</text><text x="443.2" y="797.2" font-family="DejaVu Sans,Liberation Sans,sans-serif" font-size="8.5" fill="#262626" text-anchor="end">185</text><text x="451.6" y="813.8" font-family="DejaVu Sans,Liberation Sans,sans-serif" font-size="8.5" fill="#262626" text-anchor="end">6978550</text><text x="477.0" y="830.5" font-family="DejaVu Sans,Liberation Sans,sans-serif" font-size="8.5" fill="#262626" text-anchor="end">6978450</text><text x="502.5" y="847.3" font-family="DejaVu Sans,Liberation Sans,sans-serif" font-size="8.5" fill="#262626" text-anchor="end">6978350</text><text x="445.1" y="850.4" font-family="DejaVu Sans,Liberation Sans,sans-serif" font-size="8.5" fill="#262626" text-anchor="middle">N</text><text x="537.8" y="849.6" font-family="DejaVu Sans,Liberation Sans,sans-serif" font-size="8.5" fill="#262626" text-anchor="start">695350</text><text x="570.7" y="837.1" font-family="DejaVu Sans,Liberation Sans,sans-serif" font-size="8.5" fill="#262626" text-anchor="start">695450</text><text x="584.7" y="862.7" font-family="DejaVu Sans,Liberation Sans,sans-serif" font-size="8.5" fill="#262626" text-anchor="middle">E</text>
<text x="709.6" y="752.8000000000001" font-family="DejaVu Sans,Liberation Sans,sans-serif" font-size="8.8" font-weight="bold" fill="#000" text-anchor="middle">2012</text><line x1="649.1" y1="787.9" x2="728.0" y2="759.3" stroke="#dcdcdc" stroke-width="0.6"/><line x1="728.0" y1="759.3" x2="799.8" y2="805.0" stroke="#dcdcdc" stroke-width="0.6"/><line x1="649.1" y1="797.7" x2="728.0" y2="766.9" stroke="#dcdcdc" stroke-width="0.6"/><line x1="728.0" y1="766.9" x2="800.0" y2="814.1" stroke="#dcdcdc" stroke-width="0.6"/><line x1="728.0" y1="759.3" x2="728.0" y2="766.9" stroke="#dcdcdc" stroke-width="0.6"/><line x1="799.8" y1="805.0" x2="800.0" y2="814.1" stroke="#cfcfcf" stroke-width="0.6"/><line x1="737.9" y1="838.4" x2="665.6" y2="791.2" stroke="#e4e4e4" stroke-width="0.6"/><line x1="665.6" y1="791.2" x2="665.6" y2="781.4" stroke="#e4e4e4" stroke-width="0.6"/><line x1="770.9" y1="825.5" x2="698.6" y2="778.3" stroke="#e4e4e4" stroke-width="0.6"/><line x1="698.6" y1="778.3" x2="698.6" y2="768.5" stroke="#e4e4e4" stroke-width="0.6"/><line x1="661.4" y1="805.7" x2="740.0" y2="774.9" stroke="#e4e4e4" stroke-width="0.6"/><line x1="740.0" y1="774.9" x2="740.0" y2="765.8" stroke="#e4e4e4" stroke-width="0.6"/><line x1="686.7" y1="822.2" x2="765.3" y2="791.4" stroke="#e4e4e4" stroke-width="0.6"/><line x1="765.3" y1="791.4" x2="765.3" y2="782.3" stroke="#e4e4e4" stroke-width="0.6"/><line x1="712.0" y1="838.8" x2="790.6" y2="808.0" stroke="#e4e4e4" stroke-width="0.6"/><line x1="790.6" y1="808.0" x2="790.6" y2="798.9" stroke="#e4e4e4" stroke-width="0.6"/><line x1="649.1" y1="797.7" x2="721.4" y2="844.9" stroke="#b8b8b8" stroke-width="0.7"/><line x1="721.4" y1="844.9" x2="800.0" y2="814.1" stroke="#b8b8b8" stroke-width="0.7"/><line x1="649.1" y1="787.9" x2="649.1" y2="797.7" stroke="#999" stroke-width="0.7"/><line x1="649.1" y1="788.4" x2="651.6" y2="787.4" stroke="#999" stroke-width="0.6"/><line x1="649.1" y1="794.2" x2="651.6" y2="793.2" stroke="#999" stroke-width="0.6"/><g clip-path="url(#sc8)"><rect x="647.6" y="754.7" width="135" height="75" filter="url(#pf8)"/></g><g clip-path="url(#sc8)"><rect x="647.6" y="754.7" width="135" height="75" fill="url(#tint)"/></g><text x="645.8" y="790.5" font-family="DejaVu Sans,Liberation Sans,sans-serif" font-size="8.5" fill="#262626" text-anchor="end">205</text><text x="645.8" y="797.2" font-family="DejaVu Sans,Liberation Sans,sans-serif" font-size="8.5" fill="#262626" text-anchor="end">185</text><text x="654.2" y="813.8" font-family="DejaVu Sans,Liberation Sans,sans-serif" font-size="8.5" fill="#262626" text-anchor="end">6978550</text><text x="679.6" y="830.5" font-family="DejaVu Sans,Liberation Sans,sans-serif" font-size="8.5" fill="#262626" text-anchor="end">6978450</text><text x="705.1" y="847.3" font-family="DejaVu Sans,Liberation Sans,sans-serif" font-size="8.5" fill="#262626" text-anchor="end">6978350</text><text x="647.7" y="850.4" font-family="DejaVu Sans,Liberation Sans,sans-serif" font-size="8.5" fill="#262626" text-anchor="middle">N</text><text x="740.4" y="849.6" font-family="DejaVu Sans,Liberation Sans,sans-serif" font-size="8.5" fill="#262626" text-anchor="start">695350</text><text x="773.3" y="837.1" font-family="DejaVu Sans,Liberation Sans,sans-serif" font-size="8.5" fill="#262626" text-anchor="start">695450</text><text x="787.3" y="862.7" font-family="DejaVu Sans,Liberation Sans,sans-serif" font-size="8.5" fill="#262626" text-anchor="middle">E</text>
<text x="912.2" y="752.8000000000001" font-family="DejaVu Sans,Liberation Sans,sans-serif" font-size="8.8" font-weight="bold" fill="#000" text-anchor="middle">ALS DTM</text><line x1="851.7" y1="787.9" x2="930.6" y2="759.3" stroke="#dcdcdc" stroke-width="0.6"/><line x1="930.6" y1="759.3" x2="1002.4" y2="805.0" stroke="#dcdcdc" stroke-width="0.6"/><line x1="851.7" y1="797.7" x2="930.6" y2="766.9" stroke="#dcdcdc" stroke-width="0.6"/><line x1="930.6" y1="766.9" x2="1002.6" y2="814.1" stroke="#dcdcdc" stroke-width="0.6"/><line x1="930.6" y1="759.3" x2="930.6" y2="766.9" stroke="#dcdcdc" stroke-width="0.6"/><line x1="1002.4" y1="805.0" x2="1002.6" y2="814.1" stroke="#cfcfcf" stroke-width="0.6"/><line x1="940.5" y1="838.4" x2="868.2" y2="791.2" stroke="#e4e4e4" stroke-width="0.6"/><line x1="868.2" y1="791.2" x2="868.2" y2="781.4" stroke="#e4e4e4" stroke-width="0.6"/><line x1="973.5" y1="825.5" x2="901.2" y2="778.3" stroke="#e4e4e4" stroke-width="0.6"/><line x1="901.2" y1="778.3" x2="901.2" y2="768.5" stroke="#e4e4e4" stroke-width="0.6"/><line x1="864.0" y1="805.7" x2="942.6" y2="774.9" stroke="#e4e4e4" stroke-width="0.6"/><line x1="942.6" y1="774.9" x2="942.6" y2="765.8" stroke="#e4e4e4" stroke-width="0.6"/><line x1="889.3" y1="822.2" x2="967.9" y2="791.4" stroke="#e4e4e4" stroke-width="0.6"/><line x1="967.9" y1="791.4" x2="967.9" y2="782.3" stroke="#e4e4e4" stroke-width="0.6"/><line x1="914.6" y1="838.8" x2="993.2" y2="808.0" stroke="#e4e4e4" stroke-width="0.6"/><line x1="993.2" y1="808.0" x2="993.2" y2="798.9" stroke="#e4e4e4" stroke-width="0.6"/><line x1="851.7" y1="797.7" x2="924.0" y2="844.9" stroke="#b8b8b8" stroke-width="0.7"/><line x1="924.0" y1="844.9" x2="1002.6" y2="814.1" stroke="#b8b8b8" stroke-width="0.7"/><line x1="851.7" y1="787.9" x2="851.7" y2="797.7" stroke="#999" stroke-width="0.7"/><line x1="851.7" y1="788.4" x2="854.2" y2="787.4" stroke="#999" stroke-width="0.6"/><line x1="851.7" y1="794.2" x2="854.2" y2="793.2" stroke="#999" stroke-width="0.6"/><g clip-path="url(#sc9)"><rect x="850.2" y="754.7" width="135" height="75" filter="url(#pf9)"/></g><g clip-path="url(#sc9)"><rect x="850.2" y="754.7" width="135" height="75" fill="url(#tint)"/></g><text x="848.4" y="790.5" font-family="DejaVu Sans,Liberation Sans,sans-serif" font-size="8.5" fill="#262626" text-anchor="end">205</text><text x="848.4" y="797.2" font-family="DejaVu Sans,Liberation Sans,sans-serif" font-size="8.5" fill="#262626" text-anchor="end">185</text><text x="856.8" y="813.8" font-family="DejaVu Sans,Liberation Sans,sans-serif" font-size="8.5" fill="#262626" text-anchor="end">6978550</text><text x="882.2" y="830.5" font-family="DejaVu Sans,Liberation Sans,sans-serif" font-size="8.5" fill="#262626" text-anchor="end">6978450</text><text x="907.7" y="847.3" font-family="DejaVu Sans,Liberation Sans,sans-serif" font-size="8.5" fill="#262626" text-anchor="end">6978350</text><text x="850.3" y="850.4" font-family="DejaVu Sans,Liberation Sans,sans-serif" font-size="8.5" fill="#262626" text-anchor="middle">N</text><text x="943.0" y="849.6" font-family="DejaVu Sans,Liberation Sans,sans-serif" font-size="8.5" fill="#262626" text-anchor="start">695350</text><text x="975.9" y="837.1" font-family="DejaVu Sans,Liberation Sans,sans-serif" font-size="8.5" fill="#262626" text-anchor="start">695450</text><text x="989.9" y="862.7" font-family="DejaVu Sans,Liberation Sans,sans-serif" font-size="8.5" fill="#262626" text-anchor="middle">E</text>
<g clip-path="url(#chclip)"><polyline points="129.6,1093.9 139.3,1094.8 149.1,1094.8 158.8,1095.3 168.6,1095.7 178.3,1096.5 188.1,1096.0 197.8,1095.3 207.6,1094.2 217.3,1093.3 227.1,1092.5 236.8,1092.6 246.6,1093.5 256.4,1094.4 266.1,1095.2 275.9,1096.3 285.6,1097.8 295.4,1099.4 305.1,1101.4 314.9,1103.4 324.6,1106.5 334.4,1106.5 344.1,1107.4 353.9,1108.3 363.6,1110.1 373.4,1111.9 383.1,1113.6 392.9,1115.4 402.6,1116.3 412.4,1117.2 422.1,1118.6 431.9,1119.9 441.6,1119.9 451.4,1117.2 461.1,1116.3 470.9,1115.8 480.6,1115.4 490.4,1116.3 500.1,1119.9 509.9,1123.4 519.6,1126.7 529.4,1127.0 539.1,1124.3 548.9,1121.7 558.6,1119.0 568.4,1117.2 578.1,1116.3 587.9,1115.4 597.6,1114.5 607.4,1112.8 617.1,1111.9 626.9,1111.0 636.6,1109.2 646.4,1107.4 656.1,1105.6 665.9,1103.0 675.6,1099.4 685.4,1100.3 695.1,1103.0 704.9,1104.7 714.6,1103.9 724.4,1101.2 734.1,1100.3 743.9,1099.4 753.6,1099.4 763.4,1099.6 773.1,1100.5 782.9,1101.7 792.6,1103.5 802.4,1105.3 812.1,1107.4 821.9,1109.2 831.6,1110.1 841.4,1111.0 851.1,1113.6" fill="none" stroke="#0000ff" stroke-width="2.0" stroke-linejoin="miter" stroke-miterlimit="3"/><polyline points="129.6,1101.9 139.3,1101.9 149.1,1102.4 158.8,1110.8 168.6,1128.6 178.3,1112.6 188.1,1032.4 197.8,1005.7 207.6,1036.9 217.3,1076.1 227.1,1093.0 236.8,1097.4 246.6,1105.5 256.4,1101.0 266.1,1097.4 275.9,1096.5 285.6,1093.9 295.4,1097.4 305.1,1101.9 314.9,1101.0 324.6,1104.6 334.4,1105.5 344.1,1105.5 353.9,1106.3 363.6,1107.2 373.4,1111.7 383.1,1115.3 392.9,1116.1 402.6,1116.1 412.4,1115.3 422.1,1112.6 431.9,1110.8 441.6,1114.4 451.4,1117.9 461.1,1121.5 470.9,1116.1 480.6,1108.1 490.4,1115.3 500.1,1119.7 509.9,1122.4 519.6,1126.8 529.4,1126.8 539.1,1124.2 548.9,1122.4 558.6,1118.8 568.4,1081.4 578.1,1031.5 587.9,1015.5 597.6,1036.9 607.4,1068.9 617.1,1101.9 626.9,1109.9 636.6,1108.1 646.4,1105.5 656.1,1101.9 665.9,1100.1 675.6,1102.8 685.4,1109.9 695.1,1107.2 704.9,1098.3 714.6,1100.1 724.4,1101.0 734.1,1105.5 743.9,1101.0 753.6,1101.0 763.4,1101.0 773.1,1101.0 782.9,1100.1 792.6,1056.5 802.4,1103.7 812.1,1106.3 821.9,1108.1 831.6,1107.2 841.4,1106.3 851.1,1109.9" fill="none" stroke="#ff8040" stroke-width="1.6" stroke-linejoin="miter" stroke-miterlimit="3"/><polyline points="129.6,970.1 139.3,982.5 149.1,977.7 158.8,956.7 168.6,952.3 178.3,951.4 188.1,962.1 197.8,977.2 207.6,977.2 217.3,963.8 227.1,951.0 236.8,952.3 246.6,958.5 256.4,965.6 266.1,959.4 275.9,952.8 285.6,941.0 295.4,952.8 305.1,953.2 314.9,953.2 324.6,950.5 334.4,940.7 344.1,932.7 353.9,946.9 363.6,957.6 373.4,965.6 383.1,978.1 392.9,984.3 402.6,981.7 412.4,973.6 422.1,991.5 431.9,1002.1 441.6,996.8 451.4,993.8 461.1,996.8 470.9,960.3 480.6,950.0 490.4,969.2 500.1,991.5 509.9,961.7 519.6,1000.9 529.4,995.0 539.1,996.8 548.9,978.1 558.6,971.9 568.4,971.9 578.1,967.8 587.9,950.5 597.6,947.3 607.4,948.2 617.1,951.7 626.9,957.1 636.6,954.6 646.4,950.0 656.1,956.4 665.9,952.3 675.6,947.3 685.4,946.4 695.1,952.8 704.9,956.7 714.6,967.4 724.4,983.1 734.1,980.4 743.9,968.8 753.6,966.9 763.4,979.9 773.1,971.3 782.9,975.6 792.6,976.5 802.4,975.1 812.1,981.7 821.9,987.0 831.6,988.8 841.4,984.3 851.1,980.8" fill="none" stroke="#22dd22" stroke-width="1.8" stroke-linejoin="miter" stroke-miterlimit="3"/><polyline points="129.6,1081.4 139.3,1034.2 149.1,1032.4 158.8,1046.7 168.6,1024.4 178.3,1048.5 188.1,1091.2 197.8,1078.7 207.6,1042.2 217.3,1005.7 227.1,1009.3 236.8,1071.6 246.6,1069.8 256.4,1031.9 266.1,1052.9 275.9,1079.6 285.6,1047.6 295.4,1013.7 305.1,1008.0 314.9,1056.5 324.6,1105.5 334.4,1106.3 344.1,1101.9 353.9,1095.7 363.6,1100.1 373.4,1088.5 383.1,1030.6 392.9,1020.8 402.6,1020.8 412.4,1022.6 422.1,1017.3 431.9,1047.6 441.6,1097.4 451.4,1107.2 461.1,1097.4 470.9,1040.4 480.6,995.9 490.4,986.1 500.1,1023.5 509.9,1099.2 519.6,1123.3 529.4,1121.5 539.1,1114.4 548.9,1107.2 558.6,1011.9 568.4,1010.2 578.1,995.9 587.9,983.4 597.6,980.8 607.4,995.9 617.1,984.3 626.9,980.8 636.6,1004.8 646.4,1014.6 656.1,993.2 665.9,985.2 675.6,977.2 685.4,1010.2 695.1,1015.5 704.9,1056.5 714.6,1048.5 724.4,1031.5 734.1,1027.1 743.9,1022.6 753.6,1000.4 763.4,991.5 773.1,1011.9 782.9,986.6 792.6,992.3 802.4,1004.8 812.1,993.2 821.9,998.0 831.6,998.2 841.4,1003.0 851.1,997.7" fill="none" stroke="#6e1e8e" stroke-width="1.8" stroke-linejoin="miter" stroke-miterlimit="3"/><polyline points="129.6,1036.9 139.3,1081.4 149.1,1027.6 158.8,1028.3 168.6,1079.6 178.3,1093.0 188.1,1091.2 197.8,1092.1 207.6,1086.8 217.3,1077.0 227.1,1087.1 236.8,1091.2 246.6,1093.9 256.4,1096.5 266.1,1086.8 275.9,1070.7 285.6,1038.7 295.4,1002.1 305.1,1008.4 314.9,1047.6 324.6,978.1 334.4,1040.4 344.1,1103.7 353.9,1105.5 363.6,1081.4 373.4,1074.3 383.1,1085.0 392.9,1113.5 402.6,1115.3 412.4,1068.9 422.1,1051.1 431.9,1067.2 441.6,1115.3 451.4,1118.8 461.1,1118.8 470.9,1119.7 480.6,1124.2 490.4,1072.5 500.1,1024.4 509.9,1068.9 519.6,1095.7 529.4,1129.5 539.1,1124.2 548.9,1121.5 558.6,1117.9 568.4,1113.5 578.1,1109.9 587.9,1113.5 597.6,1127.7 607.4,1114.4 617.1,1095.7 626.9,1088.5 636.6,1093.9 646.4,1103.7 656.1,1093.0 665.9,1075.2 675.6,1061.8 685.4,1052.0 695.1,1067.2 704.9,1093.9 714.6,1097.8 724.4,1092.1 734.1,1080.5 743.9,1029.8 753.6,1010.2 763.4,990.0 773.1,989.1 782.9,992.3 792.6,978.5 802.4,965.6 812.1,995.9 821.9,1023.5 831.6,1029.8 841.4,1024.1 851.1,1041.3" fill="none" stroke="#eeee00" stroke-width="1.9" stroke-linejoin="miter" stroke-miterlimit="3"/><polyline points="129.6,1095.7 139.3,1086.8 149.1,1072.5 158.8,1036.9 168.6,1034.2 178.3,1081.4 188.1,1101.9 197.8,1092.1 207.6,1086.8 217.3,1079.6 227.1,1082.3 236.8,1077.0 246.6,1087.6 256.4,1101.9 266.1,1105.5 275.9,1101.0 285.6,1085.0 295.4,1054.7 305.1,1017.3 314.9,1005.7 324.6,1034.2 334.4,1026.2 344.1,1012.8 353.9,1011.0 363.6,1024.4 373.4,1070.7 383.1,1103.7 392.9,1109.9 402.6,1112.6 412.4,1078.7 422.1,1085.3 431.9,1108.1 441.6,1116.1 451.4,1117.0 461.1,1100.1 470.9,1077.8 480.6,1046.7 490.4,1036.0 500.1,1043.1 509.9,1110.8 519.6,1122.4 529.4,1131.3 539.1,1134.8 548.9,1129.5 558.6,1070.7 568.4,1086.8 578.1,1112.6 587.9,1086.8 597.6,1057.4 607.4,1035.1 617.1,1012.8 626.9,1015.5 636.6,1036.9 646.4,1083.2 656.1,1082.3 665.9,1060.0 675.6,1045.8 685.4,1026.2 695.1,1017.3 704.9,1086.8 714.6,1087.6 724.4,1076.1 734.1,1055.6 743.9,1056.5 753.6,1065.7 763.4,1061.3 773.1,1052.0 782.9,1049.3 792.6,1072.5 802.4,1093.0 812.1,1110.3 821.9,1089.4 831.6,1076.1 841.4,1058.3 851.1,1062.7" fill="none" stroke="#3cbcee" stroke-width="1.9" stroke-linejoin="miter" stroke-miterlimit="3"/><polyline points="129.6,1075.2 139.3,1069.8 149.1,1082.3 158.8,1088.5 168.6,1081.4 178.3,1074.3 188.1,1083.2 197.8,1091.2 207.6,1093.0 217.3,1093.0 227.1,1105.5 236.8,1092.1 246.6,1085.9 256.4,1088.5 266.1,1089.4 275.9,1077.8 285.6,1071.6 295.4,1077.8 305.1,1063.6 314.9,1060.4 324.6,1072.5 334.4,1068.0 344.1,1069.8 353.9,1070.7 363.6,1083.2 373.4,1084.1 383.1,1080.5 392.9,1082.3 402.6,1093.0 412.4,1078.7 422.1,1060.9 431.9,1077.0 441.6,1083.2 451.4,1081.4 461.1,1083.2 470.9,1085.9 480.6,1068.9 490.4,1054.7 500.1,1099.2 509.9,1108.1 519.6,1115.3 529.4,1119.7 539.1,1106.3 548.9,1106.3 558.6,1097.4 568.4,1082.3 578.1,1079.6 587.9,1089.4 597.6,1085.0 607.4,1058.3 617.1,1030.6 626.9,1003.9 636.6,1041.3 646.4,1078.7 656.1,1072.5 665.9,1066.3 675.6,1077.8 685.4,1101.0 695.1,1111.7 704.9,1098.3 714.6,1098.3 724.4,1116.7 734.1,1110.8 743.9,1101.9 753.6,1093.9 763.4,1090.8 773.1,1096.5 782.9,1096.5 792.6,1091.2 802.4,1093.9 812.1,1081.9 821.9,1072.5 831.6,1057.4 841.4,1049.0 851.1,1066.3" fill="none" stroke="#ff1530" stroke-width="1.7" stroke-linejoin="miter" stroke-miterlimit="3"/><polyline points="129.6,1094.8 139.3,1097.4 149.1,1073.4 158.8,1076.1 168.6,1101.9 178.3,1107.8 188.1,1107.6 197.8,1099.2 207.6,1087.6 217.3,1091.2 227.1,1101.0 236.8,1101.0 246.6,1100.1 256.4,1096.5 266.1,1065.4 275.9,1072.5 285.6,1085.9 295.4,1092.1 305.1,1091.2 314.9,1080.0 324.6,1083.2 334.4,1097.4 344.1,1078.7 353.9,1116.1 363.6,1112.6 373.4,1117.9 383.1,1123.3 392.9,1132.2 402.6,1128.6 412.4,1125.9 422.1,1132.2 431.9,1125.0 441.6,1120.6 451.4,1122.4 461.1,1120.6 470.9,1119.7 480.6,1118.8 490.4,1094.8 500.1,1124.2 509.9,1134.0 519.6,1138.8 529.4,1138.4 539.1,1131.3 548.9,1122.4 558.6,1119.7 568.4,1118.8 578.1,1118.8 587.9,1105.5 597.6,1095.7 607.4,1117.0 617.1,1117.9 626.9,1103.7 636.6,1106.3 646.4,1112.6 656.1,1097.4 665.9,1089.4 675.6,1081.4 685.4,1046.7 695.1,1054.7 704.9,1095.7 714.6,1096.5 724.4,1077.0 734.1,1100.1 743.9,1101.0 753.6,1100.1 763.4,1096.5 773.1,1107.8 782.9,1113.1 792.6,1109.9 802.4,1115.3 812.1,1114.4 821.9,1121.5 831.6,1118.8 841.4,1086.8 851.1,1045.8" fill="none" stroke="#808080" stroke-width="1.9" stroke-linejoin="miter" stroke-miterlimit="3"/><polyline points="129.6,1097.4 139.3,1097.4 149.1,1097.4 158.8,967.4 168.6,945.1 178.3,1090.3 188.1,1096.5 197.8,1095.7 207.6,1095.7 217.3,1094.8 227.1,1094.8 236.8,1095.3 246.6,1096.5 256.4,1077.8 266.1,1035.1 275.9,1098.3 285.6,1100.1 295.4,1101.9 305.1,1101.0 314.9,1091.2 324.6,1103.7 334.4,1107.2 344.1,1106.3 353.9,1108.1 363.6,1109.9 373.4,1107.2 383.1,1085.0 392.9,1116.1 402.6,1117.0 412.4,1117.9 422.1,1119.2 431.9,1120.6 441.6,1118.8 451.4,1117.9 461.1,1113.5 470.9,1108.1 480.6,1109.0 490.4,1116.1 500.1,1109.9 509.9,1120.6 519.6,1125.0 529.4,1125.0 539.1,1045.8 548.9,1054.7 558.6,1117.0 568.4,1044.0 578.1,970.1 587.9,1086.8 597.6,1113.5 607.4,1113.5 617.1,1112.0 626.9,1108.1 636.6,1098.3 646.4,1023.5 656.1,1093.9 665.9,1101.9 675.6,1100.1 685.4,1101.9 695.1,1101.9 704.9,992.3 714.6,1072.5 724.4,1101.0 734.1,1100.1 743.9,1099.2 753.6,1097.4 763.4,1060.9 773.1,1100.1 782.9,1101.9 792.6,1103.7 802.4,1105.5 812.1,1106.3 821.9,1104.6 831.6,1109.9 841.4,1110.8 851.1,1111.7" fill="none" stroke="#000" stroke-width="2.1" stroke-linejoin="miter" stroke-miterlimit="3" stroke-dasharray="5 1.9"/><polyline points="129.6,1097.4 139.3,1098.3 149.1,1098.3 158.8,1098.9 168.6,1099.2 178.3,1100.1 188.1,1099.6 197.8,1098.9 207.6,1097.8 217.3,1096.9 227.1,1096.0 236.8,1096.2 246.6,1097.1 256.4,1097.8 266.1,1098.3 275.9,1099.2 285.6,1100.5 295.4,1101.9 305.1,1103.7 314.9,1105.5 324.6,1108.1 334.4,1108.1 344.1,1109.0 353.9,1109.9 363.6,1111.7 373.4,1113.5 383.1,1115.3 392.9,1117.0 402.6,1117.9 412.4,1118.8 422.1,1120.2 431.9,1121.5 441.6,1121.5 451.4,1118.8 461.1,1117.9 470.9,1117.4 480.6,1117.0 490.4,1117.9 500.1,1121.5 509.9,1125.0 519.6,1128.3 529.4,1128.6 539.1,1125.9 548.9,1123.3 558.6,1120.6 568.4,1118.8 578.1,1117.9 587.9,1117.0 597.6,1116.1 607.4,1114.4 617.1,1113.5 626.9,1112.6 636.6,1110.8 646.4,1109.0 656.1,1107.2 665.9,1104.6 675.6,1101.0 685.4,1101.9 695.1,1104.6 704.9,1106.3 714.6,1105.5 724.4,1102.8 734.1,1101.9 743.9,1101.0 753.6,1101.0 763.4,1101.2 773.1,1102.1 782.9,1103.3 792.6,1105.1 802.4,1106.9 812.1,1109.0 821.9,1110.8 831.6,1111.7 841.4,1112.6 851.1,1115.3" fill="none" stroke="#000" stroke-width="2.3" stroke-linejoin="miter" stroke-miterlimit="3"/></g><rect x="129.6" y="933.2" width="722.0" height="206.79999999999995" fill="none" stroke="#000" stroke-width="1.9"/><line x1="129.6" y1="944.8" x2="137.79999999999998" y2="944.8" stroke="#000" stroke-width="1.8"/><line x1="851.6" y1="944.8" x2="843.4" y2="944.8" stroke="#000" stroke-width="1.8"/><text x="125.8" y="948.8" font-family="DejaVu Sans,Liberation Sans,sans-serif" font-size="11.2" fill="#222" text-anchor="end">205</text><line x1="129.6" y1="993.9" x2="137.79999999999998" y2="993.9" stroke="#000" stroke-width="1.8"/><line x1="851.6" y1="993.9" x2="843.4" y2="993.9" stroke="#000" stroke-width="1.8"/><text x="125.8" y="997.9" font-family="DejaVu Sans,Liberation Sans,sans-serif" font-size="11.2" fill="#222" text-anchor="end">200</text><line x1="129.6" y1="1043.0" x2="137.79999999999998" y2="1043.0" stroke="#000" stroke-width="1.8"/><line x1="851.6" y1="1043.0" x2="843.4" y2="1043.0" stroke="#000" stroke-width="1.8"/><text x="125.8" y="1047.0" font-family="DejaVu Sans,Liberation Sans,sans-serif" font-size="11.2" fill="#222" text-anchor="end">195</text><line x1="129.6" y1="1092.1" x2="137.79999999999998" y2="1092.1" stroke="#000" stroke-width="1.8"/><line x1="851.6" y1="1092.1" x2="843.4" y2="1092.1" stroke="#000" stroke-width="1.8"/><text x="125.8" y="1096.1" font-family="DejaVu Sans,Liberation Sans,sans-serif" font-size="11.2" fill="#222" text-anchor="end">190</text><line x1="180.2" y1="1140.0" x2="180.2" y2="1132.0" stroke="#000" stroke-width="1.8"/><line x1="180.2" y1="933.2" x2="180.2" y2="941.2" stroke="#000" stroke-width="1.8"/><text x="180.2" y="1154.0" font-family="DejaVu Sans,Liberation Sans,sans-serif" font-size="11.4" fill="#222" text-anchor="middle">695320</text><line x1="310.3" y1="1140.0" x2="310.3" y2="1132.0" stroke="#000" stroke-width="1.8"/><line x1="310.3" y1="933.2" x2="310.3" y2="941.2" stroke="#000" stroke-width="1.8"/><text x="310.3" y="1154.0" font-family="DejaVu Sans,Liberation Sans,sans-serif" font-size="11.4" fill="#222" text-anchor="middle">695360</text><line x1="440.3" y1="1140.0" x2="440.3" y2="1132.0" stroke="#000" stroke-width="1.8"/><line x1="440.3" y1="933.2" x2="440.3" y2="941.2" stroke="#000" stroke-width="1.8"/><text x="440.3" y="1154.0" font-family="DejaVu Sans,Liberation Sans,sans-serif" font-size="11.4" fill="#222" text-anchor="middle">695400</text><line x1="570.4" y1="1140.0" x2="570.4" y2="1132.0" stroke="#000" stroke-width="1.8"/><line x1="570.4" y1="933.2" x2="570.4" y2="941.2" stroke="#000" stroke-width="1.8"/><text x="570.4" y="1154.0" font-family="DejaVu Sans,Liberation Sans,sans-serif" font-size="11.4" fill="#222" text-anchor="middle">695440</text><line x1="700.4" y1="1140.0" x2="700.4" y2="1132.0" stroke="#000" stroke-width="1.8"/><line x1="700.4" y1="933.2" x2="700.4" y2="941.2" stroke="#000" stroke-width="1.8"/><text x="700.4" y="1154.0" font-family="DejaVu Sans,Liberation Sans,sans-serif" font-size="11.4" fill="#222" text-anchor="middle">695480</text><line x1="830.5" y1="1140.0" x2="830.5" y2="1132.0" stroke="#000" stroke-width="1.8"/><line x1="830.5" y1="933.2" x2="830.5" y2="941.2" stroke="#000" stroke-width="1.8"/><text x="830.5" y="1154.0" font-family="DejaVu Sans,Liberation Sans,sans-serif" font-size="11.4" fill="#222" text-anchor="middle">695520</text><line x1="861.9" y1="985.3" x2="884.8" y2="985.3" stroke="#0000ff" stroke-width="2.0"/><text x="885.7" y="989.4" font-family="DejaVu Sans,Liberation Sans,sans-serif" font-size="10.1" fill="#111">2012</text><line x1="861.9" y1="996.7" x2="884.8" y2="996.7" stroke="#ff8040" stroke-width="1.6"/><text x="885.7" y="1000.8" font-family="DejaVu Sans,Liberation Sans,sans-serif" font-size="10.1" fill="#111">2003</text><line x1="861.9" y1="1008.2" x2="884.8" y2="1008.2" stroke="#22dd22" stroke-width="1.8"/><text x="885.7" y="1012.3" font-family="DejaVu Sans,Liberation Sans,sans-serif" font-size="10.1" fill="#111">1991</text><line x1="861.9" y1="1019.6" x2="884.8" y2="1019.6" stroke="#6e1e8e" stroke-width="1.8"/><text x="885.7" y="1023.7" font-family="DejaVu Sans,Liberation Sans,sans-serif" font-size="10.1" fill="#111">1983</text><line x1="861.9" y1="1031.1" x2="884.8" y2="1031.1" stroke="#eeee00" stroke-width="1.9"/><text x="885.7" y="1035.2" font-family="DejaVu Sans,Liberation Sans,sans-serif" font-size="10.1" fill="#111">1977</text><line x1="861.9" y1="1042.5" x2="884.8" y2="1042.5" stroke="#3cbcee" stroke-width="1.9"/><text x="885.7" y="1046.6" font-family="DejaVu Sans,Liberation Sans,sans-serif" font-size="10.1" fill="#111">1965</text><line x1="861.9" y1="1053.9" x2="884.8" y2="1053.9" stroke="#ff1530" stroke-width="1.6"/><text x="885.7" y="1058.0" font-family="DejaVu Sans,Liberation Sans,sans-serif" font-size="10.1" fill="#111">1959</text><line x1="861.9" y1="1065.4" x2="884.8" y2="1065.4" stroke="#808080" stroke-width="1.9"/><text x="885.7" y="1069.5" font-family="DejaVu Sans,Liberation Sans,sans-serif" font-size="10.1" fill="#111">1944</text><line x1="861.9" y1="1076.8" x2="884.8" y2="1076.8" stroke="#000" stroke-width="2.0" stroke-dasharray="8.8 2.5 3.9 2.1"/><text x="885.7" y="1080.9" font-family="DejaVu Sans,Liberation Sans,sans-serif" font-size="10.1" fill="#111">ALS DSM</text><line x1="861.9" y1="1088.3" x2="884.8" y2="1088.3" stroke="#000" stroke-width="2.3"/><text x="885.7" y="1092.4" font-family="DejaVu Sans,Liberation Sans,sans-serif" font-size="10.1" fill="#111">ALS DTM</text>
</svg>
</body></html>
